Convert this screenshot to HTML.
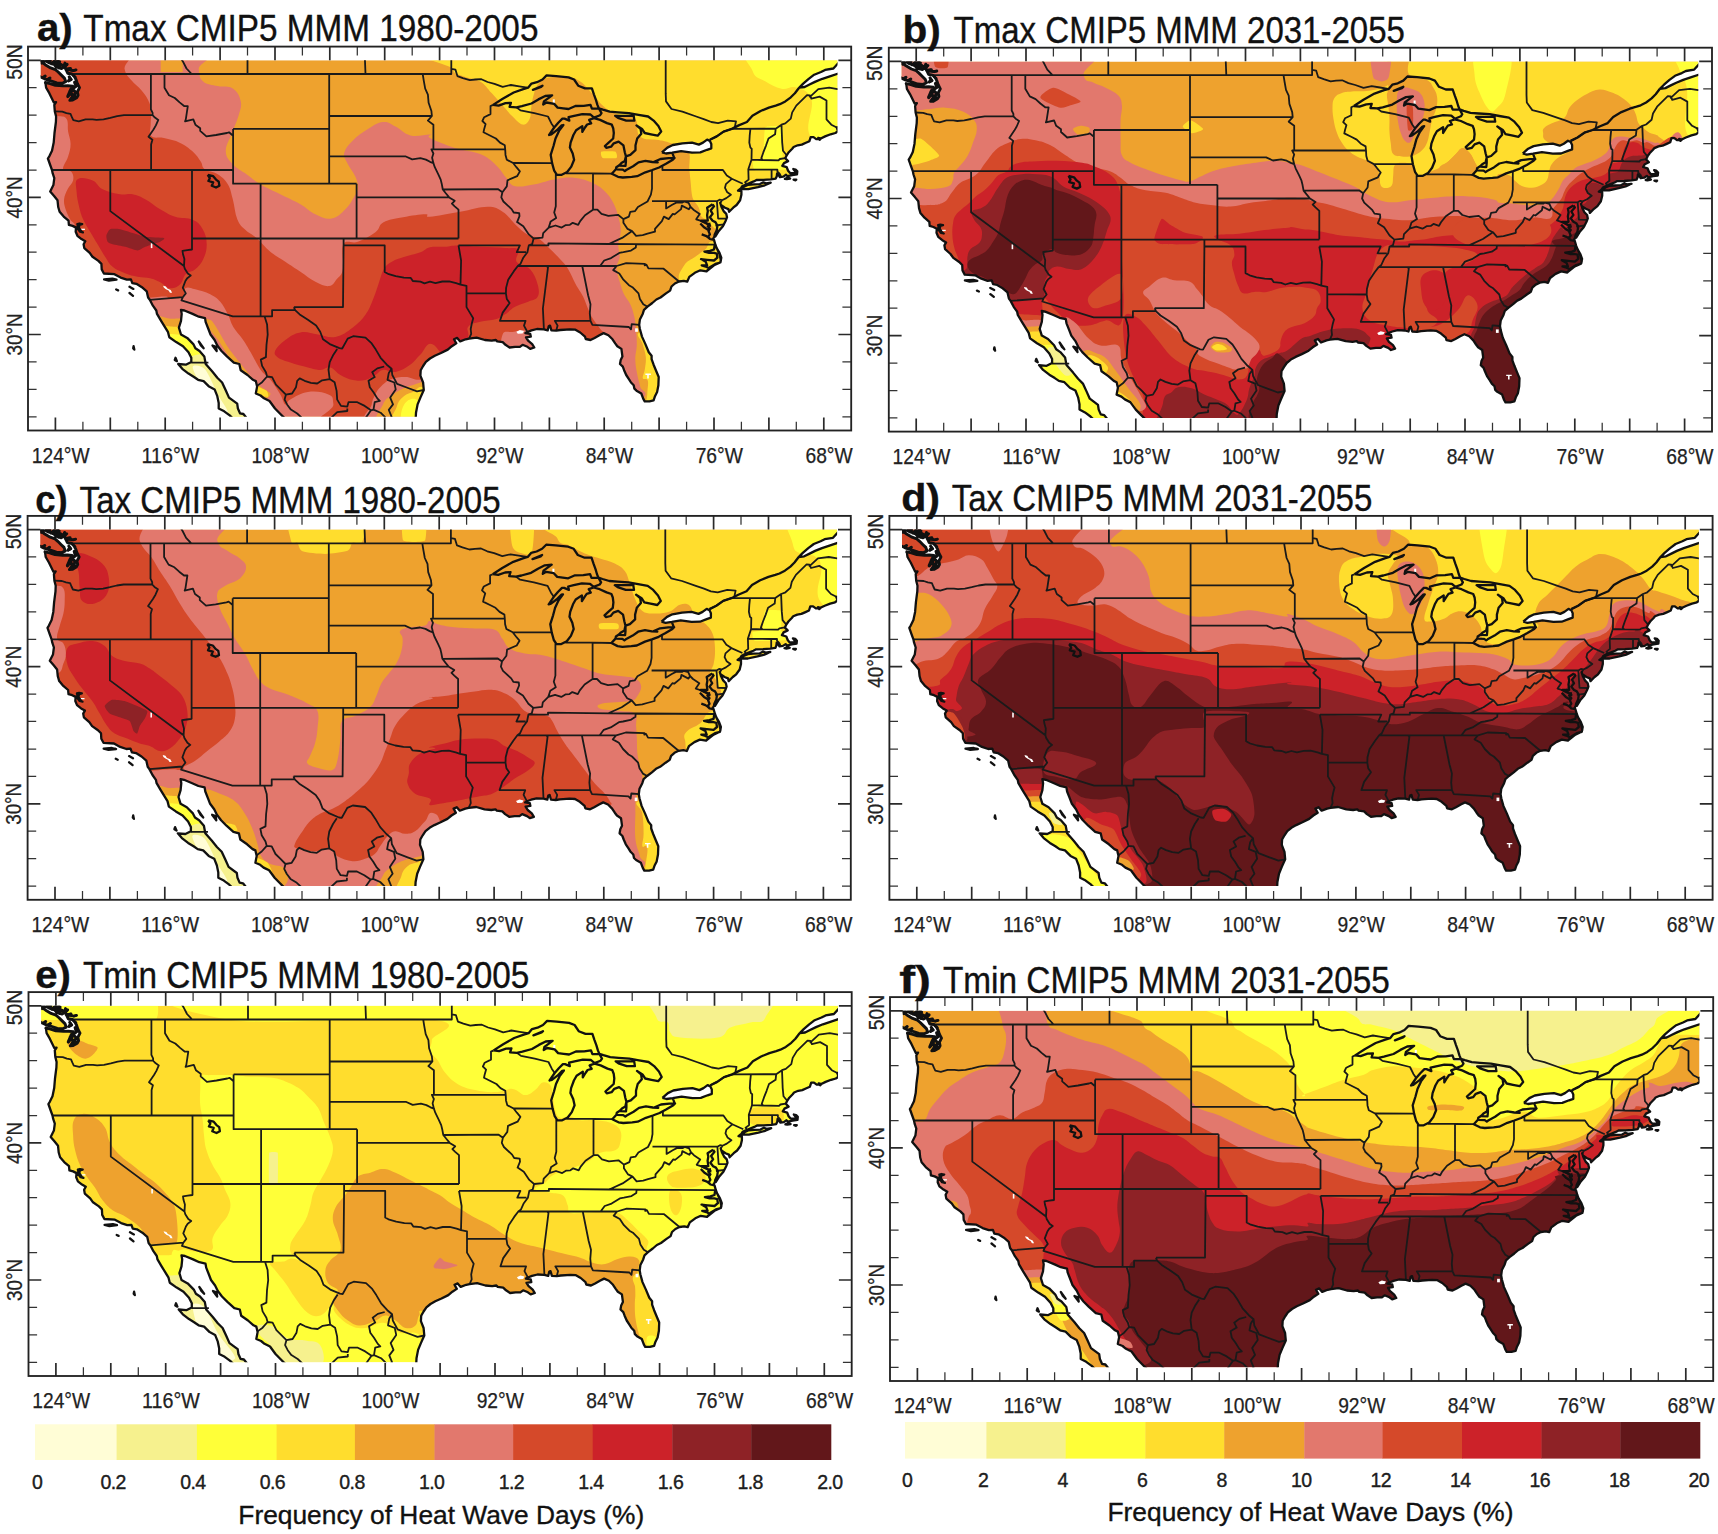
<!DOCTYPE html><html><head><meta charset="utf-8"><title>Frequency of Heat Wave Days</title><style>html,body{margin:0;padding:0;background:#fff}svg{display:block}text{font-family:"Liberation Sans",sans-serif;fill:#111;stroke:#111;stroke-width:0.35px}.tk{font-size:21.5px;fill:#222;stroke:#222;stroke-width:0.25px}.ti{font-size:36px}.tb{font-size:39px;font-weight:bold}.cb{font-size:19.5px;fill:#222;letter-spacing:-0.6px}.cl{font-size:26.6px}</style></head><body>
<svg width="1718" height="1534" viewBox="0 0 1718 1534">
<defs><clipPath id="dr"><rect x="40.6" y="60.3" width="796.9" height="356.5"/></clipPath>
<clipPath id="fc"><rect x="28.0" y="46.6" width="823.2" height="383.9"/></clipPath>
<g id="bm"><path d="M0.6 74.7 L36.2 74.7 L40.3 76.8 L44.5 78.8 L45.4 82.5 L46.1 87.7 L49.3 93.2 L52.0 98.7 L53.8 102.4 L56.1 102.1 L54.3 104.9 L54.8 111.4 L56.1 116.5 L55.9 122.0 L54.5 133.0 L53.7 142.6 L52.0 150.8 L49.3 156.3 L47.9 158.5 L50.0 164.5 L52.0 170.0 L52.7 173.4 L54.3 178.2 L53.4 185.1 L50.2 191.4 L54.1 196.0 L57.5 200.2 L58.2 207.0 L59.6 211.8 L63.7 216.6 L68.5 220.7 L68.9 224.8 L72.6 225.9 L76.0 227.6 L75.7 231.7 L77.4 235.8 L81.5 239.1 L85.3 241.3 L83.6 244.3 L84.3 248.1 L89.7 252.9 L92.5 256.8 L98.4 260.9 L101.4 263.9 L101.7 269.4 L103.9 273.5 L114.4 274.2 L120.6 277.6 L126.8 279.7 L130.9 279.3 L132.3 283.1 L136.4 283.8 L141.9 287.2 L146.7 291.3 L148.1 297.5 L149.8 299.8 L152.9 305.7 L156.3 310.5 L157.0 313.9 L161.1 320.8 L164.5 326.3 L167.9 331.8 L169.3 337.3 L176.2 342.1 L183.0 346.2 L188.5 352.3 L191.3 357.8 L191.3 361.9 L185.8 364.7 L178.2 364.0 L182.3 368.8 L188.5 373.6 L194.0 377.0 L198.1 379.8 L203.6 381.1 L209.1 386.6 L214.6 389.4 L217.3 396.2 L218.7 403.1 L218.7 408.5 L224.2 411.3 L229.7 415.4 L235.2 420.9 L235.2 444.2 L0.6 444.2ZM104.1 279.3 L108.9 280.6 L116.5 279.7 L112.4 278.7 L104.1 279.3ZM129.5 286.8 L133.4 288.9 L131.6 287.9 L129.5 286.8ZM129.5 293.0 L133.0 295.8 L130.9 294.1 L129.5 293.0ZM116.2 289.5 L118.1 290.4 L116.2 289.5ZM133.6 346.2 L134.3 349.6 L133.2 348.2 L133.6 346.2ZM175.5 357.8 L176.9 361.2 L174.8 359.9 L175.5 357.8Z" fill="#fff" fill-rule="evenodd" clip-path="url(#fc)"/>
<path d="M45.2 58.9 L45.8 61.0 L48.6 62.6 L54.1 64.4 L56.1 66.9 L61.6 68.5 L65.0 66.5 L65.7 69.2 L66.4 70.3 L67.8 73.3 L71.9 74.0 L74.6 76.8 L76.0 79.5 L77.4 83.6 L79.5 87.7 L77.4 91.8 L78.1 95.3 L76.7 97.7 L72.6 100.1 L69.8 100.3 L71.9 97.3 L74.6 96.0 L75.3 91.8 L73.3 89.8 L69.8 93.2 L67.8 96.0 L70.5 89.8 L72.6 86.1 L67.8 85.7 L63.0 85.9 L55.4 85.3 L50.0 83.6 L45.4 82.5 L45.0 80.9 L44.5 78.8 L50.0 80.5 L56.8 82.9 L62.3 83.3 L65.7 81.6 L64.4 78.1 L61.6 75.4 L58.2 72.0 L55.4 69.6 L50.6 67.9 L45.2 64.7 L41.7 62.0 L38.3 59.2 L37.6 56.2 L45.2 56.2Z" fill="#fff" fill-rule="evenodd" clip-path="url(#fc)"/>
<path d="M248.9 420.9 L243.4 414.0 L240.0 413.3 L237.9 408.5 L237.2 403.7 L229.0 397.6 L225.6 390.0 L222.1 382.5 L217.3 377.7 L212.3 371.5 L205.7 364.0 L204.3 356.4 L199.5 351.0 L195.4 348.2 L193.3 344.1 L187.2 337.9 L181.0 334.5 L178.9 327.7 L181.0 320.8 L181.7 313.9 L181.0 309.8 L184.4 310.5 L192.6 313.9 L198.8 316.7 L205.0 318.1 L205.7 322.2 L208.4 329.0 L210.5 334.5 L214.6 340.0 L217.3 345.5 L221.5 351.0 L226.9 356.4 L233.8 362.6 L239.3 364.0 L240.7 370.2 L247.5 375.0 L253.0 379.8 L255.8 381.1 L257.1 386.6 L255.8 393.5 L260.6 395.5 L264.0 398.3 L269.5 401.0 L275.0 408.5 L280.4 414.0 L285.9 419.5ZM198.8 341.4 L203.6 348.2 L200.9 345.5 L198.8 341.4ZM212.5 345.5 L216.7 351.0 L216.0 346.8 L212.5 345.5Z" fill="#fff" fill-rule="evenodd" clip-path="url(#fc)"/>
<path d="M415.6 420.9 L416.0 412.7 L417.6 404.4 L420.4 397.6 L423.8 390.0 L423.1 382.5 L420.4 375.6 L420.7 370.2 L423.1 366.0 L425.9 361.9 L430.0 358.5 L434.8 355.8 L441.0 353.0 L447.8 349.6 L451.9 346.2 L456.3 343.4 L454.0 339.3 L457.2 337.9 L460.2 341.4 L465.7 339.3 L469.1 338.6 L476.6 337.7 L484.9 340.0 L491.7 340.7 L495.9 340.0 L497.2 341.4 L502.7 342.1 L505.5 344.8 L509.6 347.5 L515.1 346.8 L519.9 346.8 L522.6 344.8 L527.4 346.8 L530.2 348.9 L534.3 347.5 L532.2 344.1 L528.1 340.7 L526.0 337.3 L530.8 336.6 L530.2 333.8 L525.4 333.1 L527.4 332.0 L531.5 330.4 L537.0 329.0 L543.9 329.4 L547.7 330.4 L548.7 326.3 L550.0 325.6 L551.4 330.4 L556.2 330.7 L560.3 330.0 L569.9 329.3 L575.4 329.7 L580.2 332.5 L585.0 336.6 L585.7 339.0 L590.5 340.0 L594.6 337.9 L599.4 335.2 L603.6 333.1 L608.4 335.2 L612.5 339.3 L615.2 343.4 L617.3 346.2 L621.4 348.9 L622.4 356.4 L620.7 359.9 L620.0 364.0 L622.8 366.7 L624.1 370.2 L626.2 375.0 L628.9 379.1 L631.0 382.5 L633.7 385.2 L634.4 388.7 L636.5 390.7 L641.3 393.5 L643.3 398.9 L644.7 401.3 L649.5 401.3 L653.6 400.3 L655.0 396.2 L657.1 392.1 L658.4 385.2 L658.7 377.0 L656.4 371.5 L653.6 364.7 L651.6 359.2 L651.6 355.8 L648.8 352.3 L645.4 344.1 L642.0 336.6 L639.9 329.0 L639.2 324.9 L639.9 319.4 L642.7 313.9 L644.0 309.8 L647.5 306.7 L652.3 303.0 L656.4 299.5 L660.5 297.5 L666.0 293.4 L670.1 290.6 L671.5 286.5 L674.9 283.5 L679.0 281.5 L683.8 280.8 L687.2 281.7 L689.3 276.9 L694.8 272.8 L700.3 270.3 L706.5 271.4 L709.9 267.3 L715.4 263.9 L720.4 262.5 L721.3 257.7 L719.5 252.9 L716.7 248.1 L715.4 244.7 L714.0 239.9 L713.3 238.5 L714.4 236.5 L715.4 236.5 L718.8 231.0 L722.9 226.2 L725.7 220.7 L727.0 217.3 L726.3 213.9 L723.6 211.1 L721.5 207.0 L720.2 202.9 L720.9 205.0 L725.0 207.7 L728.4 209.1 L729.1 211.8 L733.2 207.7 L736.6 205.0 L740.1 200.2 L741.4 194.7 L741.4 191.2 L738.0 190.6 L740.8 188.5 L742.1 186.4 L744.9 185.1 L749.7 183.0 L753.8 181.4 L756.5 180.0 L763.4 179.9 L770.8 179.3 L775.7 178.6 L776.8 176.2 L777.1 173.4 L778.5 174.8 L779.9 177.1 L783.3 176.6 L786.0 174.8 L787.4 176.2 L792.2 175.1 L797.0 174.4 L797.3 171.4 L795.6 169.6 L793.3 169.0 L794.9 171.1 L795.6 173.0 L790.1 173.1 L788.1 170.7 L786.7 167.2 L782.3 165.9 L784.0 163.1 L788.1 161.1 L785.3 158.3 L786.7 155.3 L788.8 152.2 L792.2 148.7 L793.6 147.0 L797.7 145.3 L801.8 144.6 L805.9 142.8 L809.4 141.2 L810.7 137.1 L813.5 137.1 L816.2 139.1 L820.3 138.7 L825.1 136.4 L830.6 134.3 L835.4 133.0 L837.9 131.2 L836.8 127.5 L840.2 127.5 L847.1 126.8 L853.9 124.7 L864.9 124.7 L864.9 444.2 L415.6 444.2ZM741.0 189.2 L748.3 189.2 L757.9 187.1 L764.8 185.3 L770.7 182.7 L766.1 183.3 L763.4 182.3 L760.0 184.1 L753.8 184.4 L748.3 184.8 L744.5 186.4 L741.0 189.2ZM784.9 178.9 L788.1 177.5 L790.1 178.5 L786.7 179.2 L784.9 178.9ZM793.6 179.6 L796.3 179.6 L795.6 180.3 L793.6 179.6Z" fill="#fff" fill-rule="evenodd" clip-path="url(#fc)"/>
<path d="M799.1 87.7 L804.6 87.0 L810.0 84.3 L815.5 81.6 L822.4 78.8 L830.6 76.1 L838.9 73.3 L848.5 71.3 L858.1 70.6 L858.1 56.2 L845.7 57.6 L838.9 62.4 L833.4 68.5 L825.1 69.9 L821.0 72.0 L814.2 74.7 L808.7 78.8 L803.2 83.6 L799.1 87.7Z" fill="#fff" fill-rule="evenodd" clip-path="url(#fc)"/>
<path d="M661.9 152.4 L667.4 147.6 L672.8 145.0 L682.4 143.3 L692.0 142.6 L698.9 144.6 L703.0 142.6 L707.1 139.6 L709.9 140.9 L711.3 143.9 L711.3 148.3 L707.1 149.8 L700.3 152.4 L692.0 152.6 L681.1 151.1 L672.2 152.6 L666.0 153.5 L661.9 152.4Z" fill="#fff" fill-rule="evenodd" clip-path="url(#fc)"/>
<path d="M516.4 331.8 L519.9 330.1 L524.0 331.1 L522.6 333.4 L517.8 333.8Z" fill="#fff"/>
<path d="M163.1 285.8 L165.9 286.5 L167.3 288.6 L170.7 290.0 L172.1 292.7 L170.0 292.7 L168.6 290.6 L165.9 289.3 L163.8 287.6Z" fill="#fff"/>
<path d="M150.8 243.3 L152.4 243.3 L152.4 248.1 L150.8 248.1Z" fill="#fff"/>
<path d="M645.4 373.6 L650.9 373.6 L650.9 375.0 L648.8 375.0 L648.8 378.4 L647.2 378.4 L647.2 375.0 L645.4 375.0Z" fill="#fff"/>
<path d="M635.1 328.3 L637.9 328.3 L637.9 331.8 L635.1 331.8Z" fill="#fff"/>
<path d="M552.8 99.4 L554.8 99.4 L554.8 103.5 L552.8 103.5Z" fill="#fff"/>
<path d="M80.8 228.7 L84.9 228.7 L84.9 230.0 L80.8 230.0Z" fill="#fff"/>
<path d="M28.0 46.6H851.2V430.5H28.0ZM40.6 60.3H837.5V416.8H40.6Z" fill="#fff" fill-rule="evenodd"/>
<g clip-path="url(#dr)">
<path d="M67.8 74.0 L451.3 74.0 L451.3 68.8 L455.4 69.6 L457.4 76.1 L462.9 78.1 L469.8 80.2 L475.3 79.5 L481.4 79.2 L487.6 82.0 L494.5 83.9 L502.7 86.8 L510.9 85.0 L519.2 86.4 L527.4 87.7M54.8 111.4 L62.3 111.7 L66.4 113.1 L70.5 113.8 L71.9 117.2 L73.3 120.2 L78.8 121.3 L85.6 119.3 L92.5 119.3 L96.6 119.9 L103.5 119.3 L110.3 117.9 L117.2 116.2 L124.0 115.2 L152.6 115.2M150.9 74.0 L150.9 109.4 L152.6 112.8 L152.6 115.2 L154.9 117.6 L158.3 119.9 L155.9 125.4 L153.5 129.5 L148.5 136.8 L152.4 139.8 L151.1 144.6 L151.1 170.0M52.6 170.0 L233.1 170.0M110.3 170.0 L110.3 211.1 L184.0 266.0 L184.8 268.7 L187.8 273.5 L190.7 275.6 L187.2 278.3 L185.4 281.0 L182.8 287.9 L185.8 293.4 L182.8 297.2M184.0 266.0 L184.4 259.1 L183.0 254.3 L182.5 250.9 L187.2 250.2 L192.0 249.5 L192.0 170.0M149.8 299.8 L182.8 297.2 L181.5 300.4 L232.8 316.3 L272.1 316.3 L272.1 310.1 L295.1 310.1M293.9 307.1 L295.1 310.1 L299.7 314.4 L307.9 319.7 L316.1 325.6 L320.2 331.8 L323.0 339.3 L329.8 344.1 L339.4 348.2 L342.2 348.5 L347.7 338.6 L353.2 336.2 L365.5 337.7 L371.7 343.4 L375.8 349.6 L380.6 357.8 L386.8 364.7 L391.6 368.8 L392.3 375.0 L397.1 383.9 L408.0 388.0 L417.0 391.4 L423.8 390.0M164.5 74.0 L164.5 87.7 L169.0 95.3 L174.8 98.0 L179.6 102.4 L184.4 106.2 L187.8 106.2 L185.8 119.3 L185.1 121.3 L193.3 119.4 L195.4 124.7 L200.2 128.2 L200.2 130.9 L206.4 136.4 L216.0 135.0 L226.9 133.0 L229.0 132.3 L233.1 135.7M233.1 128.9 L329.2 128.9M233.1 128.9 L233.1 183.7 L356.6 183.7M329.2 74.0 L329.2 183.7M329.2 116.0 L431.9 116.0M329.2 156.3 L405.3 156.3 L412.2 159.4 L420.4 158.2 L425.9 159.6 L430.0 161.8 L433.4 163.1M356.6 183.7 L356.6 238.5M356.6 197.4 L449.2 197.4M260.6 183.7 L260.6 316.3M192.0 238.5 L458.5 238.5M343.6 238.5 L343.6 245.4 L343.0 307.1 L293.9 307.1M343.6 245.4 L384.7 245.4 L384.7 272.0 L388.8 274.2 L395.7 276.2 L403.9 277.6 L410.8 277.9 L412.8 281.0 L420.4 281.7 L424.5 283.4 L430.0 281.7 L435.5 283.1 L442.3 281.5 L449.2 281.3 L456.1 283.1 L460.5 284.6 L466.5 285.8 L466.5 307.1 L469.8 312.6 L473.2 318.3 L471.8 323.5 L470.7 329.0 L471.2 333.8 L469.1 338.6M458.5 245.4 L461.1 260.5 L460.5 284.6M466.5 293.1 L505.9 293.4M458.5 245.4 L519.9 245.4 L516.8 252.2 L526.0 252.2M458.5 238.5 L458.5 209.7 L454.7 206.3 L451.9 203.6 L454.7 200.8 L449.2 197.4 L445.8 193.3 L442.8 189.5 L441.7 183.7 L440.7 179.6 L438.2 174.1 L434.8 167.2 L433.4 163.1 L432.1 157.7 L433.4 153.5 L431.4 149.4 L433.4 149.4 L433.4 124.7 L427.9 120.6 L431.9 116.0 L431.4 111.0 L428.6 102.8 L427.9 94.6 L425.2 88.7 L423.8 80.9 L422.7 74.0M442.8 189.5 L498.2 189.2 L502.4 192.2M433.4 149.4 L505.2 149.4M493.1 104.9 L490.5 106.1 L490.5 114.1 L484.2 117.2 L482.4 121.0 L485.6 124.1 L484.2 128.9 L483.5 132.3 L490.4 135.7 L495.9 138.5 L500.0 142.6 L504.8 145.3 L505.2 149.4 L505.5 154.9 L506.8 159.7 L513.1 163.0 L516.4 167.2 L519.9 171.4 L517.1 176.2 L507.5 180.3 L506.8 186.4 L502.4 192.2 L501.3 197.4 L503.4 201.5 L511.6 209.1 L513.7 212.5 L519.2 213.2 L519.5 216.2 L517.1 222.1 L523.3 226.2 L528.8 234.4 L533.6 238.5 L532.2 244.0 L528.8 245.4 L527.4 252.2 L523.3 257.7 L520.5 263.9 L517.8 266.0 L513.7 271.4 L508.2 279.7 L506.1 287.9 L505.9 293.4 L506.8 298.9 L509.6 303.0 L502.7 312.6 L500.0 320.8 L525.6 320.8 L524.0 325.6 L527.4 332.0M513.1 163.0 L552.1 163.1M516.4 107.3 L520.5 110.4 L534.3 113.1 L548.0 116.5 L551.4 123.4 L554.2 127.5M555.8 174.1 L555.8 206.3 L554.2 212.5 L556.2 218.0 L550.7 221.4 L548.7 227.6 L543.2 233.1 L542.5 237.6 L533.6 238.5M548.7 227.6 L555.5 225.5 L561.7 227.6 L565.8 225.1 L569.9 224.8 L572.7 222.8 L578.2 224.8 L580.2 221.1 L585.0 215.2 L593.0 209.7 L597.4 209.7 L601.5 213.9 L608.4 215.9 L618.0 214.8 L623.4 219.1 L628.9 216.6 L630.3 211.8 L635.1 211.1 L637.9 207.0 L647.5 201.5 L650.9 194.7 L652.0 188.6 L652.0 170.0M593.0 209.7 L593.0 174.1M565.8 173.3 L593.0 173.3 L611.8 173.7M652.0 201.2 L716.9 201.2 L719.5 199.7 L722.0 200.2M716.9 201.2 L718.1 218.5 L727.0 218.7M662.4 166.3 L662.4 170.0 L722.9 170.0 L726.8 175.5 L731.8 178.8 L725.9 184.1 L725.0 187.8 L727.0 191.9 L730.9 194.7 L726.3 198.1 L722.0 200.2 L720.2 202.9M731.8 178.8 L742.8 183.7M666.1 201.2 L666.1 208.4 L672.2 204.7 L676.3 202.6 L682.4 202.6 L684.1 201.5 L688.6 202.9 L690.4 206.7 L693.4 209.7 L699.7 213.9 L696.2 219.3 L700.3 220.7 L709.9 225.5M715.4 225.5 L724.3 224.4M690.4 206.7 L688.9 209.3 L681.8 205.6 L681.1 209.1 L674.6 214.4 L672.8 213.9 L668.7 219.1 L663.9 216.6 L661.9 221.1 L655.0 228.9 L655.0 231.7 L647.5 233.7 L642.7 235.1 L636.1 235.8 L632.1 231.1 L627.6 228.9 L623.4 222.8 L623.4 219.1M632.1 231.1 L622.1 237.9 L608.8 244.0M715.8 244.7 L636.1 244.2 L608.8 244.0 L548.4 243.3 L548.4 245.4 L528.8 245.4M636.1 244.2 L635.8 247.5 L631.0 250.6 L623.4 252.2 L619.3 252.9 L611.1 258.1 L604.2 260.5 L600.1 266.0M616.6 266.0 L517.8 266.0M616.6 266.0 L626.2 263.2 L644.9 263.9 L644.7 265.3 L646.4 264.6 L648.4 268.4 L663.6 268.7 L679.0 281.5M616.6 266.0 L613.2 270.1 L619.3 273.5 L623.4 279.7 L628.9 285.2 L632.4 287.2 L638.5 293.4 L639.9 298.9 L643.3 304.3 L647.5 306.7M639.2 324.9 L631.7 324.2 L631.0 329.4 L628.9 327.0 L592.4 324.9 L590.5 320.8 L554.8 320.8 L557.6 325.6 L556.2 330.7M590.5 320.8 L589.8 313.3 L590.5 304.3 L588.1 295.2 L582.3 266.2M546.6 266.0 L548.0 267.3 L542.9 308.5 L543.9 329.4M709.9 139.8 L716.7 136.4 L723.6 131.6 L731.8 128.9 L775.7 128.7M750.4 128.9 L749.7 135.7 L749.3 142.6 L750.4 147.6 L751.7 148.7 L751.5 159.7 L748.3 169.3 L748.6 179.6 L745.1 182.3 L746.2 183.7M751.5 159.7 L762.6 160.0 L778.5 160.4 L779.9 159.0 L785.1 158.1M775.7 128.7 L775.1 134.3 L768.5 138.5 L766.1 145.3 L763.4 152.2 L761.3 158.3 L762.6 160.0M748.3 169.3 L771.6 169.7 L777.4 169.7 L777.4 171.4 L779.9 174.1 L781.0 176.8M771.6 169.7 L771.6 179.3M786.7 155.3 L783.0 150.8 L782.2 142.6 L781.5 124.7M775.7 128.7 L781.5 124.7 L785.3 123.4 L790.8 118.6 L792.2 112.4 L796.3 105.6 L807.0 95.1 L810.0 95.3 L811.4 98.7 L819.6 96.6 L826.5 100.5 L826.5 119.3 L831.3 124.7 L836.8 127.5M809.4 97.3 L818.3 89.1 L829.2 87.7 L837.5 89.1 L843.0 87.7M191.7 74.0 L186.5 68.5 L183.0 61.7 L179.6 56.2M247.5 74.0 L247.5 56.2M365.5 74.0 L364.8 56.2M451.3 68.8 L451.3 56.2M665.7 56.2 L665.7 93.9 L666.0 101.4 L671.5 109.0 L682.4 111.7 L696.2 116.5 L704.4 119.3 L711.3 122.0 L718.1 123.1 L727.7 120.6 L736.0 121.3 L734.6 128.2M191.3 362.6 L208.4 362.6M264.7 316.7 L267.1 324.6 L267.7 334.6 L266.5 344.7 L265.9 357.1 L260.8 359.6 L262.1 365.9 L265.9 372.2 L267.1 376.5 L272.1 377.1 L275.9 384.7 L280.9 389.6 L285.9 394.7M267.1 376.5 L262.1 382.2 L257.1 385.9M285.9 394.7 L284.6 399.6 L287.2 404.7 L290.9 409.6 L297.2 413.5 L302.1 418.1M285.9 394.7 L292.1 393.5 L296.0 387.2 L297.2 380.8 L299.7 378.4 L304.6 380.8 L310.9 382.8 L317.2 383.5 L322.2 380.3 L329.7 379.1M337.2 349.0 L333.4 354.7 L329.7 362.2 L328.5 369.6 L329.7 379.1 L334.6 382.2 L336.6 390.9 L337.2 399.6 L341.0 405.9 L347.3 406.6 L348.5 402.2 L357.3 402.2 L364.7 405.9 L371.0 410.3M347.3 408.5 L347.3 411.0 L337.2 412.2 L330.9 418.1M384.2 366.5 L377.3 368.4 L372.2 372.2 L374.7 377.1 L368.5 380.8 L369.8 387.2 L373.5 392.2 L377.3 398.4 L379.8 400.9 L374.7 402.2 L373.5 409.6 L371.0 410.3 L365.5 418.1M391.6 368.8 L388.8 372.9 L387.5 379.8 L394.3 382.5 L395.7 389.4 L390.2 397.6 L393.0 404.4 L388.8 409.9 L391.6 416.8 L387.5 420.9M373.5 409.6 L380.6 412.7 L386.1 418.1" fill="none" stroke="#1a1a1a" stroke-width="1.8" stroke-linejoin="round"/>
<path d="M38.3 59.2 L41.7 62.0 L45.2 64.7 L50.6 67.9 L55.4 69.6 L58.2 72.0 L61.6 75.4 L64.4 78.1 L65.7 81.6 L62.3 83.3 L56.8 82.9 L50.0 80.5 L44.5 78.8 L40.3 76.8 L36.2 74.7M45.2 58.9 L45.8 61.0 L48.6 62.6 L54.1 64.4 L56.1 66.9 L61.6 68.5 L65.0 66.5 L65.7 69.2 L66.4 70.3 L67.8 73.3 L71.9 74.0 L74.6 76.8 L76.0 79.5 L77.4 83.6 L79.5 87.7 L77.4 91.8 L78.1 95.3 L76.7 97.7 L72.6 100.1 L69.8 100.3 L71.9 97.3 L74.6 96.0 L75.3 91.8 L73.3 89.8 L69.8 93.2 L67.8 96.0 L70.5 89.8 L72.6 86.1 L67.8 85.7 L63.0 85.9 L55.4 85.3 L50.0 83.6 L45.4 82.5M39.0 60.3 L42.4 61.0M47.2 61.7 L48.6 58.9M52.7 64.1 L54.1 61.0M57.5 66.5 L59.6 61.7M63.7 67.2 L65.0 63.1M66.4 69.2 L70.5 68.5M72.6 74.7 L75.3 77.4M72.6 94.6 L75.3 98.0M69.8 91.2 L72.6 96.0M43.1 77.4 L45.2 76.1M47.9 79.2 L50.0 77.9M43.1 59.6 L43.8 61.7 L41.7 63.1M49.3 62.4 L50.6 59.6M58.9 67.9 L60.9 64.4 L63.0 65.8M69.8 69.9 L73.3 70.6 L76.0 69.9M69.2 76.8 L71.2 79.5 L68.5 80.9 L69.8 78.8M74.6 82.2 L76.0 86.4 L74.0 87.7M67.8 96.6 L71.2 92.5M45.8 61.0 L47.9 57.6M56.1 66.9 L56.1 63.1 L58.9 58.9M65.0 66.5 L67.1 64.4M67.8 69.9 L71.2 69.9M51.3 63.7 L55.4 60.3" fill="none" stroke="#111" stroke-width="2.9" stroke-linejoin="round" stroke-linecap="round"/>
<path d="M45.4 82.5 L46.1 87.7 L49.3 93.2 L52.0 98.7 L53.8 102.4 L56.1 102.1 L54.3 104.9 L54.8 111.4 L56.1 116.5 L55.9 122.0 L54.5 133.0 L53.7 142.6 L52.0 150.8 L49.3 156.3 L47.9 158.5 L50.0 164.5 L52.0 170.0 L52.7 173.4 L54.3 178.2 L53.4 185.1 L50.2 191.4 L54.1 196.0 L57.5 200.2 L58.2 207.0 L59.6 211.8 L63.7 216.6 L68.5 220.7 L68.9 224.8 L72.6 225.9 L76.0 227.6 L75.7 231.7 L77.4 235.8 L81.5 239.1 L85.3 241.3 L83.6 244.3 L84.3 248.1 L89.7 252.9 L92.5 256.8 L98.4 260.9 L101.4 263.9 L101.7 269.4 L103.9 273.5 L114.4 274.2 L120.6 277.6 L126.8 279.7 L130.9 279.3 L132.3 283.1 L136.4 283.8 L141.9 287.2 L146.7 291.3 L148.1 297.5 L149.8 299.8 L152.9 305.7 L156.3 310.5 L157.0 313.9 L161.1 320.8 L164.5 326.3 L167.9 331.8 L169.3 337.3 L176.2 342.1 L183.0 346.2 L188.5 352.3 L191.3 357.8 L191.3 361.9 L185.8 364.7 L178.2 364.0 L182.3 368.8 L188.5 373.6 L194.0 377.0 L198.1 379.8 L203.6 381.1 L209.1 386.6 L214.6 389.4 L217.3 396.2 L218.7 403.1 L218.7 408.5 L224.2 411.3 L229.7 415.4 L235.2 420.9M248.9 420.9 L243.4 414.0 L240.0 413.3 L237.9 408.5 L237.2 403.7 L229.0 397.6 L225.6 390.0 L222.1 382.5 L217.3 377.7 L212.3 371.5 L205.7 364.0 L204.3 356.4 L199.5 351.0 L195.4 348.2 L193.3 344.1 L187.2 337.9 L181.0 334.5 L178.9 327.7 L181.0 320.8 L181.7 313.9 L181.0 309.8 L184.4 310.5 L192.6 313.9 L198.8 316.7 L205.0 318.1 L205.7 322.2 L208.4 329.0 L210.5 334.5 L214.6 340.0 L217.3 345.5 L221.5 351.0 L226.9 356.4 L233.8 362.6 L239.3 364.0 L240.7 370.2 L247.5 375.0 L253.0 379.8 L255.8 381.1 L257.1 386.6 L255.8 393.5 L260.6 395.5 L264.0 398.3 L269.5 401.0 L275.0 408.5 L280.4 414.0 L285.9 419.5M415.6 420.9 L416.0 412.7 L417.6 404.4 L420.4 397.6 L423.8 390.0 L423.1 382.5 L420.4 375.6 L420.7 370.2 L423.1 366.0 L425.9 361.9 L430.0 358.5 L434.8 355.8 L441.0 353.0 L447.8 349.6 L451.9 346.2 L456.3 343.4 L454.0 339.3 L457.2 337.9 L460.2 341.4 L465.7 339.3 L469.1 338.6 L476.6 337.7 L484.9 340.0 L491.7 340.7 L495.9 340.0 L497.2 341.4 L502.7 342.1 L505.5 344.8 L509.6 347.5 L515.1 346.8 L519.9 346.8 L522.6 344.8 L527.4 346.8 L530.2 348.9 L534.3 347.5 L532.2 344.1 L528.1 340.7 L526.0 337.3 L530.8 336.6 L530.2 333.8 L525.4 333.1 L527.4 332.0 L531.5 330.4 L537.0 329.0 L543.9 329.4 L547.7 330.4 L548.7 326.3 L550.0 325.6 L551.4 330.4 L556.2 330.7 L560.3 330.0 L569.9 329.3 L575.4 329.7 L580.2 332.5 L585.0 336.6 L585.7 339.0 L590.5 340.0 L594.6 337.9 L599.4 335.2 L603.6 333.1 L608.4 335.2 L612.5 339.3 L615.2 343.4 L617.3 346.2 L621.4 348.9 L622.4 356.4 L620.7 359.9 L620.0 364.0 L622.8 366.7 L624.1 370.2 L626.2 375.0 L628.9 379.1 L631.0 382.5 L633.7 385.2 L634.4 388.7 L636.5 390.7 L641.3 393.5 L643.3 398.9 L644.7 401.3 L649.5 401.3 L653.6 400.3 L655.0 396.2 L657.1 392.1 L658.4 385.2 L658.7 377.0 L656.4 371.5 L653.6 364.7 L651.6 359.2 L651.6 355.8 L648.8 352.3 L645.4 344.1 L642.0 336.6 L639.9 329.0 L639.2 324.9 L639.9 319.4 L642.7 313.9 L644.0 309.8 L647.5 306.7 L652.3 303.0 L656.4 299.5 L660.5 297.5 L666.0 293.4 L670.1 290.6 L671.5 286.5 L674.9 283.5 L679.0 281.5 L683.8 280.8 L687.2 281.7 L689.3 276.9 L694.8 272.8 L700.3 270.3 L706.5 271.4 L709.9 267.3 L715.4 263.9 L720.4 262.5 L721.3 257.7 L719.5 252.9 L716.7 248.1 L715.4 244.7 L714.0 239.9 L713.3 238.5 L714.4 236.5 L715.4 236.5 L718.8 231.0 L722.9 226.2 L725.7 220.7 L727.0 217.3 L726.3 213.9 L723.6 211.1 L721.5 207.0 L720.2 202.9 L720.9 205.0 L725.0 207.7 L728.4 209.1 L729.1 211.8 L733.2 207.7 L736.6 205.0 L740.1 200.2 L741.4 194.7 L741.4 191.2 L738.0 190.6 L740.8 188.5 L742.1 186.4 L744.9 185.1 L749.7 183.0 L753.8 181.4 L756.5 180.0 L763.4 179.9 L770.8 179.3 L775.7 178.6 L776.8 176.2 L777.1 173.4 L778.5 174.8 L779.9 177.1 L783.3 176.6 L786.0 174.8 L787.4 176.2 L792.2 175.1 L797.0 174.4 L797.3 171.4 L795.6 169.6 L793.3 169.0 L794.9 171.1 L795.6 173.0 L790.1 173.1 L788.1 170.7 L786.7 167.2 L782.3 165.9 L784.0 163.1 L788.1 161.1 L785.3 158.3 L786.7 155.3 L788.8 152.2 L792.2 148.7 L793.6 147.0 L797.7 145.3 L801.8 144.6 L805.9 142.8 L809.4 141.2 L810.7 137.1 L813.5 137.1 L816.2 139.1 L820.3 138.7 L825.1 136.4 L830.6 134.3 L835.4 133.0 L837.9 131.2 L836.8 127.5 L840.2 127.5 L847.1 126.8 L853.9 124.7M799.1 87.7 L804.6 87.0 L810.0 84.3 L815.5 81.6 L822.4 78.8 L830.6 76.1 L838.9 73.3 L848.5 71.3 L858.1 70.6M858.1 56.2 L845.7 57.6 L838.9 62.4 L833.4 68.5 L825.1 69.9 L821.0 72.0 L814.2 74.7 L808.7 78.8 L803.2 83.6 L799.1 87.7M39.0 60.3 L42.4 61.0M47.2 61.7 L48.6 58.9M52.7 64.1 L54.1 61.0M57.5 66.5 L59.6 61.7M63.7 67.2 L65.0 63.1M66.4 69.2 L70.5 68.5M72.6 74.7 L75.3 77.4M72.6 94.6 L75.3 98.0M69.8 91.2 L72.6 96.0M43.1 77.4 L45.2 76.1M47.9 79.2 L50.0 77.9M43.1 59.6 L43.8 61.7 L41.7 63.1M49.3 62.4 L50.6 59.6M58.9 67.9 L60.9 64.4 L63.0 65.8M69.8 69.9 L73.3 70.6 L76.0 69.9M69.2 76.8 L71.2 79.5 L68.5 80.9 L69.8 78.8M74.6 82.2 L76.0 86.4 L74.0 87.7M67.8 96.6 L71.2 92.5M45.8 61.0 L47.9 57.6M56.1 66.9 L56.1 63.1 L58.9 58.9M65.0 66.5 L67.1 64.4M67.8 69.9 L71.2 69.9M51.3 63.7 L55.4 60.3M714.0 239.9 L709.9 239.0 L707.8 237.2 L709.9 234.4 L708.5 231.0 L709.9 228.9 L707.8 226.2 L709.9 225.2 L705.8 222.8 L701.0 220.7 L707.8 220.7 L707.1 215.2 L707.8 211.1 L707.1 207.7 L712.6 204.3M712.6 204.3 L714.0 206.3 L710.6 210.4 L712.6 213.9 L709.9 217.3 L712.6 220.7 L715.4 222.1 L717.4 225.5 L716.7 230.3 L714.7 234.4 L714.4 236.5M709.9 238.5 L705.8 235.8 L701.7 234.4M709.9 231.0 L704.4 227.6 L700.3 223.5M709.9 226.9 L709.2 222.8M76.0 227.6 L78.1 226.9 L77.4 224.1 L79.5 223.5 L82.2 224.1 L79.5 224.8 L78.8 227.6 L81.5 231.7 L82.9 232.4 L80.1 231.7 L77.4 228.3 L76.0 227.6M709.9 139.8 L716.7 136.4 L723.6 131.6 L731.8 128.9 L738.7 125.4 L746.9 122.0 L752.4 115.8 L760.6 111.0 L768.9 107.6 L775.7 105.6 L779.9 104.2 L785.3 101.4 L790.8 97.3 L794.9 93.2 L799.1 87.7M104.1 279.3 L108.9 280.6 L116.5 279.7 L112.4 278.7 L104.1 279.3ZM129.5 286.8 L133.4 288.9 L131.6 287.9 L129.5 286.8ZM129.5 293.0 L133.0 295.8 L130.9 294.1 L129.5 293.0ZM116.2 289.5 L118.1 290.4 L116.2 289.5ZM133.6 346.2 L134.3 349.6 L133.2 348.2 L133.6 346.2ZM175.5 357.8 L176.9 361.2 L174.8 359.9 L175.5 357.8ZM198.8 341.4 L203.6 348.2 L200.9 345.5 L198.8 341.4ZM212.5 345.5 L216.7 351.0 L216.0 346.8 L212.5 345.5ZM741.0 189.2 L748.3 189.2 L757.9 187.1 L764.8 185.3 L770.7 182.7 L766.1 183.3 L763.4 182.3 L760.0 184.1 L753.8 184.4 L748.3 184.8 L744.5 186.4 L741.0 189.2ZM784.9 178.9 L788.1 177.5 L790.1 178.5 L786.7 179.2 L784.9 178.9ZM793.6 179.6 L796.3 179.6 L795.6 180.3 L793.6 179.6ZM818.3 137.8 L821.0 138.5 L819.6 139.8 L818.3 137.8ZM615.2 115.8 L624.8 115.8 L633.7 115.8 L634.4 120.6 L626.2 120.6 L618.0 117.9 L615.2 115.8ZM532.9 89.8 L542.5 85.7 L541.1 87.0 L532.9 89.8ZM714.7 244.7 L714.0 249.5 L709.9 250.9 L704.4 251.6 L709.2 252.9 L714.0 252.9 L716.7 253.6 L717.4 257.7 L714.0 260.5 L707.1 259.8 L701.0 259.1 L705.8 261.8 L707.1 265.3 L701.7 265.3 L705.8 266.6 L708.5 268.0M717.4 249.5 L719.5 254.3 L720.9 260.5 L720.2 262.5 L714.0 265.3 L707.1 270.8M493.1 104.9 L502.7 98.7 L513.7 92.5 L523.3 89.1 L528.1 87.7 L531.5 83.6 L537.0 82.2 L542.5 79.5 L546.6 75.4 L556.2 76.1 L568.6 77.4 L574.1 79.5 L578.2 85.7 L585.0 88.4 L591.9 88.4 L594.0 94.6 L596.0 100.1 L597.4 104.9 L598.8 108.3 L591.9 108.6 L590.5 104.9 L583.7 105.8 L575.4 106.0 L568.6 109.0 L563.1 108.3 L557.6 107.6 L554.2 103.9 L546.6 102.5 L543.2 104.5 L543.9 101.4 L549.4 97.3 L552.1 95.3 L545.2 96.0 L538.4 99.4 L531.5 103.5 L521.9 106.2 L516.4 107.3 L509.6 106.9 L510.9 102.8 L505.5 103.2 L498.6 105.6 L493.1 104.9M594.0 117.6 L590.5 114.5 L582.3 114.1 L574.1 115.8 L568.6 117.2 L569.3 120.6 L564.5 118.6 L562.4 118.6 L558.3 122.7 L554.2 127.5 L552.8 129.5 L549.1 135.0 L551.4 134.3 L556.9 130.2 L561.7 125.4 L563.4 125.0 L559.0 130.9 L555.5 138.5 L553.5 146.0 L550.7 154.9 L552.1 163.1 L554.2 170.7 L556.9 174.8 L561.7 174.8 L567.2 172.0 L571.3 166.6 L574.1 159.7 L572.7 153.5 L569.9 147.4 L570.6 142.6 L573.4 135.0 L576.1 130.2 L582.3 126.1 L582.3 131.9 L585.0 127.5 L587.1 124.5 L591.2 123.4 L589.1 119.9 L594.0 118.2M594.0 118.2 L600.1 119.9 L607.0 123.1 L611.8 124.7 L613.2 128.2 L613.8 133.0 L613.2 138.5 L608.4 142.8 L604.9 146.0 L606.3 147.8 L611.1 146.7 L613.8 143.3 L618.6 141.6 L623.4 145.3 L624.8 152.2 L625.9 156.3 L630.3 154.9 L635.5 150.1 L635.5 145.3 L637.2 138.5 L641.3 133.7 L640.6 128.9 L636.5 125.4 L642.0 128.9 L644.7 133.0 L650.9 134.3 L657.7 135.7 L661.2 131.6 L658.4 126.1 L653.6 120.6 L648.1 116.5 L638.5 114.9 L628.9 113.1 L618.0 112.4 L609.7 111.7 L602.9 109.7 L598.8 108.3 L601.5 113.1 L600.1 115.2 L594.0 117.6M625.9 156.3 L624.8 161.1 L621.4 163.1 L619.3 165.2 L616.3 167.2 L615.9 169.3 L611.8 173.7 L618.0 176.8 L622.8 177.5 L631.7 176.8 L637.2 176.2 L645.4 172.3 L652.3 170.0 L659.1 167.5 L666.0 163.8 L672.8 159.7 L674.5 157.9 L668.7 158.1 L660.5 159.0 L653.6 162.0 L657.7 162.4 L652.3 162.0 L645.4 160.9 L638.5 162.4 L633.1 166.3 L626.2 170.0 L624.8 171.1 L622.8 169.6 L616.6 169.3M625.9 156.3 L625.9 161.8 L625.5 165.9 L619.3 165.6M661.9 152.4 L667.4 147.6 L672.8 145.0 L682.4 143.3 L692.0 142.6 L698.9 144.6 L703.0 142.6 L707.1 139.6 L709.9 140.9 L711.3 143.9 L711.3 148.3 L707.1 149.8 L700.3 152.4 L692.0 152.6 L681.1 151.1 L672.2 152.6 L666.0 153.5 L661.9 152.4M672.2 152.6 L674.2 157.9M207.7 174.8 L213.2 176.2 L216.0 179.6 L218.7 181.6 L219.4 185.8 L216.0 187.5 L211.8 185.8 L213.2 182.3 L208.4 181.0 L209.8 178.2 L207.7 174.8" fill="none" stroke="#111" stroke-width="2.3" stroke-linejoin="round"/>
</g></g><g id="fr"><path d="M55.4 46.6v13.6M55.4 430.5v-13.0M110.3 46.6v13.6M110.3 430.5v-13.0M165.2 46.6v13.6M165.2 430.5v-13.0M220.1 46.6v13.6M220.1 430.5v-13.0M275.0 46.6v13.6M275.0 430.5v-13.0M329.8 46.6v13.6M329.8 430.5v-13.0M384.7 46.6v13.6M384.7 430.5v-13.0M439.6 46.6v13.6M439.6 430.5v-13.0M494.5 46.6v13.6M494.5 430.5v-13.0M549.4 46.6v13.6M549.4 430.5v-13.0M604.2 46.6v13.6M604.2 430.5v-13.0M659.1 46.6v13.6M659.1 430.5v-13.0M714.0 46.6v13.6M714.0 430.5v-13.0M768.9 46.6v13.6M768.9 430.5v-13.0M823.8 46.6v13.6M823.8 430.5v-13.0M28.0 334.5h12.8M851.2 334.5h-12.8M28.0 197.4h12.8M851.2 197.4h-12.8M28.0 60.3h12.8M851.2 60.3h-12.8" fill="none" stroke="#2a2a2a" stroke-width="1.7"/>
<path d="M82.9 46.6v8.8M82.9 430.5v-8.8M137.8 46.6v8.8M137.8 430.5v-8.8M192.6 46.6v8.8M192.6 430.5v-8.8M247.5 46.6v8.8M247.5 430.5v-8.8M302.4 46.6v8.8M302.4 430.5v-8.8M357.3 46.6v8.8M357.3 430.5v-8.8M412.2 46.6v8.8M412.2 430.5v-8.8M467.0 46.6v8.8M467.0 430.5v-8.8M521.9 46.6v8.8M521.9 430.5v-8.8M576.8 46.6v8.8M576.8 430.5v-8.8M631.7 46.6v8.8M631.7 430.5v-8.8M686.6 46.6v8.8M686.6 430.5v-8.8M741.4 46.6v8.8M741.4 430.5v-8.8M796.3 46.6v8.8M796.3 430.5v-8.8M28.0 416.8h8.6M851.2 416.8h-8.8M28.0 389.4h8.6M851.2 389.4h-8.8M28.0 361.9h8.6M851.2 361.9h-8.8M28.0 307.1h8.6M851.2 307.1h-8.8M28.0 279.7h8.6M851.2 279.7h-8.8M28.0 252.2h8.6M851.2 252.2h-8.8M28.0 224.8h8.6M851.2 224.8h-8.8M28.0 170.0h8.6M851.2 170.0h-8.8M28.0 142.6h8.6M851.2 142.6h-8.8M28.0 115.2h8.6M851.2 115.2h-8.8M28.0 87.7h8.6M851.2 87.7h-8.8" fill="none" stroke="#333" stroke-width="1.25"/>
<rect x="28.0" y="46.6" width="823.2" height="383.9" fill="none" stroke="#222" stroke-width="1.85"/>
<text x="60.7" y="462.6" class="tk" text-anchor="middle" textLength="57.8" lengthAdjust="spacingAndGlyphs">124°W</text>
<text x="170.5" y="462.6" class="tk" text-anchor="middle" textLength="57.8" lengthAdjust="spacingAndGlyphs">116°W</text>
<text x="280.3" y="462.6" class="tk" text-anchor="middle" textLength="57.8" lengthAdjust="spacingAndGlyphs">108°W</text>
<text x="390.0" y="462.6" class="tk" text-anchor="middle" textLength="57.8" lengthAdjust="spacingAndGlyphs">100°W</text>
<text x="499.8" y="462.6" class="tk" text-anchor="middle" textLength="47.3" lengthAdjust="spacingAndGlyphs">92°W</text>
<text x="609.5" y="462.6" class="tk" text-anchor="middle" textLength="47.3" lengthAdjust="spacingAndGlyphs">84°W</text>
<text x="719.3" y="462.6" class="tk" text-anchor="middle" textLength="47.3" lengthAdjust="spacingAndGlyphs">76°W</text>
<text x="829.1" y="462.6" class="tk" text-anchor="middle" textLength="47.3" lengthAdjust="spacingAndGlyphs">68°W</text>
<text transform="translate(21.5 62.1) rotate(-90)" class="tk" text-anchor="middle" textLength="35.5" lengthAdjust="spacingAndGlyphs">50N</text>
<text transform="translate(21.5 197.4) rotate(-90)" class="tk" text-anchor="middle" textLength="42.0" lengthAdjust="spacingAndGlyphs">40°N</text>
<text transform="translate(21.5 334.5) rotate(-90)" class="tk" text-anchor="middle" textLength="42.0" lengthAdjust="spacingAndGlyphs">30°N</text></g></defs>
<g transform="translate(0.0 0.0)">
<g clip-path="url(#dr)">
<rect x="39.6" y="59.3" width="798.9" height="358.5" fill="#EEA22E"/>
<path d="M5.0 44.0C43.6 -34.1 159.5 39.0 198.2 44.0C237.0 49.0 197.7 61.5 198.7 69.0C199.7 76.5 199.4 78.1 203.2 81.5C207.0 85.0 211.8 84.7 217.7 86.1C223.7 87.5 228.2 85.5 232.8 88.6C237.4 91.7 239.7 96.0 240.8 101.6C241.9 107.2 240.1 110.1 238.3 116.6C236.4 123.1 234.0 127.1 231.5 134.1C229.0 141.1 225.5 145.6 225.8 151.6C226.0 157.6 228.6 159.6 232.8 164.2C236.9 168.7 241.0 170.2 246.5 174.2C252.0 178.2 253.5 180.2 260.3 184.2C267.1 188.2 272.3 190.2 280.3 194.2C288.3 198.2 293.3 200.2 300.4 204.2C307.4 208.2 309.1 211.4 315.4 214.2C321.6 217.1 325.6 219.5 331.6 218.5C337.6 217.5 340.9 213.6 345.4 209.2C349.9 204.9 351.7 200.9 354.2 196.7C356.7 192.4 357.7 191.9 357.9 187.9C358.2 183.9 357.4 181.4 355.4 176.7C353.4 171.9 350.2 168.9 347.9 164.2C345.7 159.4 343.2 157.6 344.2 152.9C345.2 148.1 348.2 145.1 352.9 140.4C357.7 135.6 361.9 132.8 367.9 129.1C373.9 125.5 377.4 122.6 383.0 122.1C388.5 121.6 390.0 123.9 395.5 126.6C401.0 129.3 403.5 133.8 410.5 135.4C417.5 137.0 426.6 134.1 430.5 134.6C434.4 135.1 425.1 135.2 430.0 137.9C434.9 140.5 445.0 144.6 455.0 147.9C465.1 151.1 471.8 150.6 480.1 154.1C488.3 157.6 491.1 160.6 496.3 165.4C501.6 170.2 502.6 173.8 506.4 177.9C510.1 182.1 509.4 184.9 515.1 186.2C520.9 187.4 527.1 185.6 535.1 184.2C543.2 182.8 547.2 180.4 555.2 179.2C563.2 177.9 567.7 177.2 575.2 177.9C582.7 178.7 586.7 180.2 592.7 182.9C598.7 185.7 601.0 187.4 605.2 191.7C609.5 195.9 611.2 198.7 614.0 204.2C616.7 209.7 617.6 213.7 619.0 219.2C620.4 224.7 620.9 226.7 620.8 231.7C620.6 236.7 618.4 239.2 618.2 244.3C618.0 249.3 620.1 252.0 619.7 256.8C619.4 261.5 616.5 263.0 616.5 268.0C616.5 273.0 618.2 276.5 619.7 281.8C621.3 287.1 621.9 289.8 624.0 294.3C626.1 298.8 628.3 300.1 630.3 304.3C632.3 308.6 632.9 311.1 634.0 315.6C635.1 320.1 635.2 321.1 635.8 326.9C636.3 332.6 636.9 337.9 636.8 344.4C636.7 350.9 635.2 353.4 635.3 359.4C635.4 365.4 636.3 368.9 637.3 374.4C638.3 379.9 639.2 381.9 640.3 386.9C641.4 391.9 649.8 389.9 642.8 399.4C635.8 409.0 732.8 427.5 605.2 434.5C477.7 441.5 125.0 512.6 5.0 434.5C-115.1 356.4 -33.7 122.1 5.0 44.0Z" fill="#E2786D"/>
<path d="M160.7 54.0C160.7 54.0 182.7 54.0 182.7 54.0C182.7 54.0 182.7 72.0 182.7 72.0C182.7 72.0 160.7 72.0 160.7 72.0C160.7 72.0 160.7 54.0 160.7 54.0Z" fill="#EEA22E"/>
<path d="M5.0 44.0C28.5 -11.1 98.7 39.0 122.6 44.0C146.6 49.0 122.9 61.8 124.6 69.0C126.4 76.3 128.0 76.0 131.4 80.3C134.7 84.6 138.0 86.3 141.4 90.3C144.8 94.3 146.2 96.3 148.2 100.3C150.1 104.3 150.7 105.6 151.2 110.3C151.7 115.1 150.7 118.9 150.7 124.1C150.7 129.3 148.5 133.3 151.2 136.1C153.8 138.9 158.1 136.8 163.9 138.1C169.7 139.5 174.4 140.2 180.2 142.9C186.0 145.6 188.6 147.9 192.7 151.6C196.8 155.4 198.3 158.1 200.7 161.6C203.1 165.2 201.3 166.7 204.7 169.2C208.1 171.7 213.1 171.2 217.7 174.2C222.4 177.2 224.8 179.2 227.8 184.2C230.8 189.2 230.9 192.2 232.8 199.2C234.7 206.2 234.8 213.1 237.3 219.2C239.8 225.3 241.4 226.0 245.3 229.7C249.1 233.5 251.5 233.6 256.5 238.0C261.6 242.4 264.6 247.0 270.3 251.8C276.1 256.5 279.3 257.8 285.3 261.8C291.3 265.8 294.3 267.8 300.4 271.8C306.4 275.8 309.6 278.9 315.4 281.8C321.1 284.7 324.9 286.6 329.1 286.1C333.4 285.6 333.9 282.6 336.6 279.3C339.4 275.9 341.6 276.3 342.9 269.3C344.3 262.3 340.4 249.8 343.4 244.3C346.4 238.7 351.5 244.2 357.9 241.7C364.3 239.3 370.3 236.1 375.4 232.2C380.6 228.3 377.9 225.2 383.5 222.2C389.0 219.2 394.6 218.8 403.0 217.2C411.4 215.6 420.1 214.3 425.5 214.2C430.9 214.1 423.1 217.2 430.0 216.7C436.9 216.2 448.5 213.7 460.1 211.7C471.6 209.7 479.1 206.7 487.6 206.7C496.1 206.7 497.1 208.2 502.6 211.7C508.1 215.2 510.1 219.6 515.1 224.2C520.1 228.8 523.0 231.9 527.6 234.7C532.2 237.5 534.1 235.8 538.1 238.2C542.2 240.6 543.3 242.5 547.7 246.8C552.1 251.0 556.1 254.8 560.2 259.3C564.3 263.8 565.1 264.3 568.2 269.3C571.3 274.3 572.7 278.8 575.7 284.3C578.7 289.8 580.7 291.8 583.2 296.8C585.7 301.8 586.2 304.8 588.2 309.3C590.2 313.8 590.7 315.3 593.2 319.3C595.7 323.3 598.2 326.1 600.7 329.4C603.2 332.6 603.8 330.1 605.7 335.6C607.6 341.1 620.4 337.1 610.2 356.9C600.1 376.7 610.6 419.0 555.2 434.5C499.7 450.0 377.2 440.5 332.9 434.5C288.5 428.5 334.3 412.5 333.4 404.5C332.5 396.4 333.5 396.9 328.4 394.4C323.3 391.9 315.5 390.9 307.9 391.9C300.3 392.9 294.8 396.9 290.3 399.4C285.8 401.9 287.3 405.5 285.3 404.5C283.3 403.4 283.3 399.4 280.3 394.4C277.3 389.4 274.3 384.4 270.3 379.4C266.3 374.4 264.2 374.8 260.3 369.4C256.4 364.0 254.3 358.4 250.8 352.4C247.3 346.4 246.3 344.5 242.8 339.4C239.3 334.3 236.3 331.9 233.3 326.9C230.3 321.8 230.4 319.3 227.8 314.3C225.2 309.3 223.8 305.8 220.3 301.8C216.7 297.8 215.2 296.8 210.2 294.3C205.2 291.8 200.1 290.6 195.2 289.3C190.3 288.1 188.2 286.6 185.7 288.1C183.2 289.6 185.8 294.8 182.7 296.8C179.6 298.9 177.7 298.0 170.2 298.3C162.7 298.6 178.2 294.1 145.2 298.3C112.1 302.5 33.0 370.2 5.0 319.3C-23.1 268.5 -18.5 99.1 5.0 44.0Z" fill="#D5492A"/>
<path d="M370.4 424.5C355.7 418.5 370.7 410.5 371.7 404.5C372.7 398.4 373.7 397.9 375.4 394.4C377.2 390.9 377.4 389.9 380.5 386.9C383.5 383.9 385.5 381.4 390.5 379.4C395.5 377.4 399.5 376.9 405.5 376.9C411.5 376.9 415.5 380.9 420.5 379.4C425.5 377.9 425.5 358.4 430.5 369.4C435.5 380.4 457.5 423.5 445.5 434.5C433.5 445.5 385.2 430.5 370.4 424.5Z" fill="#E2786D"/>
<path d="M40.0 115.3C44.5 99.7 52.2 115.3 57.5 116.1C62.9 116.8 64.5 116.0 66.6 119.1C68.7 122.2 67.3 126.6 68.1 131.6C68.9 136.6 70.6 139.1 70.6 144.1C70.6 149.1 69.6 151.6 68.1 156.6C66.6 161.6 62.4 166.2 63.1 169.2C63.7 172.2 69.3 169.4 71.3 171.7C73.3 173.9 73.8 176.9 73.1 180.4C72.3 183.9 69.4 185.4 67.6 189.2C65.8 192.9 64.5 195.2 64.1 199.2C63.7 203.2 64.4 205.2 65.6 209.2C66.8 213.2 68.4 216.0 70.1 219.2C71.8 222.5 76.6 223.5 74.1 225.5C71.6 227.5 65.4 235.5 57.5 229.2C49.7 223.0 38.5 217.0 35.0 194.2C31.5 171.4 35.5 131.0 40.0 115.3Z" fill="#E2786D"/>
<path d="M77.6 179.2C80.8 176.9 87.6 178.4 92.6 180.4C97.6 182.4 97.1 186.4 102.6 189.2C108.1 191.9 114.1 193.2 120.1 194.2C126.1 195.2 127.6 193.2 132.6 194.2C137.6 195.2 139.6 196.2 145.2 199.2C150.7 202.2 154.2 205.7 160.2 209.2C166.2 212.7 168.7 214.6 175.2 216.7C181.7 218.8 187.2 217.2 192.7 219.7C198.2 222.2 199.9 224.3 202.7 229.2C205.5 234.1 206.6 238.2 206.7 244.3C206.8 250.3 205.5 254.3 203.2 259.3C200.9 264.3 198.7 266.3 195.2 269.3C191.7 272.3 188.7 271.3 185.7 274.3C182.7 277.3 183.3 281.5 180.2 284.3C177.1 287.1 174.2 288.7 170.2 288.3C166.2 287.9 164.2 284.3 160.2 282.3C156.2 280.3 154.7 279.4 150.2 278.3C145.7 277.2 142.7 277.8 137.6 276.8C132.6 275.8 130.1 275.3 125.1 273.3C120.1 271.3 116.6 270.1 112.6 266.8C108.6 263.5 108.1 261.3 105.1 256.8C102.1 252.3 100.6 249.3 97.6 244.3C94.6 239.2 93.0 236.7 90.1 231.7C87.2 226.7 85.3 224.2 83.1 219.2C80.9 214.2 80.4 212.2 79.1 206.7C77.8 201.2 76.9 197.2 76.6 191.7C76.3 186.2 74.4 181.4 77.6 179.2Z" fill="#CC2229"/>
<path d="M275.3 350.6C276.8 347.1 280.3 343.5 285.3 339.9C290.3 336.2 293.8 333.5 300.4 332.4C306.9 331.3 310.9 333.5 317.9 334.4C324.9 335.3 328.4 338.3 335.4 336.9C342.4 335.5 346.9 331.8 352.9 327.4C358.9 322.9 361.4 320.3 365.4 314.8C369.4 309.3 370.3 305.9 372.9 299.8C375.5 293.7 376.3 290.3 378.4 284.3C380.6 278.3 381.0 274.2 383.5 269.8C386.0 265.4 387.1 264.8 391.0 262.3C394.9 259.8 397.1 259.3 403.0 257.3C408.9 255.3 415.1 254.3 420.5 252.3C425.9 250.3 425.1 248.4 430.0 247.3C434.9 246.2 439.5 247.1 445.0 246.8C450.5 246.4 450.5 245.5 457.5 245.5C464.6 245.5 470.6 246.3 480.1 246.8C489.6 247.3 497.5 247.4 505.1 248.0C512.7 248.6 515.8 247.0 518.1 249.8C520.4 252.5 514.2 257.9 516.6 261.8C519.0 265.7 525.9 264.8 530.1 269.3C534.3 273.8 536.1 278.8 537.6 284.3C539.1 289.8 539.5 293.3 537.6 296.8C535.7 300.3 532.6 299.8 528.1 301.8C523.6 303.8 519.7 304.3 515.1 306.8C510.5 309.3 509.0 311.8 505.1 314.3C501.2 316.8 500.6 317.8 495.6 319.3C490.6 320.8 485.6 320.3 480.1 321.8C474.6 323.3 470.6 323.3 468.1 326.9C465.6 330.4 470.2 330.9 467.6 339.4C465.0 347.9 462.0 368.4 455.0 369.4C448.1 370.4 439.9 347.4 433.0 344.4C426.1 341.4 425.0 350.4 420.5 354.4C416.0 358.4 415.5 360.9 410.5 364.4C405.5 367.9 401.0 370.8 395.5 371.9C390.0 373.0 387.0 369.3 383.0 369.9C378.9 370.5 378.9 372.9 375.4 374.9C371.9 376.9 369.9 378.9 365.4 379.9C360.9 380.9 357.9 380.9 352.9 379.9C347.9 378.9 344.9 377.4 340.4 374.9C335.9 372.4 334.4 368.4 330.4 367.4C326.4 366.4 324.9 369.9 320.4 369.9C315.9 369.9 313.9 368.9 307.9 367.4C301.9 365.9 296.3 364.4 290.3 362.4C284.3 360.4 280.8 359.7 277.8 357.4C274.8 355.0 273.8 354.1 275.3 350.6Z" fill="#CC2229"/>
<path d="M106.4 235.5C106.6 234.2 108.7 229.9 110.1 229.2C111.5 228.6 117.9 228.9 120.1 229.2C122.4 229.6 130.1 232.2 132.6 233.0C135.1 233.7 142.0 236.2 145.2 236.7C148.3 237.2 162.4 237.5 163.9 238.0C165.4 238.5 162.1 240.9 160.2 241.7C158.3 242.6 147.4 245.9 145.2 246.8C142.9 247.6 139.6 250.5 137.6 250.5C135.6 250.5 127.6 247.4 125.1 246.8C122.6 246.1 114.4 244.8 112.6 244.3C110.9 243.7 108.2 242.6 107.6 241.7C107.0 240.9 106.1 236.7 106.4 235.5Z" fill="#8E2226"/>
<path d="M502.6 334.4C504.1 330.4 507.1 332.4 512.6 331.9C518.1 331.4 525.6 328.4 530.1 331.9C534.6 335.4 540.2 345.4 535.1 349.4C530.1 353.4 511.6 354.9 505.1 351.9C498.6 348.9 501.1 338.4 502.6 334.4Z" fill="#E2786D"/>
<path d="M450.5 44.0C367.4 49.0 450.1 62.6 452.5 69.0C454.9 75.4 457.0 73.5 462.6 76.0C468.1 78.5 474.3 78.2 480.1 81.5C485.8 84.9 487.1 88.3 491.3 92.8C495.6 97.3 497.1 99.3 501.4 104.1C505.6 108.8 508.4 112.5 512.6 116.6C516.9 120.7 519.2 124.1 522.6 124.6C526.0 125.1 527.9 122.7 529.6 119.1C531.4 115.5 530.5 111.6 531.4 106.6C532.2 101.6 532.5 98.6 533.9 94.1C535.2 89.6 535.4 87.3 538.1 84.1C540.9 80.8 542.3 79.3 547.7 77.8C553.1 76.3 558.7 75.8 565.2 76.5C571.7 77.3 574.7 78.0 580.2 81.5C585.7 85.1 587.7 88.8 592.7 94.1C597.7 99.3 599.7 103.6 605.2 107.8C610.7 112.1 614.2 113.1 620.3 115.3C626.3 117.6 631.3 114.9 635.3 119.1C639.2 123.3 635.3 132.2 640.0 136.4C644.7 140.6 653.0 138.9 658.8 140.1C664.6 141.4 663.1 140.6 668.8 142.6C674.6 144.6 683.5 144.9 687.6 150.1C691.7 155.4 688.7 162.6 689.3 168.9C689.9 175.2 690.1 176.4 690.6 181.4C691.1 186.4 691.2 190.2 691.8 193.9C692.5 197.7 692.4 197.4 693.8 200.2C695.2 202.9 697.3 204.5 698.8 207.7C700.4 211.0 700.1 214.2 701.4 216.5C702.6 218.7 699.3 215.4 705.1 219.0C710.9 222.5 715.3 234.2 730.4 234.2C745.5 234.3 752.9 227.2 780.5 219.2C808.0 211.2 850.5 229.2 868.1 194.2C885.6 159.1 951.6 74.0 868.1 44.0C784.6 14.0 533.6 39.0 450.5 44.0Z" fill="#FFDD2D"/>
<path d="M752.7 44.0C732.1 49.5 750.2 63.8 752.7 71.3C755.2 78.7 759.4 77.8 765.2 81.3C770.9 84.8 775.2 87.6 781.5 88.8C787.7 90.1 790.5 85.3 796.5 87.6C802.5 89.8 808.5 90.1 811.5 100.1C814.5 110.1 802.7 127.8 811.5 137.6C820.3 147.4 846.7 167.9 855.5 149.1C864.4 130.4 876.1 65.0 855.5 44.0C835.0 23.0 773.2 38.5 752.7 44.0Z" fill="#FFFF38"/>
<path d="M765.2 127.6C766.5 125.5 781.5 125.5 782.7 127.6C783.9 129.7 782.2 156.6 782.7 158.9C783.2 161.2 789.9 161.0 790.5 161.6C791.0 162.3 792.8 168.6 790.5 169.2C788.1 169.7 757.9 170.9 755.4 170.4C752.9 169.9 752.4 162.4 752.9 161.6C753.4 160.9 762.1 161.2 762.9 158.9C763.7 156.6 763.9 129.7 765.2 127.6Z" fill="#FFFF38"/>
<path d="M601.5 151.6C602.7 151.0 613.7 151.0 615.2 151.6C616.7 152.3 617.7 157.3 616.5 157.9C615.2 158.5 604.2 158.5 602.7 157.9C601.2 157.3 600.2 152.3 601.5 151.6Z" fill="#FFDD2D"/>
<path d="M714.1 241.7C706.6 240.2 709.1 246.3 705.4 249.3C701.6 252.3 699.6 253.5 695.3 256.8C691.1 260.0 687.1 260.5 684.1 265.5C681.1 270.5 676.1 276.0 680.3 281.8C684.6 287.6 692.8 299.3 705.4 294.3C717.9 289.3 741.2 267.3 742.9 256.8C744.7 246.3 721.6 243.2 714.1 241.7Z" fill="#FFDD2D"/>
<path d="M640.3 331.9C633.8 334.4 641.7 339.4 642.8 344.4C643.9 349.4 645.4 351.9 645.8 356.9C646.2 361.9 645.4 365.2 644.8 369.4C644.2 373.7 642.2 375.9 642.8 378.2C643.4 380.4 646.9 377.4 647.8 380.7C648.7 383.9 647.3 388.7 647.3 394.4C647.3 400.2 642.2 406.5 647.8 409.5C653.4 412.5 669.8 425.0 675.3 409.5C680.8 393.9 682.3 347.4 675.3 331.9C668.3 316.3 646.8 329.4 640.3 331.9Z" fill="#FFDD2D"/>
<path d="M137.6 315.6C138.9 308.3 154.3 315.4 156.4 315.6C158.6 315.8 168.4 318.6 170.2 318.8C171.9 319.1 181.0 317.6 182.7 319.3C184.4 321.0 193.0 341.0 195.2 344.4C197.4 347.7 212.2 365.7 215.2 369.4C218.2 373.1 237.3 395.8 240.3 399.4C243.3 403.1 267.1 422.8 260.3 424.5C253.5 426.1 145.8 431.7 137.6 424.5C129.5 417.2 136.4 322.8 137.6 315.6Z" fill="#EEA22E"/>
<path d="M137.6 326.4C139.8 319.8 167.0 326.2 170.2 326.4C173.4 326.5 184.0 326.9 185.7 328.1C187.4 329.3 193.2 341.6 195.2 344.4C197.2 347.1 212.2 365.7 215.2 369.4C218.2 373.1 237.3 395.8 240.3 399.4C243.3 403.1 267.1 422.8 260.3 424.5C253.5 426.1 145.8 431.0 137.6 424.5C129.5 417.9 135.5 332.9 137.6 326.4Z" fill="#FFDD2D"/>
<path d="M137.6 333.9C139.8 327.8 166.7 333.7 170.2 333.9C173.7 334.0 188.5 334.9 190.2 335.6C191.9 336.3 193.6 342.1 195.2 344.4C196.9 346.6 212.2 365.7 215.2 369.4C218.2 373.1 237.3 395.8 240.3 399.4C243.3 403.1 267.1 422.8 260.3 424.5C253.5 426.1 145.8 430.5 137.6 424.5C129.5 418.4 135.5 339.9 137.6 333.9Z" fill="#FFFF38"/>
<path d="M170.2 356.9C173.4 352.5 183.2 358.3 185.2 358.1C187.2 358.0 198.2 353.6 200.2 354.4C202.2 355.1 212.6 366.4 215.2 369.4C217.9 372.4 237.3 395.8 240.3 399.4C243.3 403.1 267.1 422.8 260.3 424.5C253.5 426.1 143.7 429.0 137.6 424.5C131.6 420.0 167.0 361.3 170.2 356.9Z" fill="#F6F18E"/>
<path d="M192.7 366.9C193.0 364.2 201.9 365.7 205.2 369.4C208.6 373.1 214.7 388.8 217.7 394.4C220.8 400.1 228.1 409.6 227.8 412.0C227.4 414.3 218.6 415.0 215.2 412.0C211.9 409.0 205.7 395.4 202.7 389.4C199.7 383.4 192.4 369.6 192.7 366.9Z" fill="#FFFDD6"/>
<path d="M204.0 319.3C204.4 318.7 210.0 319.3 211.5 320.6C213.0 321.8 217.4 329.2 219.0 331.9C220.6 334.5 226.1 344.4 227.8 346.9C229.4 349.4 233.5 354.6 235.3 356.9C237.0 359.1 243.0 366.7 245.3 369.4C247.5 372.2 255.3 382.0 257.8 384.4C260.3 386.8 269.4 391.8 270.3 393.2C271.2 394.6 268.3 398.6 266.6 398.2C264.8 397.8 255.4 391.8 252.8 389.4C250.2 387.1 242.7 377.7 240.3 374.4C237.9 371.2 231.3 360.4 229.0 356.9C226.8 353.4 219.9 342.4 217.7 339.4C215.6 336.4 209.1 328.9 207.7 326.9C206.4 324.9 203.6 320.0 204.0 319.3Z" fill="#EEA22E"/>
<path d="M254.0 385.7C255.2 385.4 265.2 389.6 266.6 390.7C267.9 391.8 268.9 396.7 267.8 396.9C266.7 397.2 256.7 394.3 255.3 393.2C253.9 392.1 252.9 385.9 254.0 385.7Z" fill="#FFDD2D"/>
<path d="M381.7 424.5C369.2 420.5 380.7 410.5 383.0 404.5C385.2 398.4 388.5 397.8 393.0 394.4C397.5 391.0 400.0 389.8 405.5 387.4C411.0 385.0 415.0 384.5 420.5 382.4C426.0 380.3 428.0 368.5 433.0 376.9C438.0 385.3 455.8 415.0 445.5 424.5C435.3 434.0 394.2 428.5 381.7 424.5Z" fill="#EEA22E"/>
<path d="M395.5 424.5C385.7 421.0 395.2 412.5 396.7 407.0C398.2 401.4 399.7 399.9 403.0 396.9C406.2 393.9 408.5 393.4 413.0 391.9C417.5 390.4 419.0 382.9 425.5 389.4C432.0 395.9 451.5 417.5 445.5 424.5C439.5 431.5 405.2 428.0 395.5 424.5Z" fill="#FFDD2D"/>
<path d="M403.0 424.5C398.7 420.5 401.2 409.2 404.2 404.5C407.2 399.7 413.7 396.7 418.0 400.7C422.3 404.7 428.5 419.7 425.5 424.5C422.5 429.2 407.2 428.5 403.0 424.5Z" fill="#FFFF38"/>
</g><use href="#bm"/><use href="#fr"/>
</g>
<g transform="translate(860.8 1.1)">
<g clip-path="url(#dr)">
<rect x="39.6" y="59.3" width="798.9" height="358.5" fill="#EEA22E"/>
<path d="M548.0 49.0C484.7 54.3 549.5 68.9 547.4 75.3C545.3 81.7 541.1 79.3 537.4 80.9C533.6 82.5 531.9 82.2 528.6 83.4C525.4 84.6 525.6 85.5 521.1 86.8C516.6 88.1 512.1 89.2 506.1 89.9C500.1 90.6 496.1 89.9 491.1 90.3C486.1 90.7 484.6 90.5 481.1 91.8C477.6 93.1 475.4 93.8 473.6 96.8C471.7 99.8 471.8 102.1 471.7 106.6C471.6 111.0 472.1 114.1 472.9 119.1C473.8 124.1 474.4 127.1 476.1 131.6C477.7 136.1 478.8 138.1 481.1 141.6C483.3 145.1 484.3 146.4 487.3 149.1C490.3 151.9 492.3 153.3 496.1 155.4C499.8 157.4 502.3 157.6 506.1 159.4C509.9 161.2 512.4 161.4 514.9 164.4C517.4 167.3 517.6 170.2 518.6 174.2C519.6 178.1 518.6 181.6 519.9 184.2C521.1 186.7 522.6 186.9 524.9 186.9C527.1 186.9 529.6 186.7 531.1 184.2C532.6 181.6 531.8 178.2 532.4 174.2C532.9 170.1 532.1 166.6 533.9 164.1C535.6 161.6 537.7 161.8 541.1 161.6C544.6 161.4 548.7 162.1 551.2 163.1C553.7 164.1 552.9 164.4 553.7 166.6C554.5 168.9 553.7 172.9 555.2 174.4C556.7 175.9 558.2 175.0 561.2 174.2C564.1 173.3 566.4 171.9 569.9 170.4C573.4 168.9 575.2 168.6 578.7 166.6C582.2 164.6 584.2 163.1 587.4 160.4C590.7 157.6 592.1 155.6 595.0 152.9C597.8 150.2 599.1 147.1 601.8 146.9C604.6 146.6 606.3 148.9 608.7 151.6C611.1 154.3 612.2 157.4 613.7 160.4C615.2 163.4 616.2 164.3 616.2 166.6C616.2 169.0 613.7 170.6 613.7 172.3C613.7 173.9 614.2 173.6 616.2 174.8C618.2 176.0 620.2 177.7 623.7 178.2C627.2 178.7 630.8 178.3 633.8 177.3C636.7 176.2 635.5 173.5 638.5 172.9C641.5 172.3 645.5 172.9 648.5 174.2C651.5 175.4 651.0 177.0 653.5 179.2C656.0 181.3 657.5 183.3 661.0 184.8C664.5 186.3 667.3 186.8 671.0 186.7C674.8 186.5 676.8 185.7 679.8 184.2C682.8 182.7 684.3 182.2 686.1 179.2C687.8 176.2 687.6 172.4 688.6 169.1C689.6 165.9 689.3 165.4 691.1 162.9C692.8 160.4 694.3 158.9 697.3 156.6C700.3 154.4 703.6 153.4 706.1 151.6C708.6 149.9 713.8 150.1 709.8 147.9C705.8 145.6 691.6 143.6 686.1 140.4C680.6 137.1 682.8 134.4 682.3 131.6C681.8 128.8 681.8 128.5 683.6 126.6C685.3 124.7 687.1 124.2 691.1 122.2C695.1 120.2 700.1 119.7 703.6 116.6C707.1 113.4 706.1 110.1 708.6 106.6C711.1 103.1 712.6 101.8 716.1 99.1C719.6 96.3 721.6 94.9 726.1 92.8C730.6 90.7 733.6 88.7 738.6 88.4C743.6 88.2 746.6 89.9 751.1 91.5C755.6 93.2 757.4 94.1 761.2 96.6C764.9 99.1 767.2 100.8 769.9 104.1C772.7 107.3 773.4 109.3 774.9 112.8C776.4 116.3 775.9 118.8 777.4 121.6C778.9 124.3 780.2 124.6 782.4 126.6C784.7 128.6 785.9 130.1 788.7 131.6C791.4 133.1 793.7 132.8 796.2 134.1C798.7 135.4 795.2 133.8 801.2 137.9C807.2 141.9 813.7 150.9 826.2 154.1C838.8 157.4 856.3 175.2 863.8 154.1C871.3 133.1 926.9 70.0 863.8 49.0C800.6 28.0 611.3 43.7 548.0 49.0Z" fill="#FFDD2D"/>
<path d="M616.2 49.0C609.2 53.7 613.2 64.3 613.7 72.8C614.2 81.3 615.7 84.3 618.7 91.5C621.7 98.8 625.2 106.1 628.8 109.1C632.3 112.1 633.0 110.1 636.3 106.6C639.5 103.1 642.5 103.1 645.0 91.5C647.5 80.0 654.5 57.5 648.8 49.0C643.0 40.5 623.2 44.2 616.2 49.0Z" fill="#FFFF38"/>
<path d="M816.2 49.0C807.2 53.0 816.7 61.0 818.7 69.0C820.7 77.0 825.0 77.0 826.2 89.0C827.5 101.1 822.5 120.1 825.0 129.1C827.5 138.1 831.0 134.1 838.8 134.1C846.5 134.1 858.8 146.1 863.8 129.1C868.8 112.1 873.3 65.0 863.8 49.0C854.3 33.0 825.2 45.0 816.2 49.0Z" fill="#FFFF38"/>
<path d="M528.6 49.0C532.8 41.7 544.1 44.2 548.0 49.0C551.9 53.7 544.4 66.8 548.0 72.8C551.7 78.8 561.3 76.3 566.2 79.0C571.1 81.8 570.4 83.3 572.4 86.5C574.4 89.8 575.6 91.3 576.2 95.3C576.8 99.3 576.6 101.8 575.6 106.6C574.6 111.3 572.6 114.1 571.2 119.1C569.8 124.1 569.7 127.1 568.7 131.6C567.7 136.1 567.7 138.1 566.2 141.6C564.7 145.1 563.7 146.6 561.2 149.1C558.7 151.6 556.2 152.9 553.7 154.1C551.2 155.4 551.2 155.1 548.7 155.4C546.1 155.6 544.4 155.9 541.1 155.4C537.9 154.9 534.6 155.6 532.4 152.9C530.1 150.1 530.6 146.4 529.9 141.6C529.1 136.9 528.9 134.1 528.6 129.1C528.4 124.1 528.9 121.6 528.6 116.6C528.4 111.6 527.9 108.6 527.4 104.1C526.9 99.6 526.1 97.8 526.1 94.1C526.1 90.3 526.9 94.3 527.4 85.3C527.9 76.3 524.5 56.3 528.6 49.0Z" fill="#EEA22E"/>
<path d="M601.8 146.9C604.6 146.6 606.3 148.9 608.7 151.6C611.1 154.3 612.2 157.4 613.7 160.4C615.2 163.4 616.2 164.3 616.2 166.6C616.2 169.0 616.2 170.8 613.7 172.3C611.2 173.8 609.5 173.8 603.7 174.2C598.0 174.5 590.0 175.7 584.9 174.2C579.9 172.6 578.2 169.4 578.7 166.6C579.2 163.9 584.2 163.1 587.4 160.4C590.7 157.6 592.1 155.6 595.0 152.9C597.8 150.2 599.1 147.1 601.8 146.9Z" fill="#EEA22E"/>
<path d="M4.5 39.0C47.8 -40.1 177.3 32.0 221.0 39.0C264.7 46.0 220.5 65.5 222.8 74.0C225.0 82.5 227.9 79.0 232.3 81.5C236.7 84.1 239.8 84.1 244.8 86.6C249.8 89.1 254.0 90.6 257.3 94.1C260.6 97.6 260.6 99.1 261.1 104.1C261.6 109.1 260.1 112.1 259.8 119.1C259.6 126.1 259.6 132.1 259.8 139.1C260.1 146.1 259.0 149.6 261.1 154.1C263.1 158.6 265.1 158.9 269.8 161.6C274.6 164.4 278.3 165.4 284.8 167.9C291.3 170.4 295.3 171.9 302.4 174.2C309.4 176.4 314.6 177.9 319.9 179.2C325.1 180.4 324.6 181.2 328.6 180.4C332.6 179.7 334.6 177.7 339.9 175.4C345.2 173.2 347.9 171.3 354.9 169.2C361.9 167.0 366.9 166.2 374.9 164.7C383.0 163.1 387.0 162.6 395.0 161.6C403.0 160.6 408.3 159.6 415.0 159.6C421.7 159.6 424.3 161.0 428.5 161.6C432.7 162.3 432.3 161.9 436.0 162.9C439.8 163.9 442.5 164.9 447.3 166.6C452.0 168.4 454.8 169.6 459.8 171.6C464.8 173.6 467.3 174.7 472.3 176.7C477.3 178.7 480.1 179.7 484.8 181.7C489.6 183.7 492.3 184.7 496.1 186.7C499.8 188.7 500.1 189.7 503.6 191.7C507.1 193.7 509.6 194.9 513.6 196.7C517.6 198.4 519.1 199.6 523.6 200.4C528.1 201.3 531.1 201.3 536.1 201.1C541.1 200.8 543.6 199.8 548.7 199.2C553.7 198.6 556.2 198.4 561.2 197.9C566.2 197.4 568.7 197.2 573.7 196.7C578.7 196.2 581.2 195.8 586.2 195.4C591.2 195.1 593.7 194.8 598.7 194.8C603.7 194.8 606.2 195.1 611.2 195.4C616.2 195.8 619.0 195.9 623.7 196.7C628.5 197.4 632.1 198.2 635.0 199.2C638.0 200.2 635.3 201.1 638.5 201.7C641.7 202.3 646.0 201.9 651.0 202.3C656.0 202.7 658.5 203.2 663.5 203.6C668.5 203.9 671.5 204.6 676.0 204.2C680.6 203.8 683.1 202.9 686.1 201.7C689.1 200.4 689.3 199.7 691.1 197.9C692.8 196.2 693.3 195.2 694.8 192.9C696.3 190.7 697.1 189.4 698.6 186.7C700.1 183.9 700.3 181.9 702.3 179.2C704.3 176.4 706.1 175.4 708.6 172.9C711.1 170.4 711.8 168.6 714.8 166.6C717.8 164.6 719.9 164.4 723.6 162.9C727.4 161.4 729.9 160.9 733.6 159.1C737.4 157.4 739.6 156.1 742.4 154.1C745.1 152.1 745.9 151.6 747.4 149.1C748.9 146.6 748.6 144.1 749.9 141.6C751.1 139.1 751.4 137.9 753.6 136.6C755.9 135.4 757.9 135.4 761.2 135.4C764.4 135.4 766.4 136.4 769.9 136.6C773.4 136.9 775.4 136.1 778.7 136.6C781.9 137.1 783.2 138.1 786.2 139.1C789.2 140.1 790.7 140.6 793.7 141.6C796.7 142.6 794.7 139.1 801.2 144.1C807.7 149.1 821.2 99.6 826.2 166.6C831.2 233.7 990.6 426.0 826.2 479.5C661.9 533.1 168.8 522.6 4.5 434.5C-159.9 346.4 -38.8 118.1 4.5 39.0Z" fill="#E2786D"/>
<path d="M537.4 90.3C538.9 87.8 540.9 87.0 543.6 86.5C546.4 86.0 548.1 86.8 551.2 87.8C554.2 88.8 556.3 89.3 558.7 91.5C561.0 93.8 562.0 95.6 563.0 99.1C564.0 102.6 564.0 105.1 563.7 109.1C563.3 113.1 562.7 115.1 561.2 119.1C559.7 123.1 557.9 125.6 556.2 129.1C554.4 132.6 553.9 134.1 552.4 136.6C550.9 139.1 550.4 141.1 548.7 141.6C546.9 142.1 545.4 141.1 543.6 139.1C541.9 137.1 541.1 135.1 539.9 131.6C538.6 128.1 538.1 125.8 537.4 121.6C536.6 117.3 536.4 114.8 536.1 110.3C535.9 105.8 535.9 103.1 536.1 99.1C536.4 95.1 535.9 92.8 537.4 90.3Z" fill="#E2786D"/>
<path d="M511.1 49.0C514.5 44.2 525.1 44.2 528.6 49.0C532.1 53.7 529.6 66.6 528.6 72.8C527.6 78.9 526.1 78.4 523.6 79.7C521.1 80.9 518.5 80.4 516.1 79.0C513.7 77.7 512.7 78.8 511.7 72.8C510.7 66.8 507.7 53.7 511.1 49.0Z" fill="#E2786D"/>
<path d="M546.1 104.1C546.7 102.9 551.2 104.1 551.8 105.3C552.4 106.6 552.4 114.3 552.4 116.6C552.4 118.8 552.3 126.6 551.8 127.8C551.3 129.1 548.0 130.2 547.4 129.1C546.8 128.0 546.3 119.1 546.1 116.6C546.0 114.1 545.6 105.2 546.1 104.1Z" fill="#D5492A"/>
<path d="M4.5 204.2C16.0 158.1 46.5 204.7 62.1 204.2C77.6 203.7 76.3 204.2 82.1 201.7C87.8 199.2 87.3 195.7 90.8 191.7C94.3 187.7 94.8 185.2 99.6 181.7C104.4 178.2 109.6 178.2 114.6 174.2C119.6 170.2 120.6 166.7 124.6 161.6C128.6 156.6 130.6 152.9 134.6 149.1C138.6 145.4 139.7 145.1 144.7 142.9C149.7 140.6 153.7 138.6 159.7 137.9C165.7 137.1 168.7 137.9 174.7 139.1C180.7 140.4 183.7 141.1 189.7 144.1C195.7 147.1 198.7 150.4 204.7 154.1C210.7 157.9 213.7 160.4 219.8 162.9C225.8 165.4 228.8 165.2 234.8 166.7C240.8 168.2 244.8 168.4 249.8 170.4C254.8 172.4 255.8 173.9 259.8 176.7C263.8 179.4 264.8 181.7 269.8 184.2C274.8 186.7 277.8 187.7 284.8 189.2C291.8 190.7 297.8 190.2 304.9 191.7C311.9 193.2 313.9 194.7 319.9 196.7C325.9 198.7 328.4 200.2 334.9 201.7C341.4 203.2 345.4 203.4 352.4 204.2C359.4 205.0 362.4 206.0 369.9 205.5C377.4 205.0 382.0 202.9 390.0 201.7C398.0 200.4 402.3 200.2 410.0 199.2C417.7 198.2 421.8 196.9 428.5 196.7C435.2 196.4 438.5 197.2 443.5 197.9C448.5 198.7 449.0 199.4 453.5 200.4C458.0 201.4 461.0 201.7 466.0 202.9C471.1 204.2 473.6 205.2 478.6 206.7C483.6 208.2 486.1 208.9 491.1 210.4C496.1 211.9 498.6 212.9 503.6 214.2C508.6 215.5 511.1 216.0 516.1 216.7C521.1 217.5 523.6 217.5 528.6 218.0C533.6 218.5 536.1 219.1 541.1 219.2C546.1 219.3 548.7 219.1 553.7 218.6C558.7 218.1 561.2 217.3 566.2 216.7C571.2 216.1 573.7 215.8 578.7 215.5C583.7 215.1 586.2 214.8 591.2 214.8C596.2 214.8 598.7 214.8 603.7 215.5C608.7 216.1 612.5 216.5 616.2 218.0C620.0 219.5 620.5 220.7 622.5 223.0C624.5 225.2 624.5 227.2 626.2 229.2C628.0 231.2 628.8 232.7 631.3 233.0C633.7 233.2 635.0 231.2 638.5 230.5C642.0 229.7 644.8 230.5 648.5 229.2C652.3 228.0 653.8 226.2 657.3 224.2C660.8 222.2 662.3 220.7 666.0 219.2C669.8 217.7 672.0 217.0 676.0 216.7C680.1 216.5 683.1 218.2 686.1 218.0C689.1 217.7 689.8 217.5 691.1 215.5C692.3 213.4 691.1 210.7 692.3 207.9C693.6 205.2 695.6 203.9 697.3 201.7C699.1 199.4 699.8 198.9 701.1 196.7C702.3 194.4 702.3 192.9 703.6 190.4C704.8 187.9 705.3 186.7 707.3 184.2C709.3 181.7 710.8 180.4 713.6 177.9C716.3 175.4 717.8 173.9 721.1 171.6C724.4 169.4 726.4 168.4 729.9 166.6C733.4 164.9 735.4 164.4 738.6 162.9C741.9 161.4 743.6 160.9 746.1 159.1C748.6 157.4 749.6 156.4 751.1 154.1C752.6 151.9 752.4 150.4 753.6 147.9C754.9 145.4 755.6 143.4 757.4 141.6C759.2 139.9 760.2 139.4 762.4 139.1C764.7 138.9 765.9 140.4 768.7 140.4C771.4 140.4 773.4 138.9 776.2 139.1C778.9 139.4 779.2 140.6 782.4 141.6C785.7 142.6 783.7 137.9 792.4 144.1C801.2 150.4 819.5 105.8 826.2 172.9C833.0 240.0 990.6 427.2 826.2 479.5C661.9 531.8 168.8 489.6 4.5 434.5C-159.9 379.4 -7.0 250.3 4.5 204.2Z" fill="#D5492A"/>
<path d="M179.7 95.3C180.7 93.5 188.5 86.9 192.2 86.6C195.9 86.2 203.6 91.0 207.2 92.8C210.9 94.6 219.4 98.8 219.8 100.3C220.1 101.8 212.4 103.2 209.7 104.1C207.1 104.9 203.1 107.1 199.7 106.6C196.4 106.1 187.4 101.8 184.7 100.3C182.0 98.8 178.7 97.1 179.7 95.3Z" fill="#D5492A"/>
<path d="M73.3 54.0C74.6 52.8 85.8 52.8 87.1 54.0C88.4 55.3 87.8 65.3 86.6 66.5C85.3 67.7 75.9 67.3 74.6 66.0C73.2 64.8 72.1 55.2 73.3 54.0Z" fill="#D5492A"/>
<path d="M101.6 269.3C97.1 261.8 98.9 261.3 97.3 256.8C95.7 252.3 94.7 251.3 93.6 246.8C92.4 242.2 91.8 239.2 91.6 234.2C91.3 229.2 91.7 225.7 92.3 221.7C93.0 217.7 93.1 217.0 94.8 214.2C96.6 211.5 98.3 210.5 101.1 208.0C103.9 205.5 105.9 204.2 108.6 201.7C111.4 199.2 111.9 197.9 114.9 195.4C117.9 192.9 120.4 191.9 123.6 189.2C126.9 186.4 128.4 184.7 131.1 181.7C133.9 178.7 134.4 176.4 137.4 174.2C140.4 171.9 143.7 172.2 146.2 170.4C148.7 168.7 147.4 167.2 149.9 165.4C152.4 163.6 154.4 162.6 158.7 161.6C162.9 160.6 163.7 160.8 171.2 160.4C178.7 160.0 186.2 159.4 196.2 159.6C206.2 159.9 213.7 160.5 221.3 161.6C228.8 162.8 228.3 163.1 233.8 165.4C239.2 167.7 243.8 169.2 248.5 172.9C253.2 176.7 254.9 177.9 257.3 184.2C259.7 190.4 259.7 193.2 260.3 204.2C260.9 215.2 260.0 216.7 260.3 239.2C260.6 261.8 264.9 300.8 261.8 316.8C258.7 332.9 251.7 317.8 244.8 319.3C237.9 320.8 234.3 323.8 227.3 324.4C220.3 324.9 216.2 324.9 209.7 321.8C203.2 318.8 200.2 314.3 194.7 309.3C189.2 304.3 185.2 295.6 182.2 296.8C179.2 298.1 184.2 311.8 179.7 315.6C175.2 319.3 166.7 318.8 159.7 315.6C152.7 312.3 152.7 303.6 144.7 299.3C136.6 295.1 128.2 300.3 119.6 294.3C111.0 288.3 106.1 276.8 101.6 269.3Z" fill="#CC2229"/>
<path d="M301.1 217.7C302.5 217.2 307.6 222.6 309.9 224.0C312.1 225.4 320.5 230.4 323.6 231.5C326.8 232.6 339.4 234.5 341.2 235.2C342.9 235.9 342.0 237.7 341.2 238.5C340.3 239.3 336.5 242.5 332.4 243.0C328.3 243.4 303.7 243.4 299.9 243.0C296.0 242.5 294.0 239.9 293.6 238.5C293.2 237.1 295.3 231.1 296.1 229.0C296.8 226.9 299.7 218.2 301.1 217.7Z" fill="#CC2229"/>
<path d="M227.3 296.8C228.5 293.1 234.4 288.3 239.8 284.3C245.2 280.3 256.4 271.0 259.8 273.0C263.2 275.1 262.8 291.6 260.3 296.8C257.8 302.0 249.5 302.7 244.8 304.3C240.1 306.0 235.2 308.1 232.3 306.8C229.3 305.6 226.0 300.6 227.3 296.8Z" fill="#D5492A"/>
<path d="M356.2 238.0C353.4 235.9 351.7 235.0 356.2 234.0C360.7 232.9 369.2 233.7 378.7 232.7C388.2 231.7 393.7 230.2 403.7 229.0C413.7 227.7 423.8 227.2 428.8 226.5C433.7 225.8 426.0 225.2 428.5 225.5C431.0 225.8 436.0 227.2 441.0 228.0C446.0 228.7 448.5 228.5 453.5 229.2C458.5 230.0 461.0 230.7 466.0 231.7C471.1 232.7 473.6 233.5 478.6 234.2C483.6 235.0 486.1 235.0 491.1 235.5C496.1 236.0 498.6 236.2 503.6 236.7C508.6 237.2 511.1 237.5 516.1 238.0C521.1 238.5 523.6 238.7 528.6 239.2C533.6 239.7 536.1 240.5 541.1 240.5C546.1 240.5 548.7 239.7 553.7 239.2C558.7 238.7 561.2 238.7 566.2 238.0C571.2 237.2 573.7 236.2 578.7 235.5C583.7 234.7 586.2 234.5 591.2 234.2C596.2 234.0 598.7 233.7 603.7 234.2C608.7 234.7 611.7 235.7 616.2 236.7C620.7 237.7 621.8 238.2 626.2 239.2C630.7 240.2 633.5 241.7 638.5 241.7C643.5 241.7 646.0 240.7 651.0 239.2C656.0 237.7 658.5 236.2 663.5 234.2C668.5 232.2 671.5 231.0 676.0 229.2C680.6 227.5 682.6 227.2 686.1 225.5C689.6 223.7 691.1 222.7 693.6 220.5C696.1 218.2 696.8 217.0 698.6 214.2C700.3 211.4 701.3 209.7 702.3 206.7C703.3 203.7 702.8 202.2 703.6 199.2C704.3 196.2 704.6 194.4 706.1 191.7C707.6 188.9 708.6 187.7 711.1 185.4C713.6 183.2 715.6 181.9 718.6 180.4C721.6 178.9 723.1 178.7 726.1 177.9C729.1 177.2 730.4 177.4 733.6 176.7C736.9 175.9 739.4 175.7 742.4 174.2C745.4 172.6 746.9 171.4 748.6 169.1C750.4 166.9 749.1 164.6 751.1 162.9C753.1 161.1 756.5 162.1 758.7 160.4C760.8 158.6 760.8 156.9 761.8 154.1C762.8 151.4 762.3 149.1 763.7 146.6C765.0 144.1 766.2 142.6 768.7 141.6C771.2 140.6 773.2 140.6 776.2 141.6C779.2 142.6 778.7 144.1 783.7 146.6C788.7 149.1 792.7 147.6 801.2 154.1C809.7 160.6 821.2 114.1 826.2 179.2C831.2 244.2 910.3 425.4 826.2 479.5C742.2 533.7 491.6 465.7 406.1 449.8C320.6 433.8 400.1 418.2 398.6 399.7C397.1 381.2 397.6 366.2 398.6 357.2C399.6 348.1 401.1 355.6 403.6 354.6C406.1 353.6 408.1 353.6 411.1 352.1C414.1 350.6 416.9 349.6 418.6 347.1C420.4 344.6 418.9 342.9 419.9 339.6C420.9 336.4 421.4 333.6 423.6 330.9C425.9 328.1 427.1 327.6 431.1 325.9C435.1 324.1 439.2 324.4 443.7 322.1C448.2 319.9 451.2 317.6 453.7 314.6C456.2 311.6 454.9 310.1 456.2 307.1C457.4 304.1 459.9 303.1 459.9 299.6C459.9 296.1 459.4 292.2 456.2 289.6C452.9 286.9 448.7 287.2 443.7 286.4C438.7 285.7 436.1 285.7 431.1 285.8C426.1 285.9 423.6 286.1 418.6 287.1C413.6 288.1 411.1 290.1 406.1 290.8C401.1 291.6 398.3 290.6 393.6 290.8C388.8 291.1 385.6 293.3 382.3 292.1C379.1 290.8 379.1 288.3 377.3 284.6C375.6 280.8 374.8 277.8 373.6 273.3C372.3 268.8 371.1 266.0 371.1 262.0C371.1 258.0 373.8 256.8 373.6 253.3C373.3 249.7 373.4 247.3 369.9 244.3C366.5 241.2 358.9 240.0 356.2 238.0Z" fill="#CC2229"/>
<path d="M401.1 357.2C399.1 338.6 393.6 356.1 391.1 357.2C388.6 358.2 389.6 358.7 388.6 362.2C387.6 365.7 388.1 371.4 386.1 374.7C384.1 377.9 382.1 378.2 378.6 378.4C375.1 378.7 373.1 377.2 368.6 375.9C364.1 374.7 361.1 373.4 356.0 372.2C351.0 370.9 348.5 370.7 343.5 369.7C338.5 368.7 337.2 369.7 331.0 367.2C324.8 364.6 319.1 362.4 312.4 356.9C305.6 351.3 302.9 345.9 297.3 339.4C291.8 332.9 289.3 329.1 284.8 324.4C280.3 319.6 279.1 317.3 274.8 315.6C270.6 313.8 265.8 309.8 263.6 315.6C261.3 321.3 262.3 333.6 263.6 344.4C264.8 355.1 266.1 359.4 269.8 369.4C273.6 379.4 277.3 381.4 282.3 394.4C287.3 407.5 271.1 423.4 294.8 434.5C318.6 445.6 379.9 465.2 401.1 449.8C422.4 434.3 403.1 375.7 401.1 357.2Z" fill="#CC2229"/>
<path d="M511.6 269.3C514.6 260.8 514.6 251.8 521.6 246.8C528.6 241.7 535.6 244.5 546.7 244.3C557.7 244.0 565.7 244.8 576.7 245.5C587.7 246.3 593.7 246.3 601.7 248.0C609.7 249.8 616.7 251.0 616.7 254.3C616.7 257.5 607.7 261.3 601.7 264.3C595.7 267.3 591.7 265.3 586.7 269.3C581.7 273.3 580.7 279.3 576.7 284.3C572.7 289.3 568.7 289.3 566.7 294.3C564.7 299.3 564.7 304.3 566.7 309.3C568.7 314.3 576.7 315.8 576.7 319.3C576.7 322.8 572.7 325.4 566.7 326.9C560.7 328.4 554.7 327.4 546.7 326.9C538.6 326.4 534.1 325.9 526.6 324.4C519.1 322.8 514.1 322.8 509.1 319.3C504.1 315.8 502.1 312.8 501.6 306.8C501.1 300.8 504.6 296.8 506.6 289.3C508.6 281.8 508.6 277.8 511.6 269.3Z" fill="#D5492A"/>
<path d="M601.7 219.2C608.7 216.2 616.7 216.7 626.8 216.7C636.8 216.7 641.8 219.2 651.8 219.2C661.8 219.2 669.3 215.7 676.8 216.7C684.3 217.7 687.3 220.2 689.3 224.2C691.3 228.2 691.3 232.7 686.8 236.7C682.3 240.7 675.8 242.5 666.8 244.3C657.8 246.0 651.8 245.5 641.8 245.5C631.8 245.5 624.7 245.0 616.7 244.3C608.7 243.5 606.7 244.3 601.7 241.7C596.7 239.2 591.7 236.2 591.7 231.7C591.7 227.2 594.7 222.2 601.7 219.2Z" fill="#D5492A"/>
<path d="M551.7 326.9C555.7 323.8 567.7 327.9 576.7 324.4C585.7 320.8 590.7 315.3 596.7 309.3C602.7 303.3 602.7 295.3 606.7 294.3C610.7 293.3 615.7 299.3 616.7 304.3C617.7 309.3 613.7 313.8 611.7 319.3C609.7 324.9 611.7 327.9 606.7 331.9C601.7 335.9 596.7 337.9 586.7 339.4C576.7 340.9 563.7 341.9 556.7 339.4C549.7 336.9 547.7 329.9 551.7 326.9Z" fill="#D5492A"/>
<path d="M561.7 274.3C564.9 270.3 571.7 268.3 576.7 269.3C581.7 270.3 585.2 273.3 586.7 279.3C588.2 285.3 586.7 293.3 584.2 299.3C581.7 305.3 578.2 308.3 574.2 309.3C570.2 310.3 566.9 308.3 564.2 304.3C561.4 300.3 560.9 295.3 560.4 289.3C559.9 283.3 558.4 278.3 561.7 274.3Z" fill="#CC2229"/>
<path d="M111.1 210.3C112.6 207.8 117.6 208.6 121.1 206.6C124.6 204.6 125.4 204.3 128.6 200.3C131.9 196.3 133.9 191.3 137.4 186.5C140.9 181.8 141.9 179.2 146.1 176.5C150.4 173.9 153.7 174.2 158.7 173.4C163.7 172.7 164.9 172.4 171.2 172.8C177.4 173.2 183.7 172.8 189.9 175.3C196.2 177.8 197.5 182.3 202.5 185.3C207.5 188.3 209.7 188.0 215.0 190.3C220.2 192.6 223.7 193.8 228.7 196.6C233.8 199.3 236.3 201.1 240.0 204.1C243.8 207.1 245.6 208.6 247.5 211.6C249.5 214.6 250.0 215.6 249.8 219.1C249.5 222.6 248.0 224.2 246.3 229.2C244.6 234.3 243.8 238.7 241.3 244.2C238.8 249.8 237.8 252.0 233.8 256.8C229.7 261.5 226.2 265.7 221.2 267.9C216.2 270.1 213.7 268.4 208.7 267.9C203.7 267.4 200.2 265.1 196.2 265.4C192.2 265.6 190.4 267.4 188.7 269.2C186.9 270.9 188.4 271.7 187.4 274.2C186.4 276.7 184.7 277.2 183.7 281.7C182.7 286.2 184.9 293.4 182.4 296.7C179.9 299.9 177.9 297.4 171.2 297.9C164.4 298.4 158.7 300.2 148.6 299.2C138.6 298.2 130.6 297.9 121.1 292.9C111.6 287.9 104.1 279.4 101.1 274.2C98.1 268.9 105.0 270.4 106.1 266.6C107.2 262.9 106.0 259.1 106.7 255.4C107.5 251.6 107.5 250.6 109.8 247.9C112.2 245.1 116.4 244.4 118.6 241.6C120.9 238.9 120.9 237.1 121.1 234.1C121.4 231.1 121.4 229.6 119.9 226.6C118.4 223.6 115.4 222.3 113.6 219.1C111.8 215.8 109.6 212.8 111.1 210.3Z" fill="#8E2226"/>
<path d="M302.2 402.2C304.0 390.4 307.7 394.2 311.0 390.9C314.2 387.7 314.5 386.7 318.5 385.9C322.5 385.2 326.0 385.7 331.0 387.2C336.0 388.7 338.5 391.2 343.5 393.4C348.5 395.7 351.5 396.4 356.0 398.5C360.6 400.5 362.6 400.7 366.1 403.5C369.6 406.2 371.1 410.5 373.6 412.2C376.1 414.0 376.1 415.0 378.6 412.2C381.1 409.5 384.1 403.5 386.1 398.5C388.1 393.4 387.1 391.9 388.6 387.2C390.1 382.4 392.3 378.7 393.6 374.7C394.8 370.7 393.6 370.2 394.8 367.2C396.1 364.2 397.1 361.9 399.9 359.7C402.6 357.4 404.9 357.4 408.6 355.9C412.4 354.4 415.1 353.4 418.6 352.1C422.1 350.9 423.1 351.4 426.1 349.6C429.1 347.9 430.6 345.9 433.6 343.4C436.6 340.9 437.9 338.9 441.2 337.1C444.4 335.4 445.7 336.0 449.9 334.6C454.2 333.2 457.4 331.6 462.4 330.2C467.4 328.9 469.9 328.4 474.9 327.7C480.0 327.1 482.7 327.0 487.5 327.1C492.2 327.2 495.0 327.1 498.7 328.4C502.5 329.6 504.2 330.9 506.2 333.4C508.2 335.9 511.2 335.1 508.7 340.9C506.2 346.6 509.2 340.4 493.7 362.2C478.2 383.9 469.4 432.2 431.1 449.8C392.8 467.3 328.0 459.3 302.2 449.8C276.4 440.3 300.5 414.0 302.2 402.2Z" fill="#8E2226"/>
<path d="M782.4 154.1C779.1 154.7 773.6 154.3 771.2 154.8C768.7 155.3 765.7 156.8 764.3 157.9C762.9 159.0 761.4 161.2 760.5 162.9C759.6 164.6 759.0 169.1 757.4 170.4C755.8 171.7 750.0 171.7 748.6 172.9C747.3 174.1 748.2 177.7 747.4 179.2C746.6 180.7 744.2 183.8 742.4 184.2C740.5 184.5 735.5 181.8 733.6 181.7C731.8 181.5 729.6 181.9 728.6 182.9C727.6 183.9 726.1 187.5 726.1 189.2C726.1 190.8 728.8 193.8 728.6 195.4C728.4 197.1 725.9 200.5 724.9 201.7C723.9 202.9 721.9 203.0 721.1 204.2C720.3 205.4 719.3 208.8 718.6 210.4C717.9 212.1 717.4 215.2 716.1 216.7C714.8 218.2 710.3 220.0 708.6 221.7C706.9 223.4 704.7 228.6 703.6 229.2C702.4 229.9 701.6 225.2 699.9 226.5C698.3 227.8 692.8 235.7 691.2 239.0C689.5 242.4 688.6 248.5 687.4 251.5C686.2 254.6 684.1 259.6 682.4 261.6C680.7 263.6 677.1 265.1 674.9 266.6C672.7 268.1 668.3 271.2 666.1 272.8C664.0 274.5 660.6 277.2 658.6 279.1C656.6 280.9 652.8 284.6 651.1 286.6C649.4 288.6 647.8 292.6 646.1 294.1C644.4 295.6 640.6 297.0 638.6 297.9C636.6 298.7 633.1 299.5 631.1 300.4C629.1 301.2 625.4 302.8 623.6 304.1C621.7 305.4 618.5 308.4 617.3 310.4C616.2 312.4 615.3 317.0 614.8 319.1C614.3 321.3 614.1 325.0 613.6 326.6C613.1 328.3 611.7 330.0 611.1 331.6C610.4 333.3 608.9 336.5 608.6 339.2C608.2 341.8 610.2 340.0 608.6 351.7C606.9 363.4 564.3 416.8 596.0 426.8C627.8 436.8 813.0 461.8 846.4 426.8C879.7 391.7 847.4 202.0 846.4 163.9C845.3 125.9 845.4 143.4 838.8 141.6C832.1 139.8 803.7 148.7 796.2 150.4C788.7 152.0 785.8 153.5 782.4 154.1Z" fill="#8E2226"/>
<path d="M151.1 186.5C153.7 183.3 155.2 181.8 158.7 180.3C162.2 178.8 164.2 178.3 168.7 179.0C173.2 179.8 176.9 182.5 181.2 184.0C185.4 185.5 186.9 185.5 189.9 186.5C192.9 187.5 192.4 187.8 196.2 189.1C200.0 190.3 203.7 190.8 208.7 192.8C213.7 194.8 216.7 196.6 221.2 199.1C225.7 201.6 228.4 202.6 231.2 205.3C234.1 208.1 235.1 209.1 235.6 212.8C236.1 216.6 234.4 219.3 233.8 224.1C233.1 228.8 233.2 232.4 232.5 236.6C231.7 240.9 232.2 242.1 230.0 245.4C227.7 248.6 225.5 251.1 221.2 252.9C217.0 254.6 213.7 254.4 208.7 254.1C203.7 253.9 199.7 252.9 196.2 251.6C192.7 250.4 194.0 247.6 191.2 247.9C188.4 248.1 184.4 250.6 182.4 252.9C180.4 255.1 182.7 257.1 181.2 259.1C179.7 261.1 177.4 260.9 174.9 262.9C172.4 264.9 170.7 266.4 168.7 269.2C166.7 271.9 166.7 273.4 164.9 276.7C163.2 279.9 162.2 282.2 159.9 285.4C157.7 288.7 156.4 291.9 153.7 292.9C150.9 293.9 148.9 292.2 146.1 290.4C143.4 288.7 142.9 286.2 139.9 284.2C136.9 282.2 134.9 282.2 131.1 280.4C127.4 278.7 124.6 276.9 121.1 275.4C117.6 273.9 116.4 274.7 113.6 272.9C110.8 271.2 108.3 269.4 107.3 266.6C106.3 263.9 106.3 261.6 108.6 259.1C110.8 256.6 115.1 256.1 118.6 254.1C122.1 252.1 123.4 251.9 126.1 249.1C128.9 246.4 130.1 243.9 132.4 240.4C134.6 236.9 135.9 235.4 137.4 231.6C138.9 227.8 138.6 226.1 139.9 221.6C141.1 217.1 142.4 214.1 143.6 209.1C144.9 204.1 144.6 201.1 146.1 196.6C147.6 192.1 148.6 189.8 151.1 186.5Z" fill="#62171A"/>
<path d="M418.6 353.4C414.6 349.9 414.1 355.4 411.1 357.2C408.1 358.9 406.1 359.7 403.6 362.2C401.1 364.7 400.1 366.2 398.6 369.7C397.1 373.2 396.1 376.2 396.1 379.7C396.1 383.2 398.6 384.2 398.6 387.2C398.6 390.2 397.3 391.7 396.1 394.7C394.8 397.7 393.6 397.2 392.3 402.2C391.1 407.2 384.6 416.2 389.8 419.7C395.1 423.2 410.4 428.7 418.6 419.7C426.9 410.7 431.1 387.9 431.1 374.7C431.1 361.4 422.6 356.9 418.6 353.4Z" fill="#62171A"/>
<path d="M698.7 237.8C683.4 239.5 696.4 242.8 694.9 246.5C693.4 250.3 692.9 253.0 691.2 256.6C689.4 260.1 688.7 261.6 686.2 264.1C683.7 266.6 681.7 267.1 678.7 269.1C675.6 271.1 674.1 271.6 671.1 274.1C668.1 276.6 666.1 278.6 663.6 281.6C661.1 284.6 661.1 286.6 658.6 289.1C656.1 291.6 654.1 292.1 651.1 294.1C648.1 296.1 646.6 297.4 643.6 299.1C640.6 300.9 639.1 301.1 636.1 302.9C633.1 304.6 631.3 305.6 628.6 307.9C625.8 310.1 624.3 311.4 622.3 314.1C620.3 316.9 619.8 318.6 618.6 321.6C617.3 324.6 617.1 326.6 616.1 329.1C615.1 331.6 614.3 331.9 613.6 334.2C612.8 336.4 612.8 336.9 612.3 340.4C611.8 343.9 613.1 334.4 611.1 351.7C609.1 368.9 570.3 411.7 602.3 426.8C634.3 441.8 737.5 464.6 771.3 426.8C805.1 389.0 785.8 275.6 771.3 237.8C756.7 200.0 713.9 236.0 698.7 237.8Z" fill="#62171A"/>
<path d="M34.5 109.1C38.5 93.6 47.5 109.3 54.5 109.1C61.6 108.8 63.6 108.3 69.6 107.8C75.6 107.3 78.1 106.1 84.6 106.6C91.1 107.1 96.3 107.8 102.1 110.3C107.9 112.8 110.6 115.3 113.4 119.1C116.1 122.8 116.1 124.6 115.9 129.1C115.6 133.6 113.9 136.6 112.1 141.6C110.4 146.6 109.6 149.6 107.1 154.1C104.6 158.6 102.4 160.6 99.6 164.2C96.8 167.7 94.8 168.7 93.3 171.7C91.8 174.7 93.3 176.4 92.1 179.2C90.8 181.9 91.6 183.7 87.1 185.4C82.6 187.2 76.1 187.7 69.6 187.9C63.1 188.2 61.6 186.9 54.5 186.7C47.5 186.4 38.5 202.2 34.5 186.7C30.5 171.2 30.5 124.6 34.5 109.1Z" fill="#EEA22E"/>
<path d="M39.5 139.1C40.7 136.6 48.7 139.2 50.8 139.1C52.9 139.0 58.0 136.4 60.8 137.9C63.6 139.4 77.4 152.0 78.3 154.1C79.2 156.3 71.7 158.3 69.6 159.1C67.4 160.0 60.1 162.4 57.0 162.9C54.0 163.4 41.3 166.5 39.5 164.2C37.8 161.8 38.4 141.6 39.5 139.1Z" fill="#FFDD2D"/>
<path d="M212.2 127.9C212.6 126.7 217.6 124.8 219.8 124.6C221.9 124.4 227.5 125.6 228.5 126.6C229.5 127.6 228.8 131.2 227.3 132.1C225.8 133.0 219.2 133.9 217.2 133.4C215.2 132.8 211.9 129.0 212.2 127.9Z" fill="#EEA22E"/>
<path d="M321.9 125.4C321.8 124.1 327.8 118.8 329.9 119.1C331.9 119.3 342.3 126.6 342.4 127.9C342.5 129.2 333.2 132.4 331.1 132.1C329.1 131.9 322.0 126.7 321.9 125.4Z" fill="#FFDD2D"/>
<path d="M282.3 291.6C282.3 288.9 284.8 288.4 288.6 285.4C292.3 282.4 296.1 277.9 301.1 276.6C306.1 275.4 308.1 278.4 313.6 279.1C319.1 279.9 324.1 278.6 328.6 280.4C333.1 282.1 333.6 285.1 336.1 287.9C338.6 290.6 338.6 290.9 341.1 294.1C343.6 297.4 345.1 301.2 348.7 304.2C352.2 307.2 354.7 306.7 358.7 309.2C362.7 311.7 364.7 313.4 368.7 316.7C372.7 319.9 375.2 322.6 378.7 325.4C382.2 328.3 383.2 328.5 386.2 330.8C389.2 333.1 391.2 334.3 393.7 337.1C396.2 339.8 398.2 341.6 398.7 344.6C399.2 347.6 397.7 349.6 396.2 352.1C394.7 354.6 392.7 355.1 391.2 357.1C389.7 359.1 389.7 360.1 388.7 362.1C387.7 364.1 388.2 366.1 386.2 367.1C384.2 368.1 381.2 366.9 378.7 367.1C376.2 367.4 376.2 368.6 373.7 368.4C371.2 368.1 369.7 367.1 366.2 365.9C362.7 364.6 360.2 363.6 356.2 362.1C352.2 360.6 349.9 360.1 346.1 358.3C342.4 356.6 339.4 355.3 337.4 353.3C335.4 351.3 338.4 351.1 336.1 348.3C333.9 345.6 329.6 342.8 326.1 339.6C322.6 336.3 322.1 335.1 318.6 332.1C315.1 329.0 312.6 327.5 308.6 324.2C304.6 320.9 301.6 318.4 298.6 315.4C295.6 312.4 295.6 312.4 293.6 309.2C291.6 305.9 290.8 302.7 288.6 299.2C286.3 295.6 282.3 294.4 282.3 291.6Z" fill="#E2786D"/>
<path d="M349.8 345.9C349.6 344.6 353.0 341.4 354.8 340.9C356.6 340.4 361.4 341.3 363.6 342.1C365.7 343.0 370.4 346.0 371.1 347.1C371.7 348.3 370.6 350.4 368.6 350.9C366.6 351.4 358.6 351.6 356.0 350.9C353.5 350.2 350.0 347.2 349.8 345.9Z" fill="#EEA22E"/>
<path d="M351.3 346.1C351.3 345.3 354.6 343.3 356.0 343.0C357.5 342.8 361.0 343.6 362.3 344.3C363.6 344.9 366.9 347.5 366.1 348.1C365.2 348.8 358.0 349.7 356.0 349.4C354.1 349.1 351.3 347.0 351.3 346.1Z" fill="#FFDD2D"/>
<path d="M137.1 313.1C138.6 305.7 156.8 313.0 159.7 313.1C162.5 313.2 178.2 313.9 179.7 314.3C181.2 314.8 181.2 317.3 182.2 319.3C183.2 321.3 192.5 341.0 194.7 344.4C196.9 347.7 211.7 365.7 214.7 369.4C217.7 373.1 236.8 395.8 239.8 399.4C242.8 403.1 266.6 422.8 259.8 424.5C253.0 426.1 145.3 431.9 137.1 424.5C129.0 417.0 135.6 320.5 137.1 313.1Z" fill="#D5492A"/>
<path d="M137.1 319.3C139.0 312.3 161.8 319.3 164.7 319.3C167.6 319.3 178.9 317.7 181.0 319.3C183.0 321.0 192.5 341.0 194.7 344.4C197.0 347.7 211.7 365.7 214.7 369.4C217.7 373.1 236.8 395.8 239.8 399.4C242.8 403.1 266.6 422.8 259.8 424.5C253.0 426.1 145.3 431.5 137.1 424.5C129.0 417.5 135.3 326.4 137.1 319.3Z" fill="#E2786D"/>
<path d="M137.1 325.6C139.1 319.0 164.1 325.6 167.2 325.6C170.3 325.6 181.6 324.4 183.5 325.6C185.3 326.9 192.6 341.5 194.7 344.4C196.8 347.3 211.7 365.7 214.7 369.4C217.7 373.1 236.8 395.8 239.8 399.4C242.8 403.1 266.6 422.8 259.8 424.5C253.0 426.1 145.3 431.1 137.1 424.5C129.0 417.9 135.1 332.2 137.1 325.6Z" fill="#EEA22E"/>
<path d="M137.1 330.6C139.3 324.4 166.4 330.6 169.7 330.6C172.9 330.6 184.3 329.7 186.0 330.6C187.6 331.5 192.8 341.8 194.7 344.4C196.6 347.0 211.7 365.7 214.7 369.4C217.7 373.1 236.8 395.8 239.8 399.4C242.8 403.1 266.6 422.8 259.8 424.5C253.0 426.1 145.3 430.7 137.1 424.5C129.0 418.2 135.0 336.9 137.1 330.6Z" fill="#FFDD2D"/>
<path d="M137.1 344.4C139.7 339.0 170.9 344.4 174.7 344.4C178.5 344.4 192.0 342.7 194.7 344.4C197.4 346.0 211.7 365.7 214.7 369.4C217.7 373.1 236.8 395.8 239.8 399.4C242.8 403.1 266.6 422.8 259.8 424.5C253.0 426.1 145.3 429.8 137.1 424.5C129.0 419.1 134.6 349.7 137.1 344.4Z" fill="#FFFF38"/>
<path d="M187.2 346.9C188.2 345.4 196.4 345.1 199.7 348.1C203.1 351.1 211.6 365.9 212.2 369.4C212.9 372.9 207.4 375.7 204.7 374.4C202.1 373.1 194.6 363.1 192.2 359.4C189.9 355.7 186.2 348.4 187.2 346.9Z" fill="#F6F18E"/>
<path d="M204.7 319.3C203.7 312.3 210.2 318.3 214.7 321.8C219.2 325.4 222.3 332.4 227.3 336.9C232.3 341.4 233.8 342.9 239.8 344.4C245.8 345.9 253.0 341.4 257.3 344.4C261.6 347.4 258.5 352.9 261.1 359.4C263.6 365.9 266.1 369.9 269.8 376.9C273.6 383.9 276.8 388.4 279.8 394.4C282.8 400.4 286.8 403.9 284.8 407.0C282.8 410.0 277.8 412.0 269.8 409.5C261.8 407.0 254.8 405.0 244.8 394.4C234.8 383.9 227.8 371.9 219.8 356.9C211.7 341.9 205.7 326.4 204.7 319.3Z" fill="#E2786D"/>
<path d="M224.8 349.4C227.8 347.9 230.8 350.4 234.8 351.9C238.8 353.4 240.8 353.4 244.8 356.9C248.8 360.4 250.3 363.4 254.8 369.4C259.3 375.4 262.3 379.9 267.3 386.9C272.3 393.9 279.3 399.4 279.8 404.5C280.3 409.5 276.8 414.0 269.8 412.0C262.8 410.0 254.8 405.0 244.8 394.4C234.8 383.9 223.8 368.4 219.8 359.4C215.7 350.4 221.8 350.9 224.8 349.4Z" fill="#EEA22E"/>
<path d="M227.3 354.4C228.3 352.7 234.6 355.2 237.3 356.9C239.9 358.6 247.0 364.2 247.3 366.9C247.6 369.6 242.1 376.6 239.8 376.9C237.4 377.2 231.4 372.4 229.8 369.4C228.1 366.4 226.3 356.1 227.3 354.4Z" fill="#FFDD2D"/>
<path d="M254.8 389.4C256.5 388.4 267.1 396.8 269.8 399.4C272.5 402.1 276.5 408.5 274.8 409.5C273.2 410.5 260.0 409.6 257.3 407.0C254.6 404.3 253.1 390.4 254.8 389.4Z" fill="#FFDD2D"/>
</g><use href="#bm"/><use href="#fr"/>
</g>
<g transform="translate(-0.4 469.3)">
<g clip-path="url(#dr)">
<rect x="39.6" y="59.3" width="798.9" height="358.5" fill="#EEA22E"/>
<path d="M556.4 39.0C494.3 45.0 554.9 61.5 557.7 69.0C560.4 76.5 564.7 73.5 570.2 76.5C575.7 79.5 579.2 81.5 585.2 84.1C591.2 86.6 594.2 87.1 600.2 89.1C606.2 91.1 610.2 91.6 615.2 94.1C620.2 96.6 622.2 97.6 625.2 101.6C628.2 105.6 628.2 108.6 630.3 114.1C632.3 119.6 632.8 123.6 635.3 129.1C637.8 134.6 638.8 138.6 642.8 141.6C646.8 144.6 649.8 144.0 655.3 144.1C660.8 144.2 665.3 143.9 670.3 142.1C675.3 140.4 676.3 136.5 680.3 135.4C684.3 134.3 687.3 133.9 690.3 136.6C693.3 139.4 692.3 145.6 695.3 149.1C698.3 152.6 701.8 151.1 705.3 154.1C708.8 157.1 710.9 159.1 712.9 164.2C714.9 169.2 715.1 173.2 715.4 179.2C715.6 185.2 715.1 189.2 714.1 194.2C713.1 199.2 710.1 201.2 710.4 204.2C710.6 207.2 713.4 206.2 715.4 209.2C717.4 212.2 717.4 214.2 720.4 219.2C723.4 224.2 718.4 234.2 730.4 234.2C742.4 234.2 752.9 227.2 780.4 219.2C808.0 211.2 850.5 230.2 868.0 194.2C885.6 158.1 930.4 70.0 868.0 39.0C805.7 8.0 618.5 33.0 556.4 39.0Z" fill="#FFDD2D"/>
<path d="M511.4 39.0C508.6 44.0 511.1 70.5 512.6 76.5C514.1 82.5 519.9 83.4 522.6 84.1C525.3 84.7 531.2 87.6 532.6 81.5C534.0 75.5 536.0 44.7 533.1 39.0C530.3 33.3 514.1 34.0 511.4 39.0Z" fill="#FFDD2D"/>
<path d="M790.5 39.0C777.9 46.0 791.0 65.0 793.0 74.0C795.0 83.0 796.0 81.4 800.5 84.1C805.0 86.7 811.2 84.1 815.5 87.1C819.7 90.1 820.7 90.2 821.7 99.1C822.7 108.0 813.7 121.6 820.5 131.6C827.2 141.6 848.5 167.7 855.5 149.1C862.5 130.6 868.5 61.0 855.5 39.0C842.5 17.0 803.0 32.0 790.5 39.0Z" fill="#FFFF38"/>
<path d="M765.4 141.6C766.7 140.4 780.6 140.3 781.7 141.6C782.8 143.0 781.1 160.1 781.7 161.6C782.3 163.1 789.9 163.6 790.5 164.2C791.0 164.7 792.8 169.9 790.5 170.4C788.1 170.9 757.9 172.2 755.4 171.7C752.9 171.2 752.4 163.6 752.9 162.9C753.4 162.1 762.1 161.8 762.9 160.4C763.8 159.0 764.2 142.9 765.4 141.6Z" fill="#FFFF38"/>
<path d="M600.2 154.1C601.9 153.6 615.9 153.6 617.7 154.1C619.5 154.7 619.9 159.1 618.2 159.6C616.5 160.2 602.5 160.2 600.7 159.6C598.9 159.1 598.5 154.7 600.2 154.1Z" fill="#FFDD2D"/>
<path d="M714.1 241.7C705.6 241.2 705.6 250.3 700.3 254.3C695.1 258.3 690.8 258.5 687.8 261.8C684.8 265.0 683.8 266.0 685.3 270.5C686.8 275.0 683.8 287.1 695.3 284.3C706.8 281.5 739.1 265.3 742.9 256.8C746.6 248.3 722.6 242.2 714.1 241.7Z" fill="#FFDD2D"/>
<path d="M291.6 39.0C301.2 34.6 353.9 34.6 363.4 39.0C372.9 43.4 364.3 67.4 362.9 72.0C361.5 76.6 354.9 72.3 352.9 73.5C350.9 74.8 351.6 80.1 347.9 81.5C344.2 83.0 331.4 84.5 325.4 84.6C319.4 84.6 306.5 83.5 302.9 82.0C299.2 80.6 299.3 74.9 297.8 73.5C296.3 72.2 292.4 76.6 291.6 72.0C290.8 67.4 282.0 43.4 291.6 39.0Z" fill="#FFDD2D"/>
<path d="M403.0 39.0C404.5 36.9 424.5 36.9 426.0 39.0C427.5 41.1 427.0 68.9 425.5 71.0C424.0 73.2 405.0 73.2 403.5 71.0C402.0 68.9 401.5 41.1 403.0 39.0Z" fill="#FFDD2D"/>
<path d="M5.0 39.0C46.5 -40.1 170.2 32.5 212.7 39.0C255.3 45.5 214.7 63.0 217.7 71.5C220.8 80.0 223.3 78.0 227.8 81.5C232.3 85.1 236.5 85.8 240.3 89.1C244.0 92.3 246.5 93.8 246.5 97.8C246.5 101.8 244.5 105.3 240.3 109.1C236.0 112.8 229.8 113.6 225.3 116.6C220.8 119.6 218.7 119.6 217.7 124.1C216.7 128.6 218.2 133.1 220.3 139.1C222.3 145.1 224.8 148.1 227.8 154.1C230.8 160.1 231.8 163.1 235.3 169.2C238.8 175.2 241.8 178.2 245.3 184.2C248.8 190.2 249.8 193.7 252.8 199.2C255.8 204.7 256.8 207.7 260.3 211.7C263.8 215.7 265.3 216.7 270.3 219.2C275.3 221.7 279.8 222.2 285.3 224.2C290.8 226.2 293.3 227.2 297.8 229.2C302.4 231.2 303.9 231.7 307.9 234.2C311.9 236.7 315.9 236.7 317.9 241.7C319.9 246.8 318.4 252.8 317.9 259.3C317.4 265.8 316.9 268.8 315.4 274.3C313.9 279.8 311.9 282.8 310.4 286.8C308.9 290.8 305.9 291.8 307.9 294.3C309.9 296.8 315.4 298.1 320.4 299.3C325.4 300.6 329.4 302.3 332.9 300.6C336.4 298.8 336.3 296.8 337.9 290.6C339.5 284.3 340.0 277.0 340.9 269.3C341.8 261.5 339.5 256.3 342.4 251.8C345.3 247.3 349.8 249.5 355.4 246.8C361.0 244.0 366.2 242.0 370.4 238.0C374.7 234.0 374.4 231.5 376.7 226.7C378.9 222.0 379.2 218.7 381.7 214.2C384.2 209.7 386.2 208.2 389.2 204.2C392.2 200.2 394.2 198.7 396.7 194.2C399.2 189.7 400.5 186.7 401.7 181.7C403.0 176.7 403.2 173.2 403.0 169.2C402.7 165.2 399.0 163.9 400.5 161.6C402.0 159.4 405.5 159.0 410.5 157.9C415.5 156.8 421.6 157.4 425.5 156.1C429.4 154.9 427.1 151.8 430.0 151.6C432.9 151.5 435.0 154.1 440.0 155.4C445.0 156.6 448.0 157.1 455.0 157.9C462.0 158.6 467.0 158.6 475.1 159.1C483.1 159.6 489.6 158.4 495.1 160.4C500.6 162.4 499.6 165.4 502.6 169.2C505.6 172.9 505.6 176.2 510.1 179.2C514.6 182.2 519.1 182.9 525.1 184.2C531.1 185.4 534.1 184.4 540.1 185.4C546.1 186.4 549.1 187.4 555.2 189.2C561.2 190.9 564.2 192.2 570.2 194.2C576.2 196.2 579.2 197.2 585.2 199.2C591.2 201.2 593.2 202.7 600.2 204.2C607.2 205.7 613.2 205.7 620.2 206.7C627.2 207.7 631.0 207.2 635.3 209.2C639.5 211.2 641.0 213.2 641.5 216.7C642.0 220.2 640.0 223.7 637.8 226.7C635.5 229.7 637.3 230.2 630.3 231.7C623.2 233.2 608.7 232.7 602.7 234.2C596.7 235.7 596.7 237.7 600.2 239.2C603.7 240.7 613.2 240.7 620.2 241.7C627.2 242.7 632.0 241.2 635.3 244.3C638.5 247.3 636.1 251.8 636.5 256.8C636.9 261.8 637.0 263.8 637.3 269.3C637.5 274.8 637.2 278.8 637.8 284.3C638.4 289.8 639.3 291.8 640.3 296.8C641.3 301.8 642.8 304.8 642.8 309.3C642.8 313.8 641.5 315.8 640.3 319.3C639.0 322.8 637.4 321.8 636.5 326.9C635.6 331.9 635.9 335.9 635.8 344.4C635.6 352.9 634.9 360.9 635.8 369.4C636.7 377.9 638.9 380.9 640.3 386.9C641.7 392.9 649.8 389.9 642.8 399.4C635.8 409.0 732.8 427.5 605.2 434.5C477.7 441.5 125.0 513.6 5.0 434.5C-115.1 355.4 -36.6 118.1 5.0 39.0Z" fill="#E2786D"/>
<path d="M5.0 39.0C31.0 -17.1 108.1 32.5 135.1 39.0C162.2 45.5 136.6 61.5 140.2 71.5C143.7 81.5 148.7 83.0 152.7 89.1C156.7 95.1 156.7 96.1 160.2 101.6C163.7 107.1 166.2 110.1 170.2 116.6C174.2 123.1 176.2 127.6 180.2 134.1C184.2 140.6 186.2 143.6 190.2 149.1C194.2 154.6 196.2 156.6 200.2 161.6C204.2 166.7 206.2 168.7 210.2 174.2C214.2 179.7 216.7 183.2 220.3 189.2C223.8 195.2 225.3 198.2 227.8 204.2C230.3 210.2 231.3 213.2 232.8 219.2C234.3 225.2 234.8 228.2 235.3 234.2C235.8 240.2 236.3 243.7 235.3 249.3C234.3 254.8 233.3 257.3 230.3 261.8C227.3 266.3 224.8 267.8 220.3 271.8C215.7 275.8 212.7 277.8 207.7 281.8C202.7 285.8 199.7 288.8 195.2 291.8C190.7 294.8 188.2 295.1 185.2 296.8C182.2 298.6 187.2 299.6 180.2 300.6C173.2 301.6 185.2 298.1 150.2 301.8C115.1 305.6 34.0 371.9 5.0 319.3C-24.1 266.8 -21.1 95.1 5.0 39.0Z" fill="#D5492A"/>
<path d="M35.0 115.3C39.0 97.7 49.3 115.3 55.0 116.1C60.8 116.8 61.8 116.0 63.8 119.1C65.8 122.2 65.1 126.6 65.1 131.6C65.1 136.6 64.8 139.1 63.8 144.1C62.8 149.1 61.3 151.6 60.1 156.6C58.8 161.6 56.8 165.7 57.5 169.2C58.3 172.7 62.1 171.2 63.8 174.2C65.6 177.2 66.3 180.2 66.3 184.2C66.3 188.2 65.6 190.2 63.8 194.2C62.1 198.2 63.3 202.2 57.5 204.2C51.8 206.2 39.5 222.0 35.0 204.2C30.5 186.4 31.0 133.0 35.0 115.3Z" fill="#E2786D"/>
<path d="M433.0 229.2C430.6 230.5 423.5 231.2 418.0 234.2C412.5 237.2 410.0 239.7 405.5 244.3C401.0 248.8 398.5 251.8 395.5 256.8C392.5 261.8 392.5 264.3 390.5 269.3C388.5 274.3 387.5 276.8 385.5 281.8C383.5 286.8 383.5 288.8 380.5 294.3C377.4 299.8 374.9 303.8 370.4 309.3C365.9 314.8 362.9 317.3 357.9 321.8C352.9 326.4 350.4 328.4 345.4 331.9C340.4 335.4 337.9 336.9 332.9 339.4C327.9 341.9 324.9 341.9 320.4 344.4C315.9 346.9 313.9 348.4 310.4 351.9C306.9 355.4 305.9 357.4 302.9 361.9C299.8 366.4 296.3 370.9 295.3 374.4C294.3 377.9 293.8 377.9 297.8 379.4C301.9 380.9 308.9 381.9 315.4 381.9C321.9 381.9 325.9 378.4 330.4 379.4C334.9 380.4 333.4 384.4 337.9 386.9C342.4 389.4 347.4 391.4 352.9 391.9C358.4 392.4 360.9 390.9 365.4 389.4C369.9 387.9 372.4 386.9 375.4 384.4C378.4 381.9 377.9 380.4 380.5 376.9C383.0 373.4 385.0 369.9 388.0 366.9C391.0 363.9 392.0 362.4 395.5 361.9C399.0 361.4 401.5 364.4 405.5 364.4C409.5 364.4 411.5 364.4 415.5 361.9C419.5 359.4 421.5 355.4 425.5 351.9C429.5 348.4 427.1 340.9 435.5 344.4C443.9 347.9 434.1 364.4 467.5 369.4C501.0 374.4 575.2 374.4 602.7 369.4C630.3 364.4 603.5 351.1 605.2 344.4C607.0 337.6 610.5 338.1 611.5 335.6C612.5 333.1 611.5 334.1 610.2 331.9C609.0 329.6 608.2 327.9 605.2 324.4C602.2 320.8 598.7 318.3 595.2 314.3C591.7 310.3 590.7 308.3 587.7 304.3C584.7 300.3 583.2 298.3 580.2 294.3C577.2 290.3 575.7 288.3 572.7 284.3C569.7 280.3 568.2 278.8 565.2 274.3C562.2 269.8 560.2 266.3 557.7 261.8C555.2 257.3 554.7 254.8 552.7 251.8C550.7 248.8 551.2 248.3 547.6 246.8C544.1 245.3 539.6 245.3 535.1 244.3C530.6 243.2 529.1 244.5 525.1 241.7C521.1 239.0 519.6 234.2 515.1 230.5C510.6 226.7 507.6 225.0 502.6 223.0C497.6 221.0 495.6 220.6 490.1 220.5C484.6 220.3 481.1 221.5 475.1 222.2C469.0 223.0 466.0 223.3 460.0 224.2C454.0 225.1 451.0 226.0 445.0 226.7C439.0 227.5 432.4 227.5 430.0 228.0C427.6 228.5 435.4 228.0 433.0 229.2Z" fill="#D5492A"/>
<path d="M67.6 179.2C69.6 175.2 72.6 175.7 77.6 174.2C82.6 172.7 87.1 171.2 92.6 171.7C98.1 172.2 101.1 173.7 105.1 176.7C109.1 179.7 108.6 183.7 112.6 186.7C116.6 189.7 119.6 190.2 125.1 191.7C130.6 193.2 135.1 192.7 140.2 194.2C145.2 195.7 146.2 196.7 150.2 199.2C154.2 201.7 155.7 203.2 160.2 206.7C164.7 210.2 168.2 212.7 172.7 216.7C177.2 220.7 179.7 221.7 182.7 226.7C185.7 231.7 187.0 235.7 187.7 241.7C188.5 247.8 188.0 251.3 186.5 256.8C185.0 262.3 183.5 264.8 180.2 269.3C176.9 273.8 174.2 276.8 170.2 279.3C166.2 281.8 164.2 282.3 160.2 281.8C156.2 281.3 154.2 278.3 150.2 276.8C146.2 275.3 144.7 275.8 140.2 274.3C135.6 272.8 132.6 271.3 127.6 269.3C122.6 267.3 119.1 266.8 115.1 264.3C111.1 261.8 110.6 260.8 107.6 256.8C104.6 252.8 103.1 249.3 100.1 244.3C97.1 239.2 96.1 236.7 92.6 231.7C89.1 226.7 86.3 224.2 82.6 219.2C78.8 214.2 76.8 211.7 73.8 206.7C70.8 201.7 68.8 199.7 67.6 194.2C66.3 188.7 65.6 183.2 67.6 179.2Z" fill="#CC2229"/>
<path d="M77.6 84.1C80.8 83.0 85.1 84.6 90.1 86.6C95.1 88.6 98.8 90.1 102.6 94.1C106.4 98.1 107.9 100.6 108.9 106.6C109.9 112.6 110.4 118.6 107.6 124.1C104.9 129.6 100.1 132.6 95.1 134.1C90.1 135.6 85.6 134.6 82.6 131.6C79.6 128.6 80.8 125.1 80.1 119.1C79.3 113.1 80.1 107.1 78.8 101.6C77.6 96.1 74.1 95.1 73.8 91.6C73.6 88.1 74.3 85.1 77.6 84.1Z" fill="#CC2229"/>
<path d="M410.5 294.3C412.7 290.3 415.5 287.3 420.5 284.3C425.5 281.3 433.6 280.5 435.5 279.3C437.4 278.0 428.1 279.0 430.0 278.0C431.9 277.0 439.0 275.8 445.0 274.3C451.0 272.8 453.0 271.5 460.0 270.5C467.0 269.5 473.1 269.3 480.1 269.3C487.1 269.3 490.1 269.0 495.1 270.5C500.1 272.0 500.6 274.5 505.1 276.8C509.6 279.0 512.6 279.3 517.6 281.8C522.6 284.3 526.6 286.8 530.1 289.3C533.6 291.8 535.6 291.8 535.1 294.3C534.6 296.8 531.6 298.8 527.6 301.8C523.6 304.8 519.6 306.3 515.1 309.3C510.6 312.3 509.6 313.8 505.1 316.8C500.6 319.8 497.6 322.3 492.6 324.4C487.6 326.4 485.1 325.9 480.1 326.9C475.1 327.9 472.6 328.4 467.5 329.4C462.5 330.4 460.5 330.9 455.0 331.9C449.5 332.9 445.0 333.6 440.0 334.4C435.0 335.1 431.9 336.6 430.0 335.6C428.1 334.6 433.4 331.6 430.5 329.4C427.6 327.1 420.0 327.4 415.5 324.4C411.0 321.3 409.2 318.3 408.0 314.3C406.7 310.3 408.7 308.3 409.2 304.3C409.7 300.3 408.2 298.3 410.5 294.3Z" fill="#CC2229"/>
<path d="M105.1 236.7C105.4 235.4 110.6 231.0 112.6 230.5C114.6 230.0 122.6 231.1 125.1 231.7C127.6 232.4 135.4 235.7 137.6 236.7C139.9 237.7 146.9 240.5 147.7 241.7C148.4 243.0 145.9 247.8 145.2 249.3C144.4 250.8 140.9 255.3 140.2 256.8C139.4 258.3 138.3 263.8 137.6 264.3C137.0 264.8 134.6 263.0 133.9 261.8C133.1 260.5 131.5 253.1 130.1 251.8C128.8 250.4 122.1 248.8 120.1 248.0C118.1 247.3 111.6 245.4 110.1 244.3C108.6 243.1 104.9 238.1 105.1 236.7Z" fill="#8E2226"/>
<path d="M206.5 320.6C209.5 319.1 214.5 322.1 220.3 324.4C226.0 326.6 230.3 327.9 235.3 331.9C240.3 335.9 241.8 338.9 245.3 344.4C248.8 349.9 250.3 353.4 252.8 359.4C255.3 365.4 256.0 368.9 257.8 374.4C259.5 379.9 259.0 382.9 261.6 386.9C264.1 390.9 265.6 391.9 270.3 394.4C275.1 396.9 282.1 395.4 285.3 399.4C288.6 403.4 289.6 410.5 286.6 414.5C283.6 418.5 278.6 422.5 270.3 419.5C262.1 416.5 255.3 410.5 245.3 399.4C235.3 388.4 228.3 377.9 220.3 364.4C212.2 350.9 208.0 340.6 205.2 331.9C202.5 323.1 203.5 322.1 206.5 320.6Z" fill="#EEA22E"/>
<path d="M255.3 388.2C256.0 387.3 266.1 391.6 267.8 393.2C269.6 394.8 273.6 403.6 272.8 404.5C272.1 405.3 262.1 403.6 260.3 401.9C258.5 400.3 254.5 389.1 255.3 388.2Z" fill="#FFDD2D"/>
<path d="M226.5 353.9C227.1 353.5 234.1 354.8 235.3 355.6C236.4 356.4 238.4 361.5 237.8 361.9C237.1 362.3 230.1 360.7 229.0 359.9C227.9 359.1 225.9 354.3 226.5 353.9Z" fill="#FFDD2D"/>
<path d="M137.6 315.6C138.9 308.3 154.3 315.4 156.4 315.6C158.6 315.8 168.4 318.6 170.2 318.8C171.9 319.1 181.0 317.6 182.7 319.3C184.4 321.0 193.0 341.0 195.2 344.4C197.4 347.7 212.2 365.7 215.2 369.4C218.2 373.1 237.3 395.8 240.3 399.4C243.3 403.1 267.1 422.8 260.3 424.5C253.5 426.1 145.8 431.7 137.6 424.5C129.5 417.2 136.4 322.8 137.6 315.6Z" fill="#EEA22E"/>
<path d="M137.6 326.4C139.8 319.8 167.0 326.2 170.2 326.4C173.4 326.5 184.0 326.9 185.7 328.1C187.4 329.3 193.2 341.6 195.2 344.4C197.2 347.1 212.2 365.7 215.2 369.4C218.2 373.1 237.3 395.8 240.3 399.4C243.3 403.1 267.1 422.8 260.3 424.5C253.5 426.1 145.8 431.0 137.6 424.5C129.5 417.9 135.5 332.9 137.6 326.4Z" fill="#FFDD2D"/>
<path d="M137.6 333.9C139.8 327.8 166.7 333.7 170.2 333.9C173.7 334.0 188.5 334.9 190.2 335.6C191.9 336.3 193.6 342.1 195.2 344.4C196.9 346.6 212.2 365.7 215.2 369.4C218.2 373.1 237.3 395.8 240.3 399.4C243.3 403.1 267.1 422.8 260.3 424.5C253.5 426.1 145.8 430.5 137.6 424.5C129.5 418.4 135.5 339.9 137.6 333.9Z" fill="#FFFF38"/>
<path d="M170.2 356.9C173.4 352.5 183.2 358.3 185.2 358.1C187.2 358.0 198.2 353.6 200.2 354.4C202.2 355.1 212.6 366.4 215.2 369.4C217.9 372.4 237.3 395.8 240.3 399.4C243.3 403.1 267.1 422.8 260.3 424.5C253.5 426.1 143.7 429.0 137.6 424.5C131.6 420.0 167.0 361.3 170.2 356.9Z" fill="#F6F18E"/>
<path d="M192.7 366.9C193.0 364.2 201.9 365.7 205.2 369.4C208.6 373.1 214.7 388.8 217.7 394.4C220.8 400.1 228.1 409.6 227.8 412.0C227.4 414.3 218.6 415.0 215.2 412.0C211.9 409.0 205.7 395.4 202.7 389.4C199.7 383.4 192.4 369.6 192.7 366.9Z" fill="#FFFDD6"/>
<path d="M381.7 424.5C369.2 421.0 380.7 412.5 383.0 407.0C385.2 401.4 388.5 400.2 393.0 396.9C397.5 393.7 400.0 392.7 405.5 390.7C411.0 388.7 415.0 388.7 420.5 386.9C426.0 385.2 428.0 374.4 433.0 381.9C438.0 389.4 455.8 416.0 445.5 424.5C435.3 433.0 394.2 428.0 381.7 424.5Z" fill="#EEA22E"/>
<path d="M400.5 424.5C391.7 421.0 400.2 412.5 401.7 407.0C403.2 401.4 404.7 399.7 408.0 396.9C411.2 394.2 414.0 394.2 418.0 393.2C422.0 392.2 422.5 385.7 428.0 391.9C433.5 398.2 451.0 418.0 445.5 424.5C440.0 431.0 409.2 428.0 400.5 424.5Z" fill="#FFDD2D"/>
<path d="M639.0 331.9C632.5 334.4 641.8 337.9 642.8 344.4C643.8 350.9 644.0 357.9 644.0 364.4C644.0 370.9 642.0 373.9 642.8 376.9C643.5 379.9 646.8 372.9 647.8 379.4C648.8 385.9 642.3 403.4 647.8 409.5C653.3 415.5 669.8 425.0 675.3 409.5C680.8 393.9 682.6 347.4 675.3 331.9C668.0 316.3 645.5 329.4 639.0 331.9Z" fill="#FFDD2D"/>
</g><use href="#bm"/><use href="#fr"/>
</g>
<g transform="translate(861.4 469.3)">
<g clip-path="url(#dr)">
<rect x="39.6" y="59.3" width="798.9" height="358.5" fill="#EEA22E"/>
<path d="M501.6 87.3C496.1 88.5 491.1 88.5 486.6 91.0C482.1 93.5 480.8 95.0 479.1 99.8C477.3 104.5 477.3 108.8 477.8 114.8C478.3 120.8 478.8 124.8 481.6 129.8C484.3 134.8 486.6 136.3 491.6 139.8C496.6 143.3 500.6 145.4 506.6 147.3C512.6 149.2 516.9 149.8 521.6 149.3C526.4 148.8 528.4 148.7 530.4 144.8C532.4 140.9 531.9 135.3 531.6 129.8C531.4 124.3 530.1 122.3 529.1 117.3C528.1 112.3 526.1 109.3 526.6 104.8C527.1 100.3 529.6 98.3 531.6 94.8C533.6 91.3 537.6 89.3 536.6 87.3C535.6 85.3 531.1 85.3 526.6 84.8C522.1 84.2 519.1 84.2 514.1 84.8C509.1 85.3 507.1 86.0 501.6 87.3Z" fill="#FFDD2D"/>
<path d="M549.2 39.7C485.8 46.2 546.4 65.0 547.9 72.2C549.4 79.5 552.9 74.7 556.7 76.0C560.4 77.2 563.2 75.7 566.7 78.5C570.2 81.2 572.2 84.5 574.2 89.8C576.2 95.0 577.2 98.8 576.7 104.8C576.2 110.8 573.7 113.8 571.7 119.8C569.7 125.8 568.4 128.8 566.7 134.8C564.9 140.8 562.4 146.3 562.9 149.8C563.4 153.3 565.4 152.3 569.2 152.3C572.9 152.3 577.2 151.6 581.7 149.8C586.2 148.1 587.7 145.1 591.7 143.6C595.7 142.1 597.7 141.6 601.7 142.3C605.7 143.1 608.2 144.3 611.7 147.3C615.2 150.3 617.2 152.8 619.2 157.3C621.2 161.8 618.7 166.4 621.7 169.9C624.7 173.4 628.3 174.9 634.3 174.9C640.3 174.9 645.3 172.4 651.8 169.9C658.3 167.4 661.8 164.9 666.8 162.3C671.8 159.8 675.6 159.8 676.8 157.3C678.1 154.8 673.1 154.3 673.1 149.8C673.1 145.3 674.1 139.8 676.8 134.8C679.6 129.8 681.8 129.8 686.8 124.8C691.8 119.8 696.3 115.3 701.8 109.8C707.4 104.3 709.4 101.3 714.4 97.3C719.4 93.3 721.9 92.3 726.9 89.8C731.9 87.3 733.4 84.8 739.4 84.8C745.4 84.8 750.4 86.8 756.9 89.8C763.4 92.8 766.9 95.8 771.9 99.8C776.9 103.8 778.4 105.8 781.9 109.8C785.4 113.8 786.4 117.3 789.5 119.8C792.5 122.3 792.5 120.8 797.0 122.3C801.5 123.8 806.0 125.3 812.0 127.3C818.0 129.3 819.0 130.8 827.0 132.3C835.0 133.8 844.5 153.3 852.0 134.8C859.5 116.3 925.1 58.7 864.5 39.7C804.0 20.7 612.5 33.2 549.2 39.7Z" fill="#FFDD2D"/>
<path d="M619.2 39.7C614.7 48.2 619.7 70.2 621.7 82.2C623.7 94.3 626.2 95.8 629.3 99.8C632.3 103.8 634.3 105.3 636.8 102.3C639.3 99.3 640.3 97.3 641.8 84.8C643.3 72.2 648.8 48.7 644.3 39.7C639.8 30.7 623.7 31.2 619.2 39.7Z" fill="#FFFF38"/>
<path d="M4.5 39.7C53.0 -41.4 198.5 32.9 247.3 39.7C296.1 46.5 246.0 66.0 248.5 73.5C251.0 81.0 255.5 75.5 259.8 77.2C264.1 79.0 265.8 79.2 269.8 82.2C273.8 85.3 276.3 87.3 279.8 92.3C283.3 97.3 285.3 101.3 287.3 107.3C289.3 113.3 287.8 117.3 289.8 122.3C291.8 127.3 293.3 128.8 297.3 132.3C301.4 135.8 303.9 137.1 309.9 139.8C315.9 142.6 320.4 144.6 327.4 146.1C334.4 147.6 337.4 147.6 344.9 147.3C352.4 147.1 356.9 146.1 364.9 144.8C372.9 143.6 376.9 141.3 385.0 141.1C393.0 140.8 397.0 142.3 405.0 143.6C413.0 144.8 420.7 147.1 425.0 147.3C429.3 147.6 423.2 144.3 426.5 144.8C429.8 145.3 435.5 147.3 441.5 149.8C447.5 152.3 449.5 154.3 456.5 157.3C463.5 160.3 469.6 161.8 476.6 164.9C483.6 167.9 486.6 168.9 491.6 172.4C496.6 175.9 497.6 179.1 501.6 182.4C505.6 185.6 506.6 187.1 511.6 188.6C516.6 190.1 520.6 190.1 526.6 189.9C532.6 189.6 535.6 188.4 541.6 187.4C547.7 186.4 549.7 185.9 556.7 184.9C563.7 183.9 568.7 182.8 576.7 182.4C584.7 182.0 588.7 182.6 596.7 182.9C604.7 183.1 609.7 183.2 616.7 183.6C623.7 184.0 625.7 183.6 631.8 184.9C637.8 186.1 642.8 187.9 646.8 189.9C650.8 191.9 647.8 193.6 651.8 194.9C655.8 196.1 660.8 196.4 666.8 196.1C672.8 195.9 676.8 195.4 681.8 193.6C686.8 191.9 688.3 190.6 691.8 187.4C695.3 184.1 695.8 180.9 699.3 177.4C702.8 173.9 704.8 172.4 709.4 169.9C713.9 167.4 716.9 166.4 721.9 164.9C726.9 163.3 729.9 163.8 734.4 162.3C738.9 160.8 741.6 160.8 744.4 157.3C747.2 153.8 746.7 149.3 748.2 144.8C749.7 140.3 749.2 137.6 751.9 134.8C754.7 132.1 756.9 131.6 761.9 131.1C766.9 130.6 771.9 131.1 776.9 132.3C781.9 133.6 782.9 135.3 787.0 137.3C791.0 139.3 793.0 140.8 797.0 142.3C801.0 143.8 796.0 134.3 807.0 144.8C818.0 155.3 843.0 134.8 852.0 194.9C861.0 255.0 1021.5 395.1 852.0 445.2C682.5 495.3 174.0 526.3 4.5 445.2C-165.0 364.1 -44.1 120.8 4.5 39.7Z" fill="#E2786D"/>
<path d="M536.6 97.3C538.1 93.8 540.6 92.8 544.1 92.3C547.7 91.8 550.7 92.3 554.2 94.8C557.7 97.3 559.9 99.8 561.7 104.8C563.4 109.8 563.4 113.8 562.9 119.8C562.4 125.8 561.4 129.8 559.2 134.8C556.9 139.8 554.7 143.8 551.7 144.8C548.7 145.8 546.7 143.8 544.1 139.8C541.6 135.8 540.6 130.8 539.1 124.8C537.6 118.8 537.1 115.3 536.6 109.8C536.1 104.3 535.1 100.8 536.6 97.3Z" fill="#E2786D"/>
<path d="M515.4 39.7C517.1 35.7 527.4 35.7 529.1 39.7C530.9 43.7 529.5 64.7 528.6 69.7C527.8 74.7 524.5 77.2 522.9 77.2C521.2 77.2 517.1 74.7 516.1 69.7C515.1 64.7 513.6 43.7 515.4 39.7Z" fill="#E2786D"/>
<path d="M4.5 39.7C45.0 -41.4 165.9 32.9 207.2 39.7C248.5 46.5 208.0 65.5 211.0 73.5C214.0 81.5 217.5 76.7 222.3 79.7C227.0 82.7 230.8 84.5 234.8 88.5C238.8 92.5 241.0 95.3 242.3 99.8C243.5 104.3 243.0 107.0 241.0 111.0C239.0 115.0 236.5 116.5 232.3 119.8C228.0 123.0 222.8 124.3 219.8 127.3C216.7 130.3 214.7 133.1 217.2 134.8C219.8 136.6 226.8 136.0 232.3 136.1C237.8 136.2 239.8 134.3 244.8 135.3C249.8 136.3 252.3 138.2 257.3 141.1C262.3 144.0 264.3 146.6 269.8 149.8C275.3 153.1 278.8 154.6 284.8 157.3C290.8 160.1 293.8 161.3 299.9 163.6C305.9 165.9 309.4 166.4 314.9 168.6C320.4 170.9 323.4 172.4 327.4 174.9C331.4 177.4 331.4 179.9 334.9 181.1C338.4 182.4 339.9 182.0 344.9 181.1C349.9 180.3 353.9 178.2 359.9 176.9C365.9 175.5 367.9 174.7 374.9 174.4C382.0 174.1 387.0 174.9 395.0 175.4C403.0 175.9 408.7 176.2 415.0 176.9C421.3 177.5 421.2 178.0 426.5 178.6C431.8 179.2 435.5 178.9 441.5 179.9C447.5 180.9 449.5 182.1 456.5 183.6C463.5 185.1 469.6 185.6 476.6 187.4C483.6 189.1 485.6 190.1 491.6 192.4C497.6 194.6 500.6 196.9 506.6 198.6C512.6 200.4 515.6 200.6 521.6 201.1C527.6 201.6 529.6 201.4 536.6 201.1C543.6 200.9 548.7 200.6 556.7 199.9C564.7 199.1 568.7 198.1 576.7 197.4C584.7 196.6 588.7 196.4 596.7 196.1C604.7 195.9 609.7 195.4 616.7 196.1C623.7 196.9 626.8 198.1 631.8 199.9C636.8 201.6 637.8 202.9 641.8 204.9C645.8 206.9 647.8 209.2 651.8 209.9C655.8 210.7 656.8 209.7 661.8 208.7C666.8 207.7 671.3 206.7 676.8 204.9C682.3 203.1 684.8 202.4 689.3 199.9C693.8 197.4 695.8 195.6 699.3 192.4C702.8 189.1 703.3 187.1 706.9 183.6C710.4 180.1 712.9 177.6 716.9 174.9C720.9 172.1 722.4 171.6 726.9 169.9C731.4 168.1 735.1 168.1 739.4 166.1C743.6 164.1 745.6 163.1 748.2 159.8C750.7 156.6 750.2 153.6 751.9 149.8C753.7 146.1 753.9 143.6 756.9 141.1C759.9 138.6 762.9 137.8 766.9 137.3C770.9 136.8 772.9 137.3 776.9 138.6C780.9 139.8 782.9 141.8 787.0 143.6C791.0 145.3 783.9 136.1 797.0 147.3C810.0 158.6 841.0 140.3 852.0 199.9C863.0 259.5 1021.5 396.1 852.0 445.2C682.5 494.3 174.0 526.3 4.5 445.2C-165.0 364.1 -36.1 120.8 4.5 39.7Z" fill="#D5492A"/>
<path d="M34.5 107.3C38.5 90.5 47.5 109.3 54.5 107.3C61.6 105.3 61.6 100.5 69.6 97.3C77.6 94.0 87.1 93.3 94.6 91.0C102.1 88.8 102.1 86.3 107.1 86.0C112.1 85.8 115.9 87.3 119.6 89.8C123.4 92.3 123.4 94.5 125.9 98.5C128.4 102.5 130.1 106.0 132.1 109.8C134.1 113.5 136.1 113.8 135.9 117.3C135.6 120.8 133.4 122.8 130.9 127.3C128.4 131.8 125.6 134.8 123.4 139.8C121.1 144.8 121.6 148.1 119.6 152.3C117.6 156.6 116.6 157.8 113.4 161.1C110.1 164.3 107.1 166.4 103.4 168.6C99.6 170.9 97.8 169.9 94.6 172.4C91.3 174.9 90.3 177.9 87.1 181.1C83.8 184.4 82.8 186.6 78.3 188.6C73.8 190.6 73.3 190.6 64.6 191.1C55.8 191.6 40.5 207.9 34.5 191.1C28.5 174.4 30.5 124.0 34.5 107.3Z" fill="#E2786D"/>
<path d="M34.5 123.5C38.5 114.4 48.0 123.3 54.5 123.5C61.1 123.8 62.1 122.5 67.1 124.8C72.1 127.1 75.3 130.3 79.6 134.8C83.8 139.3 86.3 142.8 88.3 147.3C90.3 151.8 90.8 153.8 89.6 157.3C88.3 160.8 86.1 162.6 82.1 164.9C78.1 167.1 79.1 167.7 69.6 168.6C60.1 169.5 41.5 178.4 34.5 169.4C27.5 160.3 30.5 132.7 34.5 123.5Z" fill="#EEA22E"/>
<path d="M127.1 39.7C129.5 36.0 144.7 36.4 147.2 39.7C149.7 43.0 147.2 59.1 145.9 64.7C144.6 70.4 139.3 81.9 137.1 82.2C135.0 82.6 131.0 72.9 129.6 67.2C128.3 61.6 124.8 43.4 127.1 39.7Z" fill="#E2786D"/>
<path d="M4.5 217.4C17.5 171.9 54.5 218.9 69.6 217.4C84.6 215.9 75.6 213.4 79.6 209.9C83.6 206.4 86.6 204.4 89.6 199.9C92.6 195.4 92.1 191.9 94.6 187.4C97.1 182.9 98.1 180.9 102.1 177.4C106.1 173.9 109.6 172.9 114.6 169.9C119.6 166.9 122.1 165.4 127.1 162.3C132.1 159.3 134.1 157.3 139.7 154.8C145.2 152.3 148.7 151.1 154.7 149.8C160.7 148.6 162.7 148.6 169.7 148.6C176.7 148.6 181.7 148.6 189.7 149.8C197.7 151.1 201.7 152.6 209.7 154.8C217.7 157.1 222.8 158.6 229.8 161.1C236.8 163.6 238.8 164.6 244.8 167.4C250.8 170.1 252.8 172.1 259.8 174.9C266.8 177.6 271.8 179.1 279.8 181.1C287.8 183.1 291.8 183.4 299.9 184.9C307.9 186.4 311.9 187.1 319.9 188.6C327.9 190.1 332.9 190.9 339.9 192.4C346.9 193.9 347.9 195.1 354.9 196.1C361.9 197.1 366.9 197.0 374.9 197.4C383.0 197.7 386.0 197.6 395.0 197.9C404.0 198.1 413.7 199.7 420.0 198.6C426.3 197.5 420.2 193.1 426.5 192.4C432.8 191.6 441.5 193.1 451.5 194.9C461.5 196.6 467.6 198.9 476.6 201.1C485.6 203.4 489.6 203.9 496.6 206.2C503.6 208.4 505.6 210.2 511.6 212.4C517.6 214.7 520.1 216.4 526.6 217.4C533.1 218.4 537.1 217.9 544.1 217.4C551.2 216.9 555.2 215.9 561.7 214.9C568.2 213.9 569.7 213.2 576.7 212.4C583.7 211.7 589.7 210.7 596.7 211.2C603.7 211.7 606.7 213.2 611.7 214.9C616.7 216.7 618.7 216.9 621.7 219.9C624.7 222.9 623.7 226.7 626.8 229.9C629.8 233.2 631.8 235.2 636.8 236.2C641.8 237.2 646.3 236.2 651.8 234.9C657.3 233.7 659.3 232.9 664.3 229.9C669.3 226.9 671.8 223.9 676.8 219.9C681.8 215.9 684.3 213.9 689.3 209.9C694.3 205.9 697.3 203.9 701.8 199.9C706.3 195.9 707.9 193.9 711.9 189.9C715.9 185.9 717.9 183.1 721.9 179.9C725.9 176.6 727.4 175.6 731.9 173.6C736.4 171.6 740.4 172.1 744.4 169.9C748.4 167.6 749.7 165.9 751.9 162.3C754.2 158.8 753.7 155.8 755.7 152.3C757.7 148.8 758.7 146.6 761.9 144.8C765.2 143.1 767.9 143.1 771.9 143.6C775.9 144.1 777.9 145.6 781.9 147.3C785.9 149.1 777.9 140.8 792.0 152.3C806.0 163.8 840.0 146.3 852.0 204.9C864.0 263.5 1021.5 397.1 852.0 445.2C682.5 493.3 174.0 490.8 4.5 445.2C-165.0 399.6 -8.5 263.0 4.5 217.4Z" fill="#CC2229"/>
<path d="M4.5 245.0C22.0 204.4 74.1 245.5 92.1 242.4C110.1 239.4 93.6 234.9 94.6 229.9C95.6 224.9 95.6 221.9 97.1 217.4C98.6 212.9 100.1 211.9 102.1 207.4C104.1 202.9 105.1 199.4 107.1 194.9C109.1 190.4 108.6 188.6 112.1 184.9C115.6 181.1 119.1 178.9 124.6 176.1C130.1 173.4 132.6 172.4 139.7 171.1C146.7 169.9 151.7 170.1 159.7 169.9C167.7 169.6 171.7 169.6 179.7 169.9C187.7 170.1 191.7 170.4 199.7 171.1C207.7 171.9 212.7 171.9 219.8 173.6C226.8 175.4 228.8 177.6 234.8 179.9C240.8 182.1 243.8 182.4 249.8 184.9C255.8 187.4 257.8 189.9 264.8 192.4C271.8 194.9 276.8 195.6 284.8 197.4C292.8 199.1 296.8 199.6 304.9 201.1C312.9 202.6 316.9 203.4 324.9 204.9C332.9 206.4 338.9 206.2 344.9 208.7C350.9 211.2 349.9 215.2 354.9 217.4C359.9 219.7 362.9 219.9 369.9 219.9C376.9 219.9 382.0 218.4 390.0 217.4C398.0 216.4 402.0 215.8 410.0 214.9C418.0 214.0 426.7 212.9 430.0 212.9C433.3 212.9 422.2 214.0 426.5 214.9C430.8 215.8 441.5 215.9 451.5 217.4C461.5 218.9 466.6 220.2 476.6 222.4C486.6 224.7 492.6 226.4 501.6 228.7C510.6 230.9 514.6 232.4 521.6 233.7C528.6 234.9 529.6 235.2 536.6 234.9C543.6 234.7 548.7 233.4 556.7 232.4C564.7 231.4 568.7 230.4 576.7 229.9C584.7 229.4 589.7 228.9 596.7 229.9C603.7 230.9 605.7 232.4 611.7 234.9C617.7 237.4 620.7 240.7 626.8 242.4C632.8 244.2 635.8 244.2 641.8 243.7C647.8 243.2 650.8 241.2 656.8 239.9C662.8 238.7 665.8 238.4 671.8 237.4C677.8 236.4 681.8 236.9 686.8 234.9C691.8 232.9 693.3 230.4 696.8 227.4C700.3 224.4 700.8 223.9 704.3 219.9C707.9 215.9 710.4 211.9 714.4 207.4C718.4 202.9 720.9 201.4 724.4 197.4C727.9 193.4 728.9 191.4 731.9 187.4C734.9 183.4 736.1 180.9 739.4 177.4C742.6 173.9 744.1 172.5 748.2 169.9C752.2 167.3 754.7 165.9 759.4 164.3C764.2 162.8 766.9 162.2 771.9 162.3C776.9 162.4 768.4 155.8 784.4 164.9C800.5 173.9 838.5 151.3 852.0 207.4C865.5 263.5 1021.5 397.6 852.0 445.2C682.5 492.8 174.0 485.3 4.5 445.2C-165.0 405.2 -13.0 285.5 4.5 245.0Z" fill="#8E2226"/>
<path d="M4.5 270.0C24.5 234.4 84.1 269.5 104.6 267.5C125.1 265.5 106.1 263.5 107.1 260.0C108.1 256.5 107.1 253.5 109.6 250.0C112.1 246.5 116.6 246.0 119.6 242.4C122.6 238.9 124.6 236.9 124.6 232.4C124.6 227.9 121.1 224.4 119.6 219.9C118.1 215.4 115.1 213.9 117.1 209.9C119.1 205.9 125.1 204.4 129.6 199.9C134.1 195.4 135.6 191.6 139.7 187.4C143.7 183.1 143.7 181.4 149.7 178.6C155.7 175.9 161.7 174.4 169.7 173.6C177.7 172.9 181.7 173.9 189.7 174.9C197.7 175.9 201.7 176.6 209.7 178.6C217.7 180.6 222.8 182.6 229.8 184.9C236.8 187.1 239.3 187.4 244.8 189.9C250.3 192.4 253.5 193.4 257.3 197.4C261.1 201.4 261.6 204.4 263.6 209.9C265.6 215.4 265.8 219.7 267.3 224.9C268.8 230.2 268.6 233.7 271.1 236.2C273.6 238.7 276.1 239.7 279.8 237.4C283.6 235.2 285.3 230.0 289.8 224.9C294.3 219.8 297.3 213.4 302.4 211.9C307.4 210.4 309.9 214.3 314.9 217.4C319.9 220.5 321.9 223.4 327.4 227.4C332.9 231.4 336.9 235.2 342.4 237.4C347.9 239.7 349.4 238.7 354.9 238.7C360.4 238.7 362.9 238.2 369.9 237.4C376.9 236.7 382.0 235.7 390.0 234.9C398.0 234.2 402.0 234.2 410.0 233.7C418.0 233.2 426.7 231.4 430.0 232.4C433.3 233.4 424.2 237.2 426.5 238.7C428.8 240.2 435.0 238.7 441.5 239.9C448.0 241.2 452.0 243.7 459.0 245.0C466.0 246.2 468.1 245.7 476.6 246.2C485.1 246.7 492.6 246.2 501.6 247.5C510.6 248.7 515.6 251.0 521.6 252.5C527.6 254.0 526.6 255.0 531.6 255.0C536.6 255.0 540.6 254.5 546.7 252.5C552.7 250.5 555.7 247.7 561.7 245.0C567.7 242.2 570.7 239.2 576.7 238.7C582.7 238.2 585.7 240.7 591.7 242.4C597.7 244.2 601.7 245.5 606.7 247.5C611.7 249.5 612.7 251.0 616.7 252.5C620.7 254.0 621.7 254.0 626.8 255.0C631.8 256.0 635.8 256.5 641.8 257.5C647.8 258.5 651.8 260.5 656.8 260.0C661.8 259.5 662.8 257.5 666.8 255.0C670.8 252.5 672.8 250.0 676.8 247.5C680.8 245.0 682.8 244.4 686.8 242.4C690.8 240.4 692.8 239.4 696.8 237.4C700.8 235.4 702.8 231.4 706.9 232.4C710.9 233.4 687.8 239.9 716.9 242.4C745.9 245.0 825.0 204.4 852.0 245.0C879.1 285.5 1021.5 405.2 852.0 445.2C682.5 485.3 174.0 480.2 4.5 445.2C-165.0 410.2 -15.5 305.5 4.5 270.0Z" fill="#62171A"/>
<path d="M343.7 242.4C338.1 244.4 345.5 255.3 343.7 257.5C341.8 259.6 333.7 258.4 329.9 258.7C326.0 259.1 318.9 259.5 314.9 260.0C310.9 260.5 303.2 261.1 299.9 262.5C296.5 263.8 292.2 267.6 289.8 270.0C287.5 272.3 284.3 277.7 282.3 280.0C280.3 282.3 277.3 285.7 274.8 287.5C272.3 289.3 265.2 291.4 263.6 293.8C261.9 296.1 261.5 302.8 262.3 305.0C263.1 307.3 265.5 309.8 269.8 310.5C274.2 311.3 289.5 309.3 294.8 310.5C300.2 311.8 306.5 317.1 309.9 320.0C313.2 323.0 316.9 329.8 319.9 332.6C322.9 335.3 329.1 339.8 332.4 340.6C335.7 341.3 341.6 338.7 344.9 338.1C348.2 337.4 353.4 335.0 357.4 335.6C361.4 336.2 370.9 340.0 374.9 342.6C378.9 345.2 385.1 354.8 387.5 355.1C389.9 355.4 392.6 349.1 393.0 345.1C393.4 341.1 392.1 330.1 390.5 325.1C388.8 320.0 383.1 311.5 380.5 307.5C377.8 303.5 373.1 298.7 370.4 295.0C367.8 291.3 362.8 283.7 360.4 280.0C358.0 276.3 353.0 270.5 352.4 267.5C351.8 264.5 353.8 259.8 356.2 257.5C358.5 255.1 366.1 251.5 369.9 250.0C373.8 248.5 383.0 247.2 385.0 246.2C387.0 245.2 390.5 242.9 385.0 242.4C379.4 241.9 349.2 240.4 343.7 242.4Z" fill="#8E2226"/>
<path d="M186.0 283.7C189.5 279.7 194.0 282.0 199.7 282.5C205.5 283.0 207.7 284.0 214.7 286.3C221.8 288.5 233.8 290.5 234.8 293.8C235.8 297.0 224.3 299.3 219.8 302.5C215.2 305.8 217.2 309.0 212.2 310.0C207.2 311.0 200.7 309.0 194.7 307.5C188.7 306.0 184.0 307.3 182.2 302.5C180.5 297.8 182.5 287.8 186.0 283.7Z" fill="#8E2226"/>
<path d="M351.2 341.3C352.3 339.9 359.9 339.1 362.4 339.6C364.9 340.1 369.6 343.4 369.9 345.1C370.3 346.7 367.1 351.3 364.9 352.1C362.8 352.8 355.5 352.0 353.7 350.6C351.8 349.1 350.0 342.8 351.2 341.3Z" fill="#CC2229"/>
<path d="M82.1 245.0C81.7 240.8 89.4 238.9 92.1 239.9C94.8 240.9 100.3 248.5 102.1 252.5C103.9 256.5 106.9 267.5 105.9 270.0C104.9 272.5 97.8 274.6 94.6 271.2C91.4 267.9 82.4 249.1 82.1 245.0Z" fill="#8E2226"/>
<path d="M83.3 245.0C83.0 241.4 89.8 242.0 92.1 243.7C94.4 245.4 99.3 254.1 100.9 257.5C102.4 260.8 104.2 267.1 103.4 268.7C102.5 270.4 97.3 273.2 94.6 270.0C91.9 266.8 83.7 248.5 83.3 245.0Z" fill="#D5492A"/>
<path d="M203.5 316.3C206.1 315.6 214.9 325.7 219.8 327.6C224.6 329.4 234.4 330.1 239.8 330.1C245.1 330.1 256.3 326.7 259.8 327.6C263.3 328.4 264.7 332.0 266.1 336.3C267.4 340.7 268.3 354.6 269.8 360.1C271.3 365.6 274.8 372.9 277.3 377.6C279.8 382.3 286.9 390.5 288.6 395.1C290.3 399.8 292.3 410.0 289.8 412.7C287.3 415.3 275.8 417.5 269.8 415.2C263.8 412.8 251.5 401.8 244.8 395.1C238.1 388.5 225.8 373.4 219.8 365.1C213.7 356.8 201.9 339.1 199.7 332.6C197.6 326.1 200.8 317.0 203.5 316.3Z" fill="#8E2226"/>
<path d="M214.7 332.6C216.4 329.7 228.3 342.5 232.3 343.8C236.3 345.2 241.6 342.2 244.8 342.6C248.0 342.9 253.9 343.7 256.0 346.3C258.2 349.0 259.2 358.1 261.1 362.6C262.9 367.1 267.1 375.8 269.8 380.1C272.5 384.5 279.1 390.8 281.1 395.1C283.1 399.5 286.3 410.0 284.8 412.7C283.3 415.3 275.2 417.5 269.8 415.2C264.5 412.8 251.5 401.8 244.8 395.1C238.1 388.5 223.8 373.4 219.8 365.1C215.7 356.8 213.1 335.4 214.7 332.6Z" fill="#CC2229"/>
<path d="M224.8 348.8C227.1 347.2 236.1 353.6 239.8 355.1C243.4 356.6 249.6 357.4 252.3 360.1C255.0 362.8 257.5 371.1 259.8 375.1C262.1 379.1 267.1 386.1 269.8 390.1C272.5 394.1 279.8 401.8 279.8 405.2C279.8 408.5 274.5 416.5 269.8 415.2C265.1 413.8 251.1 401.5 244.8 395.1C238.4 388.8 224.9 373.8 222.3 367.6C219.6 361.4 222.4 350.5 224.8 348.8Z" fill="#D5492A"/>
<path d="M254.8 387.6C255.8 386.8 265.0 389.7 267.3 391.4C269.6 393.1 273.3 399.3 272.3 400.1C271.3 401.0 262.1 399.3 259.8 397.6C257.5 396.0 253.8 388.5 254.8 387.6Z" fill="#EEA22E"/>
<path d="M137.1 297.5C138.0 289.1 146.8 298.6 149.7 298.8C152.5 298.9 177.5 298.6 179.7 300.0C181.9 301.4 181.2 317.0 182.2 320.0C183.2 323.0 192.5 341.7 194.7 345.1C196.9 348.4 211.7 366.4 214.7 370.1C217.7 373.8 236.8 396.5 239.8 400.1C242.8 403.8 266.6 423.5 259.8 425.2C253.0 426.8 145.3 433.7 137.1 425.2C129.0 416.7 136.3 305.9 137.1 297.5Z" fill="#8E2226"/>
<path d="M137.1 313.8C138.6 306.4 156.8 314.5 159.7 314.5C162.6 314.6 179.4 314.7 181.0 315.0C182.5 315.4 181.3 318.0 182.2 320.0C183.1 322.0 192.5 341.7 194.7 345.1C196.9 348.4 211.7 366.4 214.7 370.1C217.7 373.8 236.8 396.5 239.8 400.1C242.8 403.8 266.6 423.5 259.8 425.2C253.0 426.8 145.3 432.6 137.1 425.2C129.0 417.7 135.6 321.2 137.1 313.8Z" fill="#CC2229"/>
<path d="M137.1 321.3C139.0 314.4 161.7 321.3 164.7 321.3C167.7 321.3 180.2 319.7 182.2 321.3C184.2 322.9 192.5 341.8 194.7 345.1C196.9 348.3 211.7 366.4 214.7 370.1C217.7 373.8 236.8 396.5 239.8 400.1C242.8 403.8 266.6 423.5 259.8 425.2C253.0 426.8 145.3 432.1 137.1 425.2C129.0 418.3 135.3 328.2 137.1 321.3Z" fill="#D5492A"/>
<path d="M137.1 327.1C139.1 320.5 164.0 327.0 167.2 327.1C170.4 327.1 182.9 326.4 184.7 327.6C186.5 328.8 192.7 342.2 194.7 345.1C196.7 347.9 211.7 366.4 214.7 370.1C217.7 373.8 236.8 396.5 239.8 400.1C242.8 403.8 266.6 423.5 259.8 425.2C253.0 426.8 145.3 431.7 137.1 425.2C129.0 418.6 135.1 333.6 137.1 327.1Z" fill="#EEA22E"/>
<path d="M137.1 332.6C139.3 326.4 166.4 332.5 169.7 332.6C173.0 332.6 185.5 332.2 187.2 333.1C188.9 333.9 192.9 342.6 194.7 345.1C196.6 347.5 211.7 366.4 214.7 370.1C217.7 373.8 236.8 396.5 239.8 400.1C242.8 403.8 266.6 423.5 259.8 425.2C253.0 426.8 145.3 431.3 137.1 425.2C129.0 419.0 135.0 338.7 137.1 332.6Z" fill="#FFDD2D"/>
<path d="M179.7 367.6C179.7 365.3 190.7 364.8 194.7 365.1C198.7 365.4 206.4 367.4 209.7 370.1C213.1 372.8 216.4 380.5 219.8 385.1C223.1 389.8 231.4 400.5 234.8 405.2C238.1 409.8 246.8 418.2 244.8 420.2C242.8 422.2 226.4 425.2 219.8 420.2C213.1 415.2 200.1 389.6 194.7 382.6C189.4 375.6 179.7 369.9 179.7 367.6Z" fill="#FFFF38"/>
<path d="M187.7 343.8C188.4 342.7 196.0 343.6 197.7 345.1C199.5 346.6 201.7 353.9 201.0 355.1C200.2 356.3 194.0 355.3 192.2 353.8C190.4 352.3 187.0 345.0 187.7 343.8Z" fill="#F6F18E"/>
</g><use href="#bm"/><use href="#fr"/>
</g>
<g transform="translate(0.5 945.5)">
<g clip-path="url(#dr)">
<rect x="39.6" y="59.3" width="798.9" height="358.5" fill="#FFDD2D"/>
<path d="M201.0 130.9C203.0 127.9 203.5 129.9 209.7 129.6C216.0 129.4 225.3 129.4 232.3 129.6C239.3 129.9 237.3 130.4 244.8 130.9C252.3 131.4 261.8 131.1 269.8 132.1C277.8 133.1 279.3 133.9 284.8 135.9C290.3 137.9 292.8 139.1 297.3 142.1C301.9 145.1 303.4 146.9 307.4 150.9C311.4 154.9 314.1 156.9 317.4 162.1C320.6 167.4 321.1 171.2 323.6 177.2C326.1 183.2 328.1 186.7 329.9 192.2C331.6 197.7 332.8 199.2 332.4 204.7C332.0 210.2 330.4 213.7 327.9 219.7C325.4 225.7 322.9 229.2 319.9 234.7C316.9 240.2 314.9 242.2 312.9 247.3C310.9 252.3 311.5 254.3 309.9 259.8C308.3 265.3 307.9 268.8 304.9 274.8C301.9 280.8 297.8 284.8 294.8 289.8C291.8 294.8 290.3 295.8 289.8 299.8C289.3 303.8 288.8 305.8 292.3 309.8C295.8 313.8 300.9 313.8 307.4 319.8C313.9 325.9 319.9 332.4 324.9 339.9C329.9 347.4 330.4 351.9 332.4 357.4C334.4 362.9 331.4 362.9 334.9 367.4C338.4 371.9 343.9 376.9 349.9 379.9C355.9 382.9 358.9 382.9 364.9 382.4C370.9 381.9 374.9 377.9 380.0 377.4C385.0 376.9 386.0 377.9 390.0 379.9C394.0 381.9 395.0 385.9 400.0 387.4C405.0 388.9 411.0 385.9 415.0 387.4C419.0 388.9 419.0 387.4 420.0 394.9C421.0 402.4 470.1 419.0 420.0 425.0C369.9 431.0 219.8 446.0 169.7 425.0C119.6 403.9 167.7 343.9 169.7 319.8C171.7 295.8 174.7 307.6 179.7 304.8C184.7 302.1 188.5 306.1 194.7 306.1C201.0 306.1 207.5 307.6 211.0 304.8C214.5 302.1 210.5 297.3 212.2 292.3C214.0 287.3 216.7 284.3 219.8 279.8C222.8 275.3 225.3 274.3 227.3 269.8C229.3 265.3 230.3 262.3 229.8 257.3C229.3 252.3 226.8 249.8 224.8 244.8C222.8 239.7 222.3 237.2 219.8 232.2C217.2 227.2 215.0 225.2 212.2 219.7C209.5 214.2 207.7 210.7 206.0 204.7C204.2 198.7 204.2 195.7 203.5 189.7C202.7 183.7 203.0 180.7 202.2 174.7C201.5 168.7 200.2 165.7 199.7 159.6C199.2 153.6 199.5 150.4 199.7 144.6C200.0 138.9 199.0 133.9 201.0 130.9Z" fill="#FFFF38"/>
<path d="M269.8 317.3C271.3 315.6 277.3 316.8 282.3 316.1C287.3 315.3 288.3 311.3 294.8 313.6C301.4 315.8 308.4 321.6 314.9 327.4C321.4 333.1 323.4 337.9 327.4 342.4C331.4 346.9 334.4 346.4 334.9 349.9C335.4 353.4 332.9 355.9 329.9 359.9C326.9 363.9 324.4 368.4 319.9 369.9C315.4 371.4 312.4 370.9 307.4 367.4C302.4 363.9 299.3 358.4 294.8 352.4C290.3 346.4 288.8 342.9 284.8 337.4C280.8 331.9 277.8 328.9 274.8 324.9C271.8 320.8 268.3 319.1 269.8 317.3Z" fill="#FFDD2D"/>
<path d="M34.5 54.5C38.5 53.9 150.7 53.9 154.7 54.5C158.7 55.2 158.7 73.4 154.7 74.0C150.7 74.7 38.5 74.7 34.5 74.0C30.5 73.4 30.5 55.2 34.5 54.5Z" fill="#FFFF38"/>
<path d="M227.3 39.5C99.2 46.4 186.7 67.1 227.3 74.0C267.8 80.9 389.2 69.9 430.0 74.0C470.8 78.1 431.4 88.2 431.3 94.6C431.2 100.9 428.4 101.8 429.5 105.8C430.6 109.8 434.0 110.3 437.0 114.6C440.0 118.8 440.5 122.3 444.5 127.1C448.5 131.9 451.0 134.9 457.0 138.4C463.0 141.9 467.0 143.0 474.6 144.6C482.1 146.3 487.1 146.9 494.6 146.6C502.1 146.4 506.1 142.8 512.1 143.4C518.1 144.0 520.1 149.4 524.6 149.6C529.1 149.9 531.1 147.1 534.6 144.6C538.1 142.1 539.1 138.1 542.1 137.1C545.1 136.1 547.6 137.1 549.7 139.6C551.7 142.1 551.2 144.6 552.2 149.6C553.2 154.6 553.2 160.1 554.7 164.7C556.2 169.2 556.7 170.9 559.7 172.2C562.7 173.4 565.7 170.4 569.7 170.9C573.7 171.4 574.9 173.9 579.7 174.7C584.4 175.4 587.4 174.2 593.5 174.7C599.5 175.2 604.5 175.2 609.7 177.2C615.0 179.2 617.7 180.7 619.7 184.7C621.7 188.7 620.7 193.2 619.7 197.2C618.7 201.2 618.7 202.7 614.7 204.7C610.7 206.7 604.7 205.2 599.7 207.2C594.7 209.2 593.7 212.2 589.7 214.7C585.7 217.2 584.7 217.7 579.7 219.7C574.7 221.7 570.2 222.7 564.7 224.7C559.2 226.7 556.2 227.2 552.2 229.7C548.1 232.2 548.1 234.5 544.6 237.2C541.1 240.0 533.6 241.5 534.6 243.5C535.6 245.5 544.1 246.0 549.7 247.3C555.2 248.5 558.7 247.3 562.2 249.8C565.7 252.3 565.7 256.3 567.2 259.8C568.7 263.3 566.2 265.8 569.7 267.3C573.2 268.8 577.7 267.5 584.7 267.3C591.7 267.0 598.2 266.0 604.7 266.0C611.2 266.0 612.7 265.5 617.2 267.3C621.7 269.0 623.2 271.3 627.2 274.8C631.3 278.3 633.3 280.8 637.3 284.8C641.3 288.8 643.8 289.8 647.3 294.8C650.8 299.8 638.3 304.8 654.8 309.8C671.3 314.8 687.3 337.9 729.9 319.8C772.4 301.8 840.0 275.8 867.5 219.7C895.1 163.6 995.6 75.5 867.5 39.5C739.5 3.4 355.3 32.6 227.3 39.5Z" fill="#FFFF38"/>
<path d="M667.3 229.7C669.3 226.7 674.3 226.0 679.8 224.7C685.3 223.5 689.8 222.5 694.8 223.5C699.8 224.5 703.8 226.5 704.8 229.7C705.8 233.0 704.8 237.2 699.8 239.7C694.8 242.2 685.8 242.2 679.8 242.2C673.8 242.2 672.3 242.2 669.8 239.7C667.3 237.2 665.3 232.7 667.3 229.7Z" fill="#FFDD2D"/>
<path d="M669.8 244.8C671.8 241.7 677.6 244.2 679.8 247.3C682.1 250.3 681.8 255.3 681.1 259.8C680.3 264.3 678.3 269.3 676.1 269.8C673.8 270.3 671.1 267.3 669.8 262.3C668.5 257.3 667.8 247.8 669.8 244.8Z" fill="#FFDD2D"/>
<path d="M751.2 163.4C755.9 160.9 775.1 160.9 779.9 163.4C784.7 165.9 784.7 175.9 779.9 178.4C775.1 180.9 755.9 180.9 751.2 178.4C746.4 175.9 746.4 165.9 751.2 163.4Z" fill="#FFDD2D"/>
<path d="M654.8 39.5C632.8 46.0 653.5 64.5 656.0 72.0C658.5 79.5 664.5 74.0 667.3 77.0C670.1 80.0 667.3 84.0 669.8 87.1C672.3 90.1 670.3 91.1 679.8 92.1C689.3 93.1 707.3 94.1 717.4 92.1C727.4 90.1 723.4 85.1 729.9 82.0C736.4 79.0 742.9 79.0 749.9 77.0C756.9 75.0 761.7 79.5 764.9 72.0C768.2 64.5 788.2 46.0 766.2 39.5C744.1 33.0 676.8 33.0 654.8 39.5Z" fill="#F6F18E"/>
<path d="M73.3 174.7C75.2 170.4 77.8 168.9 82.1 168.4C86.3 167.9 90.1 169.4 94.6 172.2C99.1 174.9 101.6 177.2 104.6 182.2C107.6 187.2 106.6 191.7 109.6 197.2C112.6 202.7 115.1 205.2 119.6 209.7C124.1 214.2 127.1 215.7 132.1 219.7C137.1 223.7 140.2 226.2 144.7 229.7C149.2 233.2 150.7 233.7 154.7 237.2C158.7 240.7 161.2 243.2 164.7 247.3C168.2 251.3 169.9 252.8 172.2 257.3C174.4 261.8 175.0 262.3 175.9 269.8C176.8 277.3 177.9 289.2 176.7 294.8C175.4 300.4 175.1 297.2 169.7 297.8C164.3 298.4 155.7 300.9 149.7 297.8C143.7 294.7 144.7 287.7 139.7 282.3C134.6 276.9 130.1 274.5 124.6 271.0C119.1 267.5 116.6 268.0 112.1 264.8C107.6 261.5 105.6 259.3 102.1 254.8C98.6 250.3 97.6 246.8 94.6 242.2C91.6 237.7 90.1 236.7 87.1 232.2C84.1 227.7 82.1 225.2 79.6 219.7C77.1 214.2 76.0 210.7 74.6 204.7C73.2 198.7 72.8 195.7 72.6 189.7C72.3 183.7 71.4 178.9 73.3 174.7Z" fill="#EEA22E"/>
<path d="M67.1 98.3C67.4 96.5 74.4 94.6 77.1 94.6C79.7 94.6 84.4 97.3 87.1 98.3C89.8 99.3 96.4 100.6 97.1 102.1C97.8 103.6 93.8 108.1 92.1 109.6C90.4 111.1 86.9 113.5 84.6 113.3C82.2 113.2 76.9 110.3 74.6 108.3C72.2 106.3 66.7 100.2 67.1 98.3Z" fill="#EEA22E"/>
<path d="M357.4 231.0C361.4 228.0 364.9 228.7 369.9 227.2C374.9 225.7 377.4 223.5 382.5 223.5C387.5 223.5 389.5 225.0 395.0 227.2C400.5 229.5 404.0 231.7 410.0 234.7C416.0 237.7 421.1 240.2 425.0 242.2C428.9 244.2 426.6 243.2 429.5 244.8C432.4 246.3 435.5 247.3 439.5 249.8C443.5 252.3 445.0 254.3 449.5 257.3C454.0 260.3 457.0 261.8 462.0 264.8C467.0 267.8 469.0 269.3 474.6 272.3C480.1 275.3 483.6 276.3 489.6 279.8C495.6 283.3 498.6 286.3 504.6 289.8C510.6 293.3 513.6 295.1 519.6 297.3C525.6 299.6 528.6 299.6 534.6 301.1C540.6 302.6 543.6 303.3 549.7 304.8C555.7 306.3 558.7 307.1 564.7 308.6C570.7 310.1 574.2 310.6 579.7 312.3C585.2 314.1 587.2 316.1 592.2 317.3C597.2 318.6 599.7 319.3 604.7 318.6C609.7 317.8 612.2 315.1 617.2 313.6C622.2 312.1 625.5 310.8 629.8 311.1C634.0 311.3 637.0 312.1 638.5 314.8C640.0 317.6 638.0 319.8 637.3 324.9C636.5 329.9 635.0 333.4 634.8 339.9C634.5 346.4 635.5 350.4 636.0 357.4C636.5 364.4 636.0 368.4 637.3 374.9C638.5 381.4 640.8 383.9 642.3 389.9C643.8 395.9 652.3 395.9 644.8 405.0C637.3 414.0 637.8 439.5 604.7 435.0C571.7 430.5 515.3 396.2 479.6 382.4C443.9 368.7 438.4 368.7 426.3 366.2C414.1 363.6 421.0 367.2 418.7 369.9C416.5 372.7 417.7 377.4 415.0 379.9C412.2 382.4 409.0 383.4 405.0 382.4C401.0 381.4 399.0 377.4 395.0 374.9C391.0 372.4 389.0 369.9 385.0 369.9C381.0 369.9 380.0 372.9 374.9 374.9C369.9 376.9 365.4 379.9 359.9 379.9C354.4 379.9 351.9 377.9 347.4 374.9C342.9 371.9 340.4 368.9 337.4 364.9C334.4 360.9 332.4 358.9 332.4 354.9C332.4 350.9 338.4 348.4 337.4 344.9C336.4 341.4 329.9 341.4 327.4 337.4C324.9 333.4 324.4 329.4 324.9 324.9C325.4 320.3 326.9 318.8 329.9 314.8C332.9 310.8 338.4 309.8 339.9 304.8C341.4 299.8 338.9 295.8 337.4 289.8C335.9 283.8 332.9 280.3 332.4 274.8C331.9 269.3 332.9 266.8 334.9 262.3C336.9 257.8 339.4 256.3 342.4 252.3C345.4 248.3 346.9 246.5 349.9 242.2C352.9 238.0 353.4 234.0 357.4 231.0Z" fill="#EEA22E"/>
<path d="M433.3 319.8C433.8 318.8 438.4 312.7 439.5 312.3C440.6 312.0 442.8 315.3 444.5 316.1C446.3 316.8 457.0 319.1 457.0 319.8C457.0 320.6 446.8 323.3 444.5 323.6C442.3 323.9 435.6 323.2 434.5 322.8C433.4 322.5 432.8 320.9 433.3 319.8Z" fill="#E2786D"/>
<path d="M635.8 328.6C627.8 331.9 635.6 338.6 635.3 344.9C635.0 351.1 634.3 353.9 634.3 359.9C634.3 365.9 634.4 368.9 635.3 374.9C636.2 380.9 637.4 384.7 638.8 389.9C640.2 395.2 635.1 397.9 642.3 401.2C649.5 404.4 668.3 420.7 674.8 406.2C681.3 391.7 682.6 344.1 674.8 328.6C667.0 313.1 643.7 325.4 635.8 328.6Z" fill="#FFDD2D"/>
<path d="M646.8 391.2C648.0 389.5 653.2 389.5 654.8 391.2C656.3 392.9 657.3 399.5 656.0 401.2C654.8 402.9 648.8 402.9 647.3 401.2C645.7 399.5 645.5 392.9 646.8 391.2Z" fill="#FFFF38"/>
<path d="M137.1 307.3C138.6 299.7 156.8 309.7 159.7 309.8C162.5 310.0 178.2 309.2 179.7 309.8C181.2 310.5 181.2 317.5 182.2 319.8C183.2 322.2 192.5 341.5 194.7 344.9C196.9 348.2 211.7 366.2 214.7 369.9C217.7 373.6 236.8 396.3 239.8 399.9C242.8 403.6 266.6 423.3 259.8 425.0C253.0 426.6 145.3 432.8 137.1 425.0C129.0 417.1 135.6 315.0 137.1 307.3Z" fill="#FFFF38"/>
<path d="M137.1 329.9C139.3 323.5 166.4 329.9 169.7 329.9C172.9 329.9 184.3 328.9 186.0 329.9C187.6 330.9 192.8 342.2 194.7 344.9C196.6 347.5 211.7 366.2 214.7 369.9C217.7 373.6 236.8 396.3 239.8 399.9C242.8 403.6 266.6 423.3 259.8 425.0C253.0 426.6 145.3 431.3 137.1 425.0C129.0 418.6 135.0 336.2 137.1 329.9Z" fill="#F6F18E"/>
<path d="M192.2 359.9C192.9 356.2 201.4 358.7 204.7 362.4C208.1 366.1 213.2 380.8 217.2 387.4C221.3 394.1 235.1 408.8 234.8 412.5C234.4 416.1 219.4 418.0 214.7 415.0C210.1 412.0 202.7 397.3 199.7 389.9C196.7 382.6 191.5 363.6 192.2 359.9Z" fill="#FFFDD6"/>
<path d="M254.8 382.4C254.8 378.4 264.8 378.9 269.8 379.9C274.8 380.9 275.8 384.7 279.8 387.4C283.8 390.2 284.8 392.2 289.8 393.7C294.8 395.2 298.8 393.7 304.9 394.9C310.9 396.2 316.9 394.9 319.9 399.9C322.9 405.0 325.9 416.0 319.9 420.0C313.9 424.0 299.9 424.0 289.8 420.0C279.8 416.0 276.8 407.5 269.8 399.9C262.8 392.4 254.8 386.4 254.8 382.4Z" fill="#F6F18E"/>
<path d="M268.6 207.2C268.9 206.2 277.0 206.2 277.3 207.2C277.6 208.2 277.6 237.4 277.3 238.5C277.0 239.5 268.9 239.5 268.6 238.5C268.3 237.4 268.3 208.2 268.6 207.2Z" fill="#F6F18E"/>
</g><use href="#bm"/><use href="#fr"/>
</g>
<g transform="translate(862.0 950.5)">
<g clip-path="url(#dr)">
<rect x="39.6" y="59.3" width="798.9" height="358.5" fill="#EEA22E"/>
<path d="M276.6 39.5C159.8 46.0 277.6 63.5 280.3 72.0C283.1 80.5 285.8 78.3 290.3 82.0C294.8 85.8 297.8 87.6 302.9 90.8C307.9 94.1 310.9 95.1 315.4 98.3C319.9 101.6 322.4 102.8 325.4 107.1C328.4 111.3 327.9 116.7 330.4 119.6C332.9 122.4 332.6 119.1 337.9 121.3C343.2 123.6 349.2 126.7 356.7 130.9C364.2 135.0 369.2 138.4 375.4 142.1C381.7 145.9 382.5 146.9 388.0 149.6C393.5 152.4 398.0 154.3 403.0 155.9C408.0 157.5 408.5 156.4 413.0 157.6C417.5 158.9 421.0 159.7 425.5 162.1C430.0 164.6 431.8 166.9 435.5 169.7C439.3 172.4 442.2 174.4 444.3 175.9C446.4 177.4 441.7 175.7 446.0 177.2C450.4 178.7 458.0 181.2 466.1 183.4C474.1 185.7 478.1 186.7 486.1 188.4C494.1 190.2 498.1 190.9 506.1 192.2C514.1 193.4 518.1 193.9 526.1 194.7C534.1 195.4 538.1 195.4 546.2 195.9C554.2 196.4 558.2 196.4 566.2 197.2C574.2 197.9 578.2 198.7 586.2 199.7C594.2 200.7 598.2 201.7 606.2 202.2C614.2 202.7 618.2 202.7 626.3 202.2C634.3 201.7 638.3 200.4 646.3 199.7C654.3 198.9 658.3 199.2 666.3 198.4C674.3 197.7 679.3 197.2 686.3 195.9C693.3 194.7 695.3 193.9 701.3 192.2C707.4 190.4 710.9 189.7 716.4 187.2C721.9 184.7 724.4 183.2 728.9 179.7C733.4 176.2 735.4 173.7 738.9 169.7C742.4 165.7 743.4 163.6 746.4 159.6C749.4 155.6 750.9 153.1 753.9 149.6C756.9 146.1 757.9 145.1 761.4 142.1C764.9 139.1 766.4 137.1 771.4 134.6C776.4 132.1 780.4 131.6 786.5 129.6C792.5 127.6 796.5 127.1 801.5 124.6C806.5 122.1 808.5 120.6 811.5 117.1C814.5 113.6 815.0 111.6 816.5 107.1C818.0 102.6 817.0 98.1 819.0 94.6C821.0 91.1 823.0 91.1 826.5 89.6C830.0 88.1 829.0 87.6 836.5 87.1C844.0 86.6 858.5 96.6 864.0 87.1C869.6 77.5 981.5 49.0 864.0 39.5C746.6 30.0 393.3 33.0 276.6 39.5Z" fill="#FFDD2D"/>
<path d="M366.7 39.5C268.0 46.0 367.7 63.5 370.4 72.0C373.2 80.5 375.4 78.3 380.5 82.0C385.5 85.8 389.5 87.3 395.5 90.8C401.5 94.3 405.0 95.8 410.5 99.6C416.0 103.3 419.0 105.6 423.0 109.6C427.0 113.6 428.0 114.6 430.5 119.6C433.0 124.6 433.0 129.6 435.5 134.6C438.0 139.6 441.9 142.6 443.0 144.6C444.1 146.6 437.4 146.1 441.0 144.6C444.6 143.1 453.0 140.1 461.0 137.1C469.1 134.1 473.1 132.1 481.1 129.6C489.1 127.1 495.1 126.6 501.1 124.6C507.1 122.6 505.1 121.3 511.1 119.6C517.1 117.8 523.1 116.3 531.1 115.8C539.1 115.3 543.1 116.3 551.2 117.1C559.2 117.8 563.2 118.1 571.2 119.6C579.2 121.1 584.2 122.1 591.2 124.6C598.2 127.1 600.7 128.6 606.2 132.1C611.7 135.6 614.7 138.1 618.7 142.1C622.7 146.1 625.2 148.1 626.3 152.1C627.3 156.1 623.7 158.6 623.7 162.1C623.7 165.7 622.7 168.7 626.3 169.7C629.8 170.7 635.3 168.7 641.3 167.2C647.3 165.7 651.3 163.1 656.3 162.1C661.3 161.1 662.3 161.1 666.3 162.1C670.3 163.1 669.3 166.7 676.3 167.2C683.3 167.7 692.3 165.7 701.3 164.7C710.4 163.6 714.4 163.6 721.4 162.1C728.4 160.6 731.4 159.6 736.4 157.1C741.4 154.6 743.4 153.1 746.4 149.6C749.4 146.1 748.9 143.6 751.4 139.6C753.9 135.6 755.4 133.6 758.9 129.6C762.4 125.6 764.4 123.1 768.9 119.6C773.4 116.1 776.9 115.1 781.4 112.1C785.9 109.1 788.5 108.1 791.5 104.6C794.5 101.1 794.5 98.1 796.5 94.6C798.5 91.1 797.5 89.1 801.5 87.1C805.5 85.1 809.5 85.1 816.5 84.6C823.5 84.0 827.0 84.6 836.5 84.6C846.0 84.6 858.5 93.6 864.0 84.6C869.6 75.5 963.5 48.5 864.0 39.5C764.6 30.5 465.4 33.0 366.7 39.5Z" fill="#FFFF38"/>
<path d="M496.1 39.5C436.5 45.5 494.3 62.5 497.3 69.5C500.3 76.5 504.3 72.5 511.1 74.5C517.9 76.5 524.1 77.0 531.1 79.5C538.1 82.0 540.1 84.0 546.2 87.1C552.2 90.1 555.2 91.6 561.2 94.6C567.2 97.6 570.2 99.1 576.2 102.1C582.2 105.1 584.2 106.8 591.2 109.6C598.2 112.3 603.2 113.8 611.2 115.8C619.2 117.8 623.2 118.6 631.3 119.6C639.3 120.6 642.3 121.1 651.3 120.8C660.3 120.6 666.3 119.6 676.3 118.3C686.3 117.1 691.3 116.3 701.3 114.6C711.4 112.8 717.4 111.6 726.4 109.6C735.4 107.6 739.4 107.1 746.4 104.6C753.4 102.1 755.4 100.1 761.4 97.1C767.4 94.1 771.4 93.1 776.4 89.6C781.4 86.1 782.9 83.5 786.5 79.5C790.0 75.5 792.2 77.5 794.0 69.5C795.7 61.5 854.8 45.5 795.2 39.5C735.6 33.5 555.7 33.5 496.1 39.5Z" fill="#F6F18E"/>
<path d="M566.2 155.9C568.0 155.2 576.5 154.1 581.2 154.1C585.9 154.1 598.9 155.1 601.2 155.9C603.6 156.7 601.4 159.6 598.7 160.1C596.0 160.6 585.4 159.7 581.2 159.6C577.0 159.6 569.4 160.1 567.4 159.6C565.4 159.1 564.3 156.6 566.2 155.9Z" fill="#EEA22E"/>
<path d="M137.6 39.5C145.7 33.0 170.7 33.0 180.2 39.5C189.7 46.0 182.2 64.0 185.2 72.0C188.2 80.0 190.2 76.8 195.2 79.5C200.2 82.3 204.2 83.5 210.2 85.8C216.2 88.1 219.2 89.1 225.3 90.8C231.3 92.6 234.3 92.6 240.3 94.6C246.3 96.6 249.3 98.1 255.3 100.8C261.3 103.6 264.8 105.6 270.3 108.3C275.8 111.1 278.3 111.8 282.8 114.6C287.3 117.3 288.8 119.1 292.8 122.1C296.8 125.1 298.8 126.6 302.9 129.6C306.9 132.6 308.9 134.1 312.9 137.1C316.9 140.1 319.4 141.6 322.9 144.6C326.4 147.6 327.4 149.4 330.4 152.1C333.4 154.9 332.6 155.9 337.9 158.4C343.2 160.9 349.2 161.6 356.7 164.7C364.2 167.7 367.9 169.9 375.4 173.4C383.0 176.9 386.7 178.9 394.2 182.2C401.7 185.4 405.5 187.2 413.0 189.7C420.5 192.2 425.8 193.2 431.8 194.7C437.8 196.2 440.2 196.4 443.0 197.2C445.9 197.9 441.4 196.9 446.0 198.4C450.6 199.9 458.0 202.2 466.1 204.7C474.1 207.2 478.1 208.5 486.1 211.0C494.1 213.5 498.1 215.2 506.1 217.2C514.1 219.2 518.1 220.0 526.1 221.0C534.1 222.0 538.1 222.2 546.2 222.2C554.2 222.2 558.2 221.5 566.2 221.0C574.2 220.5 578.2 220.5 586.2 219.7C594.2 219.0 598.2 217.7 606.2 217.2C614.2 216.7 618.2 217.7 626.3 217.2C634.3 216.7 638.3 216.2 646.3 214.7C654.3 213.2 658.3 212.0 666.3 209.7C674.3 207.5 679.3 206.0 686.3 203.4C693.3 200.9 695.3 199.4 701.3 197.2C707.4 194.9 711.4 194.4 716.4 192.2C721.4 189.9 722.4 188.9 726.4 185.9C730.4 182.9 732.9 180.4 736.4 177.2C739.9 173.9 741.4 172.7 743.9 169.7C746.4 166.7 746.4 165.2 748.9 162.1C751.4 159.1 752.9 157.6 756.4 154.6C759.9 151.6 762.4 149.9 766.4 147.1C770.4 144.4 772.4 142.9 776.4 140.9C780.4 138.9 782.9 138.4 786.5 137.1C790.0 135.9 780.9 128.1 794.0 134.6C807.0 141.1 840.0 107.6 851.5 169.7C863.0 231.7 1020.8 389.9 851.5 445.0C682.2 500.1 174.3 499.8 5.0 445.0C-164.3 390.2 -4.5 225.7 5.0 170.9C14.5 116.1 41.0 171.2 52.5 170.9C64.1 170.7 59.5 171.9 62.6 169.7C65.6 167.4 65.1 163.6 67.6 159.6C70.1 155.6 71.6 153.9 75.1 149.6C78.6 145.4 80.6 142.4 85.1 138.4C89.6 134.4 92.6 132.9 97.6 129.6C102.6 126.4 104.6 124.6 110.1 122.1C115.6 119.6 119.6 119.1 125.1 117.1C130.6 115.1 134.1 115.6 137.6 112.1C141.2 108.6 141.4 105.1 142.7 99.6C143.9 94.1 144.4 90.1 143.9 84.6C143.4 79.0 141.4 81.0 140.2 72.0C138.9 63.0 129.6 46.0 137.6 39.5Z" fill="#E2786D"/>
<path d="M150.2 168.4C154.7 167.9 155.7 164.4 160.2 162.1C164.7 159.9 168.7 159.1 172.7 157.1C176.7 155.1 178.2 155.1 180.2 152.1C182.2 149.1 181.7 146.6 182.7 142.1C183.7 137.6 183.2 133.6 185.2 129.6C187.2 125.6 188.7 124.3 192.7 122.1C196.7 119.8 199.7 118.8 205.2 118.3C210.7 117.8 214.2 118.8 220.3 119.6C226.3 120.3 229.3 120.6 235.3 122.1C241.3 123.6 244.3 125.1 250.3 127.1C256.3 129.1 259.3 129.6 265.3 132.1C271.3 134.6 274.8 136.6 280.3 139.6C285.8 142.6 287.8 144.1 292.8 147.1C297.8 150.1 300.9 151.6 305.4 154.6C309.9 157.6 311.4 159.1 315.4 162.1C319.4 165.2 320.9 166.9 325.4 169.7C329.9 172.4 331.6 172.7 337.9 175.9C344.2 179.2 349.2 181.9 356.7 185.9C364.2 189.9 367.9 192.2 375.4 195.9C383.0 199.7 386.7 201.7 394.2 204.7C401.7 207.7 405.5 209.5 413.0 211.0C420.5 212.5 425.8 211.7 431.8 212.2C437.8 212.7 440.2 213.0 443.0 213.5C445.9 214.0 441.4 213.2 446.0 214.7C450.6 216.2 458.0 218.5 466.1 221.0C474.1 223.5 478.1 225.0 486.1 227.2C494.1 229.5 498.1 230.7 506.1 232.2C514.1 233.7 518.1 234.2 526.1 234.7C534.1 235.2 538.1 235.0 546.2 234.7C554.2 234.5 558.2 234.0 566.2 233.5C574.2 233.0 578.2 232.7 586.2 232.2C594.2 231.7 598.2 231.5 606.2 231.0C614.2 230.5 618.2 230.7 626.3 229.7C634.3 228.7 638.3 228.0 646.3 226.0C654.3 224.0 658.3 222.5 666.3 219.7C674.3 217.0 679.3 215.2 686.3 212.2C693.3 209.2 695.8 207.5 701.3 204.7C706.9 201.9 709.4 200.9 713.9 198.4C718.4 195.9 719.9 195.2 723.9 192.2C727.9 189.2 730.4 186.9 733.9 183.4C737.4 179.9 738.4 177.9 741.4 174.7C744.4 171.4 745.4 169.7 748.9 167.2C752.4 164.7 754.4 163.9 758.9 162.1C763.4 160.4 766.4 159.4 771.4 158.4C776.4 157.4 767.9 153.9 783.9 157.1C800.0 160.4 838.0 117.1 851.5 174.7C865.0 232.2 1020.8 390.9 851.5 445.0C682.2 499.1 156.3 470.0 5.0 445.0C-146.3 420.0 75.1 354.4 95.1 319.8C115.1 285.3 102.4 283.8 105.1 272.3C107.9 260.8 108.4 265.8 108.9 262.3C109.4 258.8 108.4 258.3 107.6 254.8C106.9 251.3 107.1 248.8 105.1 244.8C103.1 240.7 101.1 239.2 97.6 234.7C94.1 230.2 90.8 227.2 87.6 222.2C84.3 217.2 82.3 214.7 81.3 209.7C80.3 204.7 80.8 200.7 82.6 197.2C84.3 193.7 86.1 194.7 90.1 192.2C94.1 189.7 97.6 188.2 102.6 184.7C107.6 181.2 110.6 177.7 115.1 174.7C119.6 171.7 120.6 171.7 125.1 169.7C129.6 167.7 132.6 164.9 137.6 164.7C142.7 164.4 145.7 168.9 150.2 168.4Z" fill="#D5492A"/>
<path d="M246.5 158.4C250.5 157.9 254.5 160.1 260.3 162.1C266.1 164.1 269.3 165.9 275.3 168.4C281.3 170.9 284.3 172.2 290.3 174.7C296.3 177.2 299.3 178.4 305.4 180.9C311.4 183.4 315.4 184.4 320.4 187.2C325.4 189.9 326.4 191.7 330.4 194.7C334.4 197.7 336.4 199.9 340.4 202.2C344.4 204.4 346.9 205.0 350.4 206.0C353.9 207.0 355.4 205.2 357.9 207.2C360.4 209.2 360.7 211.7 362.9 216.0C365.2 220.2 366.7 224.2 369.2 228.5C371.7 232.7 372.9 234.2 375.4 237.2C377.9 240.2 378.7 241.2 381.7 243.5C384.7 245.8 386.7 246.5 390.5 248.5C394.2 250.5 396.0 252.0 400.5 253.5C405.0 255.0 408.0 256.3 413.0 256.0C418.0 255.8 420.5 254.3 425.5 252.3C430.5 250.3 434.0 247.8 438.0 246.0C442.0 244.2 443.9 244.1 445.5 243.5C447.1 242.8 443.9 242.5 446.0 242.7C448.1 243.0 450.0 243.8 456.0 244.8C462.0 245.7 468.1 246.5 476.1 247.3C484.1 248.0 488.1 248.3 496.1 248.5C504.1 248.8 508.1 248.8 516.1 248.5C524.1 248.3 528.1 247.8 536.1 247.3C544.1 246.8 548.2 246.3 556.2 246.0C564.2 245.8 568.2 246.3 576.2 246.0C584.2 245.8 588.2 245.3 596.2 244.8C604.2 244.2 608.2 244.2 616.2 243.5C624.2 242.7 628.3 242.5 636.3 241.0C644.3 239.5 648.3 238.5 656.3 236.0C664.3 233.5 669.3 231.5 676.3 228.5C683.3 225.5 686.3 223.7 691.3 221.0C696.3 218.2 697.3 217.5 701.3 214.7C705.3 212.0 707.9 210.0 711.4 207.2C714.9 204.4 715.9 203.4 718.9 200.9C721.9 198.4 723.4 197.2 726.4 194.7C729.4 192.2 731.4 190.4 733.9 188.4C736.4 186.4 730.4 183.4 738.9 184.7C747.4 185.9 753.9 187.7 776.4 194.7C799.0 201.7 836.5 169.7 851.5 219.7C866.6 269.8 969.3 399.9 851.5 445.0C733.8 490.1 381.0 449.0 262.8 445.0C144.6 441.0 264.8 434.0 260.3 425.0C255.8 416.0 249.3 411.0 240.3 399.9C231.3 388.9 224.3 380.9 215.2 369.9C206.2 358.9 201.7 354.9 195.2 344.9C188.7 334.9 185.5 327.9 182.7 319.8C179.9 311.8 181.5 308.8 181.5 304.8C181.5 300.8 183.0 302.3 182.7 299.8C182.5 297.3 182.2 295.3 180.2 292.3C178.2 289.3 176.2 288.3 172.7 284.8C169.2 281.3 166.2 278.8 162.7 274.8C159.2 270.8 156.4 268.8 155.2 264.8C153.9 260.8 155.4 259.3 156.4 254.8C157.4 250.3 158.9 247.8 160.2 242.2C161.4 236.7 161.7 233.2 162.7 227.2C163.7 221.2 163.2 217.7 165.2 212.2C167.2 206.7 169.2 203.7 172.7 199.7C176.2 195.7 178.7 194.2 182.7 192.2C186.7 190.2 189.2 189.2 192.7 189.7C196.2 190.2 196.7 192.7 200.2 194.7C203.7 196.7 206.2 198.2 210.2 199.7C214.2 201.2 216.2 202.7 220.3 202.2C224.3 201.7 227.3 200.2 230.3 197.2C233.3 194.2 234.0 191.7 235.3 187.2C236.5 182.7 235.5 179.2 236.5 174.7C237.5 170.2 238.3 167.9 240.3 164.7C242.3 161.4 242.5 158.9 246.5 158.4Z" fill="#CC2229"/>
<path d="M751.4 169.7C752.7 168.5 758.7 167.8 761.4 167.2C764.1 166.5 768.8 164.8 771.4 164.7C774.1 164.5 779.4 165.2 781.4 165.9C783.4 166.6 787.1 168.5 786.5 169.7C785.8 170.8 781.1 173.8 776.4 174.7C771.8 175.5 754.7 176.6 751.4 175.9C748.1 175.2 750.1 170.8 751.4 169.7Z" fill="#CC2229"/>
<path d="M275.3 200.9C278.8 199.9 281.3 202.9 285.3 204.7C289.3 206.5 290.8 207.7 295.3 209.7C299.8 211.7 302.9 211.7 307.9 214.7C312.9 217.7 315.4 220.7 320.4 224.7C325.4 228.7 328.6 231.2 332.9 234.7C337.1 238.2 339.1 237.2 341.7 242.2C344.2 247.3 343.7 253.8 345.4 259.8C347.2 265.8 347.9 268.5 350.4 272.3C352.9 276.0 352.9 276.8 357.9 278.5C362.9 280.3 368.2 281.0 375.4 281.0C382.7 281.0 386.7 279.5 394.2 278.5C401.7 277.5 405.5 276.8 413.0 276.0C420.5 275.3 425.3 274.8 431.8 274.8C438.3 274.8 442.7 276.5 445.5 276.0C448.4 275.5 443.9 272.8 446.0 272.3C448.1 271.8 450.0 273.3 456.0 273.5C462.0 273.8 469.1 274.0 476.1 273.5C483.1 273.0 485.1 272.3 491.1 271.0C497.1 269.8 499.1 269.0 506.1 267.3C513.1 265.5 518.1 263.8 526.1 262.3C534.1 260.8 538.1 260.3 546.2 259.8C554.2 259.3 558.2 260.0 566.2 259.8C574.2 259.5 578.2 259.0 586.2 258.5C594.2 258.0 598.2 258.0 606.2 257.3C614.2 256.5 618.2 255.8 626.3 254.8C634.3 253.8 639.3 253.8 646.3 252.3C653.3 250.8 655.3 249.8 661.3 247.3C667.3 244.8 670.8 242.7 676.3 239.7C681.8 236.7 684.8 235.2 688.8 232.2C692.8 229.2 693.8 227.2 696.3 224.7C698.8 222.2 690.3 220.7 701.3 219.7C712.4 218.7 721.4 214.7 751.4 219.7C781.4 224.7 831.5 199.7 851.5 244.8C871.6 289.8 969.3 405.0 851.5 445.0C733.8 485.1 379.0 451.0 262.8 445.0C146.6 439.0 270.8 425.0 270.3 415.0C269.8 405.0 263.8 401.9 260.3 394.9C256.8 387.9 254.8 384.9 252.8 379.9C250.8 374.9 252.8 374.4 250.3 369.9C247.8 365.4 244.8 361.9 240.3 357.4C235.8 352.9 232.3 351.9 227.8 347.4C223.3 342.9 220.8 340.4 217.7 334.9C214.7 329.4 214.2 324.3 212.7 319.8C211.2 315.3 212.2 315.8 210.2 312.3C208.2 308.8 205.0 306.3 202.7 302.3C200.5 298.3 199.0 296.3 199.0 292.3C199.0 288.3 200.0 285.3 202.7 282.3C205.5 279.3 208.2 278.3 212.7 277.3C217.2 276.3 220.8 275.8 225.3 277.3C229.8 278.8 232.3 281.3 235.3 284.8C238.3 288.3 237.8 291.3 240.3 294.8C242.8 298.3 245.0 302.3 247.8 302.3C250.5 302.3 252.0 298.8 254.0 294.8C256.0 290.8 257.3 287.3 257.8 282.3C258.3 277.3 257.0 274.8 256.5 269.8C256.0 264.8 255.3 262.3 255.3 257.3C255.3 252.3 255.8 249.8 256.5 244.8C257.3 239.7 257.8 237.2 259.0 232.2C260.3 227.2 261.1 224.2 262.8 219.7C264.6 215.2 265.3 213.5 267.8 209.7C270.3 206.0 271.8 201.9 275.3 200.9Z" fill="#8E2226"/>
<path d="M290.3 445.0C177.8 438.0 290.1 419.0 289.1 410.0C288.1 400.9 287.6 403.9 285.3 399.9C283.1 395.9 280.8 393.9 277.8 389.9C274.8 385.9 272.6 383.9 270.3 379.9C268.1 375.9 268.6 373.4 266.6 369.9C264.6 366.4 261.1 365.4 260.3 362.4C259.5 359.4 261.6 358.4 262.8 354.9C264.1 351.4 265.6 349.4 266.6 344.9C267.6 340.4 267.8 337.4 267.8 332.4C267.8 327.4 266.1 324.1 266.6 319.8C267.1 315.6 267.6 313.1 270.3 311.1C273.1 309.1 275.3 310.1 280.3 309.8C285.3 309.6 289.8 309.6 295.3 309.8C300.9 310.1 302.9 309.8 307.9 311.1C312.9 312.3 315.4 314.3 320.4 316.1C325.4 317.8 327.9 318.6 332.9 319.8C337.9 321.1 340.4 321.8 345.4 322.3C350.4 322.8 352.9 322.8 357.9 322.3C362.9 321.8 365.9 320.8 370.4 319.8C374.9 318.8 376.4 318.6 380.5 317.3C384.5 316.1 386.5 315.6 390.5 313.6C394.5 311.6 396.5 310.1 400.5 307.3C404.5 304.6 406.5 302.3 410.5 299.8C414.5 297.3 415.5 296.6 420.5 294.8C425.5 293.1 430.5 292.2 435.5 291.1C440.5 290.0 443.4 290.5 445.5 289.3C447.6 288.2 441.9 285.7 446.0 285.3C450.1 284.9 458.0 286.7 466.1 287.3C474.1 288.0 479.6 288.8 486.1 288.6C492.6 288.3 493.6 288.3 498.6 286.1C503.6 283.8 505.6 280.0 511.1 277.3C516.6 274.5 519.6 274.0 526.1 272.3C532.6 270.5 536.6 269.5 543.6 268.5C550.7 267.5 553.7 267.8 561.2 267.3C568.7 266.8 573.2 266.5 581.2 266.0C589.2 265.5 593.2 265.3 601.2 264.8C609.2 264.3 613.2 264.0 621.2 263.5C629.3 263.0 634.3 263.3 641.3 262.3C648.3 261.3 651.3 260.5 656.3 258.5C661.3 256.5 662.3 255.0 666.3 252.3C670.3 249.5 672.3 247.8 676.3 244.8C680.3 241.7 682.8 240.2 686.3 237.2C689.8 234.2 691.3 232.2 693.8 229.7C696.3 227.2 687.3 225.7 698.8 224.7C710.4 223.7 720.9 220.7 751.4 224.7C781.9 228.7 831.5 200.7 851.5 244.8C871.6 288.8 963.8 405.0 851.5 445.0C739.3 485.1 402.8 452.0 290.3 445.0Z" fill="#62171A"/>
<path d="M240.3 357.4C242.3 357.4 248.0 364.4 250.3 367.4C252.6 370.4 255.6 376.2 257.8 379.9C260.0 383.6 264.9 390.3 266.6 394.9C268.2 399.6 271.8 412.3 270.3 415.0C268.8 417.6 258.6 418.3 255.3 415.0C252.0 411.6 248.0 396.3 245.3 389.9C242.6 383.6 235.9 371.7 235.3 367.4C234.6 363.1 238.3 357.4 240.3 357.4Z" fill="#CC2229"/>
<path d="M255.3 387.4C256.6 386.9 265.8 389.8 267.8 391.2C269.8 392.5 271.6 396.9 270.3 397.4C269.0 397.9 259.8 396.3 257.8 394.9C255.8 393.6 254.0 387.9 255.3 387.4Z" fill="#E2786D"/>
<path d="M85.6 250.3C86.3 249.3 93.2 250.5 94.6 251.8C96.0 253.0 97.1 258.8 96.3 259.8C95.6 260.8 90.3 260.5 88.8 259.3C87.4 258.0 84.8 251.3 85.6 250.3Z" fill="#EEA22E"/>
<path d="M137.6 319.8C139.5 312.8 162.2 319.8 165.2 319.8C168.2 319.8 180.7 318.2 182.7 319.8C184.7 321.5 193.0 341.5 195.2 344.9C197.4 348.2 212.2 366.2 215.2 369.9C218.2 373.6 237.3 396.3 240.3 399.9C243.3 403.6 267.1 423.3 260.3 425.0C253.5 426.6 145.8 432.0 137.6 425.0C129.5 418.0 135.8 326.9 137.6 319.8Z" fill="#E2786D"/>
<path d="M137.6 326.9C139.6 320.3 164.5 326.8 167.7 326.9C170.9 326.9 183.4 326.2 185.2 327.4C187.0 328.6 193.2 342.0 195.2 344.9C197.2 347.7 212.2 366.2 215.2 369.9C218.2 373.6 237.3 396.3 240.3 399.9C243.3 403.6 267.1 423.3 260.3 425.0C253.5 426.6 145.8 431.5 137.6 425.0C129.5 418.4 135.6 333.4 137.6 326.9Z" fill="#EEA22E"/>
<path d="M137.6 332.4C139.8 326.2 166.9 332.3 170.2 332.4C173.5 332.4 186.0 332.0 187.7 332.9C189.4 333.7 193.4 342.4 195.2 344.9C197.1 347.3 212.2 366.2 215.2 369.9C218.2 373.6 237.3 396.3 240.3 399.9C243.3 403.6 267.1 423.3 260.3 425.0C253.5 426.6 145.8 431.1 137.6 425.0C129.5 418.8 135.5 338.5 137.6 332.4Z" fill="#FFDD2D"/>
<path d="M200.2 367.4C200.9 365.6 207.6 364.8 210.2 366.2C212.9 367.5 216.9 373.2 220.3 377.4C223.6 381.6 230.9 391.8 235.3 397.4C239.6 403.1 252.8 417.0 252.8 420.0C252.8 423.0 239.6 422.6 235.3 420.0C230.9 417.3 224.3 405.3 220.3 399.9C216.2 394.6 207.9 384.3 205.2 379.9C202.6 375.6 199.6 369.2 200.2 367.4Z" fill="#EEA22E"/>
<path d="M191.5 351.1C192.8 350.1 200.6 350.2 202.7 352.4C204.9 354.6 208.2 365.1 207.7 367.4C207.2 369.7 201.0 370.9 199.0 369.9C197.0 368.9 193.7 362.4 192.7 359.9C191.7 357.4 190.1 352.1 191.5 351.1Z" fill="#FFFF38"/>
<path d="M188.2 343.6C188.9 342.6 196.6 343.5 198.2 344.9C199.9 346.2 201.5 352.6 200.7 353.6C200.0 354.7 194.4 354.2 192.7 352.9C191.0 351.6 187.5 344.7 188.2 343.6Z" fill="#F6F18E"/>
</g><use href="#bm"/><use href="#fr"/>
</g>
<text x="36.9" y="41.2" class="tb" textLength="35.8" lengthAdjust="spacingAndGlyphs">a)</text>
<text x="83.3" y="41.1" class="ti" textLength="455.1" lengthAdjust="spacingAndGlyphs">Tmax CMIP5 MMM 1980-2005</text>
<text x="902.5" y="43.3" class="tb" textLength="38.3" lengthAdjust="spacingAndGlyphs">b)</text>
<text x="953.6" y="43.2" class="ti" textLength="451.3" lengthAdjust="spacingAndGlyphs">Tmax CMIP5 MMM 2031-2055</text>
<text x="35.3" y="512.6" class="tb" textLength="32.5" lengthAdjust="spacingAndGlyphs">c)</text>
<text x="79.6" y="512.5" class="ti" textLength="421.0" lengthAdjust="spacingAndGlyphs">Tax CMIP5 MMM 1980-2005</text>
<text x="901.2" y="510.7" class="tb" textLength="38.9" lengthAdjust="spacingAndGlyphs">d)</text>
<text x="951.7" y="510.6" class="ti" textLength="420.6" lengthAdjust="spacingAndGlyphs">Tax CMIP5 MMM 2031-2055</text>
<text x="35.3" y="987.6" class="tb" textLength="35.7" lengthAdjust="spacingAndGlyphs">e)</text>
<text x="82.9" y="987.5" class="ti" textLength="446.4" lengthAdjust="spacingAndGlyphs">Tmin CMIP5 MMM 1980-2005</text>
<text x="899.2" y="992.6" class="tb" textLength="31.8" lengthAdjust="spacingAndGlyphs">f)</text>
<text x="942.9" y="992.5" class="ti" textLength="447.0" lengthAdjust="spacingAndGlyphs">Tmin CMIP5 MMM 2031-2055</text>
<rect x="35.00" y="1424.3" width="82.00" height="35.7" fill="#FFFDD6"/>
<rect x="116.60" y="1424.3" width="80.70" height="35.7" fill="#F6F18E"/>
<rect x="196.90" y="1424.3" width="80.10" height="35.7" fill="#FFFF38"/>
<rect x="276.60" y="1424.3" width="78.70" height="35.7" fill="#FFDD2D"/>
<rect x="354.90" y="1424.3" width="80.00" height="35.7" fill="#EEA22E"/>
<rect x="434.50" y="1424.3" width="79.00" height="35.7" fill="#E2786D"/>
<rect x="513.10" y="1424.3" width="80.00" height="35.7" fill="#D5492A"/>
<rect x="592.70" y="1424.3" width="80.00" height="35.7" fill="#CC2229"/>
<rect x="672.30" y="1424.3" width="79.30" height="35.7" fill="#8E2226"/>
<rect x="751.20" y="1424.3" width="80.10" height="35.7" fill="#62171A"/>
<text x="37.0" y="1488.9" class="cb" text-anchor="middle">0</text>
<text x="113.1" y="1488.9" class="cb" text-anchor="middle">0.2</text>
<text x="192.8" y="1488.9" class="cb" text-anchor="middle">0.4</text>
<text x="272.4" y="1488.9" class="cb" text-anchor="middle">0.6</text>
<text x="352.0" y="1488.9" class="cb" text-anchor="middle">0.8</text>
<text x="431.6" y="1488.9" class="cb" text-anchor="middle">1.0</text>
<text x="511.3" y="1488.9" class="cb" text-anchor="middle">1.2</text>
<text x="590.9" y="1488.9" class="cb" text-anchor="middle">1.4</text>
<text x="670.5" y="1488.9" class="cb" text-anchor="middle">1.6</text>
<text x="750.2" y="1488.9" class="cb" text-anchor="middle">1.8</text>
<text x="829.8" y="1488.9" class="cb" text-anchor="middle">2.0</text>
<text x="238.3" y="1524.4" class="cl" textLength="406" lengthAdjust="spacingAndGlyphs">Frequency of Heat Wave Days (%)</text>
<rect x="905.00" y="1422.0" width="81.80" height="36.6" fill="#FFFDD6"/>
<rect x="986.40" y="1422.0" width="79.70" height="36.6" fill="#F6F18E"/>
<rect x="1065.70" y="1422.0" width="80.00" height="36.6" fill="#FFFF38"/>
<rect x="1145.30" y="1422.0" width="79.30" height="36.6" fill="#FFDD2D"/>
<rect x="1224.20" y="1422.0" width="80.50" height="36.6" fill="#EEA22E"/>
<rect x="1304.30" y="1422.0" width="78.60" height="36.6" fill="#E2786D"/>
<rect x="1382.50" y="1422.0" width="79.90" height="36.6" fill="#D5492A"/>
<rect x="1462.00" y="1422.0" width="79.90" height="36.6" fill="#CC2229"/>
<rect x="1541.50" y="1422.0" width="79.20" height="36.6" fill="#8E2226"/>
<rect x="1620.30" y="1422.0" width="80.00" height="36.6" fill="#62171A"/>
<text x="907.0" y="1487.1" class="cb" text-anchor="middle">0</text>
<text x="983.0" y="1487.1" class="cb" text-anchor="middle">2</text>
<text x="1062.6" y="1487.1" class="cb" text-anchor="middle">4</text>
<text x="1142.1" y="1487.1" class="cb" text-anchor="middle">6</text>
<text x="1221.6" y="1487.1" class="cb" text-anchor="middle">8</text>
<text x="1301.2" y="1487.1" class="cb" text-anchor="middle">10</text>
<text x="1380.7" y="1487.1" class="cb" text-anchor="middle">12</text>
<text x="1460.2" y="1487.1" class="cb" text-anchor="middle">14</text>
<text x="1539.7" y="1487.1" class="cb" text-anchor="middle">16</text>
<text x="1619.3" y="1487.1" class="cb" text-anchor="middle">18</text>
<text x="1698.8" y="1487.1" class="cb" text-anchor="middle">20</text>
<text x="1107.5" y="1521.4" class="cl" textLength="406" lengthAdjust="spacingAndGlyphs">Frequency of Heat Wave Days (%)</text>
</svg></body></html>
